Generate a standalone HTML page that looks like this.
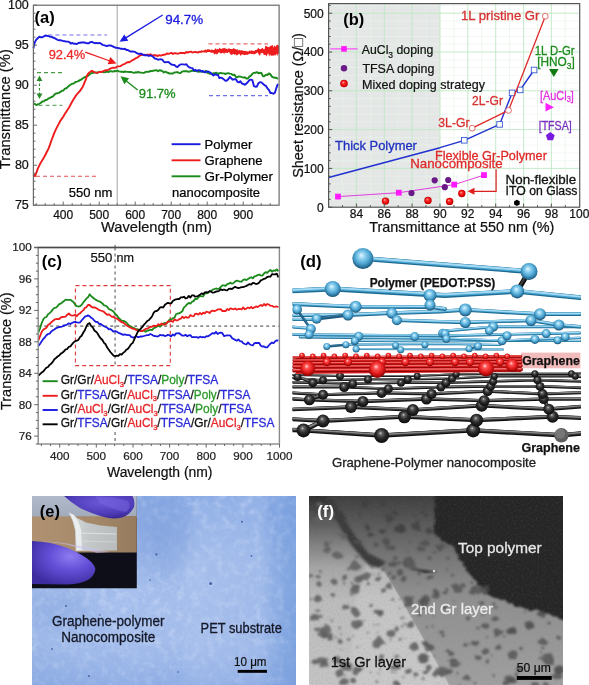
<!DOCTYPE html>
<html><head><meta charset="utf-8"><title>Graphene-polymer nanocomposite figure</title>
<style>
html,body{margin:0;padding:0;background:#fff;}
body{width:589px;height:685px;overflow:hidden;position:relative;}
svg{position:absolute;left:0;top:0;display:block;}
svg text{font-family:'Liberation Sans', Arial, sans-serif;}
</style></head><body>
<svg width="589" height="685" viewBox="0 0 589 685">
<line x1="117.2" y1="5.2" x2="117.2" y2="205.2" stroke="#9a9a9a" stroke-width="0.9" />
<line x1="48.4" y1="35.0" x2="107.0" y2="35.0" stroke="#7070e8" stroke-width="1.1" stroke-dasharray="4 3"/>
<line x1="209.0" y1="95.6" x2="268.0" y2="95.6" stroke="#7070e8" stroke-width="1.1" stroke-dasharray="4 3"/>
<line x1="208.5" y1="43.9" x2="268.0" y2="43.9" stroke="#ea6a6a" stroke-width="1.1" stroke-dasharray="4 3"/>
<line x1="36.0" y1="176.3" x2="97.2" y2="176.3" stroke="#e05050" stroke-width="1.1" stroke-dasharray="4 3"/>
<line x1="37.0" y1="72.6" x2="62.4" y2="72.6" stroke="#4a9a4a" stroke-width="1.1" stroke-dasharray="4 3"/>
<line x1="38.5" y1="105.4" x2="62.4" y2="105.4" stroke="#6aaa6a" stroke-width="1.1" stroke-dasharray="4 3"/>
<line x1="39.5" y1="79.0" x2="39.5" y2="96.0" stroke="#2a8a2a" stroke-width="1.1" stroke-dasharray="2.5 2"/>
<polygon points="39.5,75.5 36.6,81 42.4,81" fill="#2a8a2a"/>
<polygon points="39.5,99 36.6,93.5 42.4,93.5" fill="#2a8a2a"/>
<polyline points="33.4,103.6 34.9,104.0 36.4,105.1 37.9,104.2 39.4,103.8 40.9,102.8 42.4,101.5 43.9,101.2 45.4,100.0 46.9,99.7 48.4,98.6 49.9,97.8 51.4,97.0 52.9,96.5 54.4,94.6 55.9,93.5 57.4,93.2 58.9,92.9 60.4,91.9 61.9,90.8 63.4,90.5 64.9,88.6 66.4,88.3 67.9,86.8 69.4,85.5 70.9,84.5 72.4,83.7 73.9,83.4 75.4,82.0 76.9,81.6 78.4,81.1 79.9,80.1 81.4,79.5 82.9,78.3 84.4,77.4 85.9,76.6 87.4,76.2 88.9,75.0 90.4,73.7 91.9,73.0 93.4,72.8 94.9,72.4 96.4,72.7 97.9,72.5 99.4,71.8 100.9,71.9 102.4,71.9 103.9,72.2 105.4,72.1 106.9,71.5 108.4,72.1 109.9,71.2 111.4,71.3 112.9,71.7 114.4,71.0 115.9,71.2 117.4,70.7 118.9,71.3 120.4,71.7 121.9,71.6 123.4,72.0 124.9,71.5 126.4,71.9 127.9,71.9 129.4,72.0 130.9,71.9 132.4,72.4 133.9,72.8 135.4,72.3 136.9,72.5 138.4,71.9 139.9,72.6 141.4,72.6 142.9,72.9 144.4,72.7 145.9,71.9 147.4,71.7 148.9,71.9 150.4,70.8 151.9,71.2 153.4,70.7 154.9,70.4 156.4,70.1 157.9,71.2 159.4,70.2 160.9,70.5 162.4,71.1 163.9,72.5 165.4,71.7 166.9,72.5 168.4,73.0 169.9,73.6 171.4,73.5 172.9,73.5 174.4,72.4 175.9,72.3 177.4,72.1 178.9,72.9 180.4,73.1 181.9,71.7 183.4,71.3 184.9,71.2 186.4,71.2 187.9,71.5 189.4,71.7 190.9,71.1 192.4,70.5 193.9,71.0 195.4,70.9 196.9,71.2 198.4,71.9 199.9,71.6 201.4,71.4 202.9,71.7 204.4,72.0 205.9,70.8 207.4,72.9 208.9,73.3 210.4,73.8 211.9,74.0 213.4,73.1 214.9,73.2 216.4,72.6 217.9,74.1 219.4,73.1 220.9,73.0 222.4,73.4 223.9,73.4 225.4,74.0 226.9,73.4 228.4,73.2 229.9,73.6 231.4,73.9 232.9,75.0 234.4,74.6 235.9,77.1 237.4,77.3 238.9,76.4 240.4,76.6 241.9,77.2 243.4,77.6 244.9,77.3 246.4,78.5 247.9,78.5 249.4,76.6 250.9,75.6 252.4,73.8 253.9,72.9 255.4,72.8 256.9,72.1 258.4,73.3 259.9,72.8 261.4,73.0 262.9,76.2 264.4,76.2 265.9,74.6 267.4,75.0 268.9,73.4 270.4,74.4 271.9,76.6 273.4,77.5 274.9,77.8 276.4,77.7 277.9,78.9" fill="none" stroke="#1a8a1a" stroke-width="1.9" stroke-linejoin="round" />
<polyline points="33.4,174.5 34.9,176.2 36.4,172.7 37.9,168.4 39.4,165.3 40.9,162.4 42.4,160.1 43.9,157.6 45.4,154.7 46.9,151.8 48.4,148.9 49.9,144.9 51.4,140.5 52.9,136.7 54.4,132.7 55.9,129.4 57.4,126.4 58.9,123.6 60.4,120.7 61.9,118.6 63.4,116.5 64.9,113.7 66.4,111.6 67.9,109.3 69.4,106.9 70.9,104.0 72.4,101.3 73.9,98.8 75.4,96.4 76.9,94.3 78.4,92.7 79.9,91.0 81.4,88.9 82.9,86.4 84.4,82.8 85.9,79.1 87.4,74.9 88.9,72.7 90.4,71.8 91.9,70.7 93.4,71.6 94.9,72.3 96.4,72.7 97.9,72.7 99.4,72.0 100.9,72.0 102.4,71.8 103.9,70.9 105.4,70.3 106.9,70.3 108.4,69.8 109.9,68.8 111.4,68.1 112.9,67.7 114.4,67.9 115.9,67.5 117.4,66.4 118.9,66.4 120.4,66.1 121.9,65.2 123.4,64.3 124.9,63.8 126.4,62.8 127.9,62.0 129.4,62.2 130.9,61.2 132.4,60.2 133.9,59.6 135.4,58.4 136.9,57.8 138.4,56.9 139.9,55.4 141.4,55.0 142.9,54.9 144.4,54.8 145.9,55.0 147.4,54.8 148.9,54.8 150.4,54.3 151.9,55.6 153.4,55.1 154.9,55.2 156.4,55.5 157.9,56.0 159.4,55.2 160.9,55.7 162.4,55.0 163.9,54.7 165.4,54.6 166.9,53.5 168.4,53.9 169.9,53.4 171.4,52.8 172.9,54.0 174.4,53.1 175.9,53.3 177.4,53.7 178.9,53.4 180.4,52.8 181.9,53.0 183.4,53.0 184.9,53.3 186.4,52.0 187.9,52.5 189.4,51.9 190.9,51.7 192.4,52.5 193.9,52.1 195.4,52.0 196.9,52.3 198.4,52.5 199.9,51.7 201.4,51.7 202.9,51.4 204.4,51.3 205.9,51.5 207.4,51.0 208.9,51.1 210.4,51.0 211.9,51.8 213.4,51.6 214.9,51.8 216.4,52.0 217.9,50.8 219.4,51.1 220.9,51.8 222.4,51.8 223.9,50.6 225.4,50.2 226.9,50.7 228.4,50.3 229.9,50.6 231.4,50.6 232.9,51.8 234.4,52.4 235.9,52.9 237.4,51.8 238.9,52.7 240.4,53.0 241.9,52.3 243.4,53.6 244.9,54.2 246.4,52.7 247.9,53.5 249.4,52.6 250.9,52.3 252.4,53.0 253.9,52.7 255.4,51.3 256.9,51.3 258.4,51.3 259.9,50.9 261.4,50.4 262.9,50.4 264.4,51.1 265.9,49.8 267.4,50.4 268.9,50.2 270.4,49.4 271.9,49.8 273.4,50.4 274.9,50.3 276.4,49.5 277.9,51.0" fill="none" stroke="#ee1c1c" stroke-width="1.9" stroke-linejoin="round" />
<polygon points="198.0,51.5 198.9,50.9 199.8,50.9 200.7,51.6 201.6,50.2 202.5,51.4 203.4,51.1 204.3,51.4 205.2,48.9 206.1,50.4 207.0,49.4 207.9,49.1 208.8,49.4 209.7,49.4 210.6,50.3 211.5,49.4 212.4,49.8 213.3,50.1 214.2,50.0 215.1,48.5 216.0,48.4 216.9,49.7 217.8,48.7 218.7,49.2 219.6,47.5 220.5,48.8 221.4,48.9 222.3,48.6 223.2,48.1 224.1,48.5 225.0,47.4 225.9,49.3 226.8,48.6 227.7,49.5 228.6,48.3 229.5,48.5 230.4,49.1 231.3,49.0 232.2,49.3 233.1,48.4 234.0,48.1 234.9,49.3 235.8,49.0 236.7,49.8 237.6,49.3 238.5,50.8 239.4,49.8 240.3,50.6 241.2,50.2 242.1,50.1 243.0,51.3 243.9,50.5 244.8,51.2 245.7,50.7 246.6,51.5 247.5,51.2 248.4,51.8 249.3,50.3 250.2,51.5 251.1,50.1 252.0,51.1 252.9,50.4 253.8,51.3 254.7,51.5 255.6,50.0 256.5,49.9 257.4,49.3 258.3,47.7 259.2,49.0 260.1,49.3 261.0,49.3 261.9,48.3 262.8,47.9 263.7,49.6 264.6,49.3 265.5,45.3 266.4,46.3 267.3,46.7 268.2,47.1 269.1,47.2 270.0,46.3 270.9,45.8 271.8,45.5 272.7,45.1 273.6,47.7 274.5,45.0 275.4,47.0 276.3,45.4 277.2,44.8 278.1,45.0 279.0,46.3 279.0,53.7 278.1,53.7 277.2,55.9 276.3,53.6 275.4,55.8 274.5,55.1 273.6,55.8 272.7,55.5 271.8,55.7 270.9,55.7 270.0,54.3 269.1,56.7 268.2,53.1 267.3,54.8 266.4,56.4 265.5,54.7 264.6,55.0 263.7,54.7 262.8,52.8 261.9,53.4 261.0,52.8 260.1,55.2 259.2,55.4 258.3,53.4 257.4,52.2 256.5,53.3 255.6,53.7 254.7,54.0 253.8,54.7 252.9,53.1 252.0,54.1 251.1,53.8 250.2,53.6 249.3,53.5 248.4,54.1 247.5,54.9 246.6,54.5 245.7,54.8 244.8,54.4 243.9,53.7 243.0,54.7 242.1,53.9 241.2,55.3 240.3,55.8 239.4,53.6 238.5,54.3 237.6,55.1 236.7,55.7 235.8,53.9 234.9,55.1 234.0,54.2 233.1,53.8 232.2,54.7 231.3,54.8 230.4,54.4 229.5,52.4 228.6,52.1 227.7,53.0 226.8,52.8 225.9,53.0 225.0,52.6 224.1,54.2 223.2,52.4 222.3,52.9 221.4,53.6 220.5,53.5 219.6,52.3 218.7,52.5 217.8,53.6 216.9,54.8 216.0,53.6 215.1,53.9 214.2,54.7 213.3,52.3 212.4,52.1 211.5,51.3 210.6,52.7 209.7,51.6 208.8,51.2 207.9,51.4 207.0,52.2 206.1,52.8 205.2,51.4 204.3,52.5 203.4,51.9 202.5,52.0 201.6,51.4 200.7,52.6 199.8,51.7 198.9,51.8 198.0,52.5" fill="#ee1c1c"/>
<polyline points="33.4,48.2 34.9,41.9 36.4,39.6 37.9,38.0 39.4,36.7 40.9,37.3 42.4,37.3 43.9,36.3 45.4,35.5 46.9,35.8 48.4,36.0 49.9,36.7 51.4,36.9 52.9,37.5 54.4,38.0 55.9,38.9 57.4,39.8 58.9,40.2 60.4,40.2 61.9,40.6 63.4,41.1 64.9,41.3 66.4,41.6 67.9,41.6 69.4,42.2 70.9,43.5 72.4,43.0 73.9,43.7 75.4,43.8 76.9,44.0 78.4,43.0 79.9,42.7 81.4,42.5 82.9,42.5 84.4,42.4 85.9,43.1 87.4,43.2 88.9,43.2 90.4,42.1 91.9,41.9 93.4,42.7 94.9,43.2 96.4,42.9 97.9,43.3 99.4,42.9 100.9,43.6 102.4,44.8 103.9,45.2 105.4,45.6 106.9,46.2 108.4,45.5 109.9,45.4 111.4,45.7 112.9,46.5 114.4,47.1 115.9,47.8 117.4,47.9 118.9,48.2 120.4,48.7 121.9,48.7 123.4,49.1 124.9,48.8 126.4,50.0 127.9,49.9 129.4,51.1 130.9,51.5 132.4,51.5 133.9,51.6 135.4,52.2 136.9,53.2 138.4,53.9 139.9,53.7 141.4,53.8 142.9,54.6 144.4,55.2 145.9,55.2 147.4,55.3 148.9,56.0 150.4,55.3 151.9,56.0 153.4,57.0 154.9,58.6 156.4,58.8 157.9,59.7 159.4,59.4 160.9,59.3 162.4,59.7 163.9,61.8 165.4,62.3 166.9,62.1 168.4,61.9 169.9,63.3 171.4,64.5 172.9,64.8 174.4,65.0 175.9,66.4 177.4,67.1 178.9,65.5 180.4,64.4 181.9,64.4 183.4,64.4 184.9,64.6 186.4,64.3 187.9,66.3 189.4,67.4 190.9,67.9 192.4,68.1 193.9,70.5 195.4,69.8 196.9,71.0 198.4,70.2 199.9,70.3 201.4,71.5 202.9,71.0 204.4,72.3 205.9,72.0 207.4,71.4 208.9,71.7 210.4,72.7 211.9,74.0 213.4,75.5 214.9,74.1 216.4,74.8 217.9,74.9 219.4,78.1 220.9,77.6 222.4,78.2 223.9,79.4 225.4,80.7 226.9,80.5 228.4,79.0 229.9,76.9 231.4,78.5 232.9,79.7 234.4,79.2 235.9,79.3 237.4,81.8 238.9,82.4 240.4,81.2 241.9,83.4 243.4,84.0 244.9,84.8 246.4,83.6 247.9,82.0 249.4,80.2 250.9,79.7 252.4,80.2 253.9,86.1 255.4,86.7 256.9,86.5 258.4,83.2 259.9,82.2 261.4,82.4 262.9,83.7 264.4,85.1 265.9,85.8 267.4,88.3 268.9,89.9 270.4,93.0 271.9,93.0 273.4,93.7 274.9,92.7 276.4,87.8 277.9,83.9" fill="none" stroke="#1a1ae0" stroke-width="1.9" stroke-linejoin="round" />
<line x1="162.7" y1="15.0" x2="125.4" y2="38.1" stroke="#1a1ae0" stroke-width="1.3" />
<polygon points="119.5,41.8 124.3,34.4 128.3,40.8" fill="#1a1ae0"/>
<line x1="85.3" y1="52.2" x2="109.9" y2="61.0" stroke="#ee1c1c" stroke-width="1.3" />
<polygon points="116.5,63.4 107.7,64.3 110.3,57.1" fill="#ee1c1c"/>
<line x1="137.7" y1="90.1" x2="126.0" y2="80.7" stroke="#1a8a1a" stroke-width="1.3" />
<polygon points="120.5,76.3 129.1,78.3 124.4,84.3" fill="#1a8a1a"/>
<text x="165.2" y="24.0" font-size="13" fill="#1a1ae0" stroke="#1a1ae0" stroke-width="0.3" textLength="38.0" lengthAdjust="spacingAndGlyphs" >94.7%</text>
<text x="48.7" y="59.4" font-size="13" fill="#ee2a2a" stroke="#ee2a2a" stroke-width="0.3" textLength="36.5" lengthAdjust="spacingAndGlyphs" >92.4%</text>
<text x="138.7" y="97.8" font-size="13" fill="#1a8a1a" stroke="#1a8a1a" stroke-width="0.3" textLength="37.0" lengthAdjust="spacingAndGlyphs" >91.7%</text>
<text x="34.6" y="22.5" font-size="17" fill="#000" font-weight="700" textLength="20.2" lengthAdjust="spacingAndGlyphs" >(a)</text>
<line x1="171.6" y1="144.2" x2="200.5" y2="144.2" stroke="#1a1ae0" stroke-width="1.9" />
<line x1="171.6" y1="160.3" x2="200.5" y2="160.3" stroke="#ee1c1c" stroke-width="1.9" />
<line x1="171.6" y1="176.3" x2="200.5" y2="176.3" stroke="#1a8a1a" stroke-width="1.9" />
<text x="204.5" y="149.3" font-size="13" fill="#000" stroke="#000" stroke-width="0.22" textLength="47.8" lengthAdjust="spacingAndGlyphs" >Polymer</text>
<text x="204.5" y="165.3" font-size="13" fill="#000" stroke="#000" stroke-width="0.22" textLength="58.0" lengthAdjust="spacingAndGlyphs" >Graphene</text>
<text x="204.5" y="181.3" font-size="13" fill="#000" stroke="#000" stroke-width="0.22" textLength="68.5" lengthAdjust="spacingAndGlyphs" >Gr-Polymer</text>
<text x="172.1" y="196.8" font-size="13" fill="#000" stroke="#000" stroke-width="0.22" textLength="88.0" lengthAdjust="spacingAndGlyphs" >nanocomposite</text>
<text x="68.8" y="196.8" font-size="13" fill="#000" stroke="#000" stroke-width="0.22" textLength="43.5" lengthAdjust="spacingAndGlyphs" >550 nm</text>
<rect x="33.4" y="5.2" width="245.7" height="200.0" fill="none" stroke="#6a6a6a" stroke-width="1.2"/>
<line x1="33.4" y1="205.2" x2="37.0" y2="205.2" stroke="#6a6a6a" stroke-width="1" />
<text x="28.8" y="208.8" font-size="12.5" fill="#111" stroke="#111" stroke-width="0.22" text-anchor="end" >75</text>
<line x1="33.4" y1="197.2" x2="35.5" y2="197.2" stroke="#6a6a6a" stroke-width="1" />
<line x1="33.4" y1="189.2" x2="35.5" y2="189.2" stroke="#6a6a6a" stroke-width="1" />
<line x1="33.4" y1="181.2" x2="35.5" y2="181.2" stroke="#6a6a6a" stroke-width="1" />
<line x1="33.4" y1="173.2" x2="35.5" y2="173.2" stroke="#6a6a6a" stroke-width="1" />
<line x1="33.4" y1="165.2" x2="37.0" y2="165.2" stroke="#6a6a6a" stroke-width="1" />
<text x="28.8" y="168.8" font-size="12.5" fill="#111" stroke="#111" stroke-width="0.22" text-anchor="end" >80</text>
<line x1="33.4" y1="157.2" x2="35.5" y2="157.2" stroke="#6a6a6a" stroke-width="1" />
<line x1="33.4" y1="149.2" x2="35.5" y2="149.2" stroke="#6a6a6a" stroke-width="1" />
<line x1="33.4" y1="141.2" x2="35.5" y2="141.2" stroke="#6a6a6a" stroke-width="1" />
<line x1="33.4" y1="133.2" x2="35.5" y2="133.2" stroke="#6a6a6a" stroke-width="1" />
<line x1="33.4" y1="125.2" x2="37.0" y2="125.2" stroke="#6a6a6a" stroke-width="1" />
<text x="28.8" y="128.8" font-size="12.5" fill="#111" stroke="#111" stroke-width="0.22" text-anchor="end" >85</text>
<line x1="33.4" y1="117.2" x2="35.5" y2="117.2" stroke="#6a6a6a" stroke-width="1" />
<line x1="33.4" y1="109.2" x2="35.5" y2="109.2" stroke="#6a6a6a" stroke-width="1" />
<line x1="33.4" y1="101.2" x2="35.5" y2="101.2" stroke="#6a6a6a" stroke-width="1" />
<line x1="33.4" y1="93.2" x2="35.5" y2="93.2" stroke="#6a6a6a" stroke-width="1" />
<line x1="33.4" y1="85.2" x2="37.0" y2="85.2" stroke="#6a6a6a" stroke-width="1" />
<text x="28.8" y="88.8" font-size="12.5" fill="#111" stroke="#111" stroke-width="0.22" text-anchor="end" >90</text>
<line x1="33.4" y1="77.2" x2="35.5" y2="77.2" stroke="#6a6a6a" stroke-width="1" />
<line x1="33.4" y1="69.2" x2="35.5" y2="69.2" stroke="#6a6a6a" stroke-width="1" />
<line x1="33.4" y1="61.2" x2="35.5" y2="61.2" stroke="#6a6a6a" stroke-width="1" />
<line x1="33.4" y1="53.2" x2="35.5" y2="53.2" stroke="#6a6a6a" stroke-width="1" />
<line x1="33.4" y1="45.2" x2="37.0" y2="45.2" stroke="#6a6a6a" stroke-width="1" />
<text x="28.8" y="48.8" font-size="12.5" fill="#111" stroke="#111" stroke-width="0.22" text-anchor="end" >95</text>
<line x1="33.4" y1="37.2" x2="35.5" y2="37.2" stroke="#6a6a6a" stroke-width="1" />
<line x1="33.4" y1="29.2" x2="35.5" y2="29.2" stroke="#6a6a6a" stroke-width="1" />
<line x1="33.4" y1="21.2" x2="35.5" y2="21.2" stroke="#6a6a6a" stroke-width="1" />
<line x1="33.4" y1="13.2" x2="35.5" y2="13.2" stroke="#6a6a6a" stroke-width="1" />
<line x1="33.4" y1="5.2" x2="37.0" y2="5.2" stroke="#6a6a6a" stroke-width="1" />
<text x="28.8" y="8.8" font-size="12.5" fill="#111" stroke="#111" stroke-width="0.22" text-anchor="end" >100</text>
<line x1="36.2" y1="205.2" x2="36.2" y2="203.1" stroke="#6a6a6a" stroke-width="1" />
<line x1="45.2" y1="205.2" x2="45.2" y2="203.1" stroke="#6a6a6a" stroke-width="1" />
<line x1="54.2" y1="205.2" x2="54.2" y2="203.1" stroke="#6a6a6a" stroke-width="1" />
<line x1="63.2" y1="205.2" x2="63.2" y2="201.6" stroke="#6a6a6a" stroke-width="1" />
<text x="63.2" y="218.9" font-size="12" fill="#111" stroke="#111" stroke-width="0.22" text-anchor="middle" >400</text>
<line x1="72.2" y1="205.2" x2="72.2" y2="203.1" stroke="#6a6a6a" stroke-width="1" />
<line x1="81.2" y1="205.2" x2="81.2" y2="203.1" stroke="#6a6a6a" stroke-width="1" />
<line x1="90.2" y1="205.2" x2="90.2" y2="203.1" stroke="#6a6a6a" stroke-width="1" />
<line x1="99.2" y1="205.2" x2="99.2" y2="201.6" stroke="#6a6a6a" stroke-width="1" />
<text x="99.2" y="218.9" font-size="12" fill="#111" stroke="#111" stroke-width="0.22" text-anchor="middle" >500</text>
<line x1="108.2" y1="205.2" x2="108.2" y2="203.1" stroke="#6a6a6a" stroke-width="1" />
<line x1="117.2" y1="205.2" x2="117.2" y2="203.1" stroke="#6a6a6a" stroke-width="1" />
<line x1="126.2" y1="205.2" x2="126.2" y2="203.1" stroke="#6a6a6a" stroke-width="1" />
<line x1="135.2" y1="205.2" x2="135.2" y2="201.6" stroke="#6a6a6a" stroke-width="1" />
<text x="135.2" y="218.9" font-size="12" fill="#111" stroke="#111" stroke-width="0.22" text-anchor="middle" >600</text>
<line x1="144.2" y1="205.2" x2="144.2" y2="203.1" stroke="#6a6a6a" stroke-width="1" />
<line x1="153.2" y1="205.2" x2="153.2" y2="203.1" stroke="#6a6a6a" stroke-width="1" />
<line x1="162.2" y1="205.2" x2="162.2" y2="203.1" stroke="#6a6a6a" stroke-width="1" />
<line x1="171.2" y1="205.2" x2="171.2" y2="201.6" stroke="#6a6a6a" stroke-width="1" />
<text x="171.2" y="218.9" font-size="12" fill="#111" stroke="#111" stroke-width="0.22" text-anchor="middle" >700</text>
<line x1="180.2" y1="205.2" x2="180.2" y2="203.1" stroke="#6a6a6a" stroke-width="1" />
<line x1="189.2" y1="205.2" x2="189.2" y2="203.1" stroke="#6a6a6a" stroke-width="1" />
<line x1="198.2" y1="205.2" x2="198.2" y2="203.1" stroke="#6a6a6a" stroke-width="1" />
<line x1="207.2" y1="205.2" x2="207.2" y2="201.6" stroke="#6a6a6a" stroke-width="1" />
<text x="207.2" y="218.9" font-size="12" fill="#111" stroke="#111" stroke-width="0.22" text-anchor="middle" >800</text>
<line x1="216.2" y1="205.2" x2="216.2" y2="203.1" stroke="#6a6a6a" stroke-width="1" />
<line x1="225.2" y1="205.2" x2="225.2" y2="203.1" stroke="#6a6a6a" stroke-width="1" />
<line x1="234.2" y1="205.2" x2="234.2" y2="203.1" stroke="#6a6a6a" stroke-width="1" />
<line x1="243.2" y1="205.2" x2="243.2" y2="201.6" stroke="#6a6a6a" stroke-width="1" />
<text x="243.2" y="218.9" font-size="12" fill="#111" stroke="#111" stroke-width="0.22" text-anchor="middle" >900</text>
<line x1="252.2" y1="205.2" x2="252.2" y2="203.1" stroke="#6a6a6a" stroke-width="1" />
<line x1="261.2" y1="205.2" x2="261.2" y2="203.1" stroke="#6a6a6a" stroke-width="1" />
<line x1="270.2" y1="205.2" x2="270.2" y2="203.1" stroke="#6a6a6a" stroke-width="1" />
<text x="10.5" y="169.2" font-size="14.7" fill="#111" stroke="#111" stroke-width="0.22" textLength="120.0" lengthAdjust="spacingAndGlyphs" transform="rotate(-90 10.5 169.2)" >Transmittance (%)</text>
<text x="101.0" y="232.0" font-size="15" fill="#111" stroke="#111" stroke-width="0.22" textLength="111.0" lengthAdjust="spacingAndGlyphs" >Wavelength (nm)</text>
<rect x="328.6" y="3.6" width="251.1" height="203.6" fill="#ffffff"/>
<rect x="328.6" y="3.6" width="111.4" height="203.6" fill="#e4e7e6"/>
<line x1="342.5" y1="3.6" x2="342.5" y2="207.2" stroke="#e6f4e8" stroke-width="0.7" />
<line x1="370.3" y1="3.6" x2="370.3" y2="207.2" stroke="#e6f4e8" stroke-width="0.7" />
<line x1="398.2" y1="3.6" x2="398.2" y2="207.2" stroke="#e6f4e8" stroke-width="0.7" />
<line x1="426.0" y1="3.6" x2="426.0" y2="207.2" stroke="#e6f4e8" stroke-width="0.7" />
<line x1="453.9" y1="3.6" x2="453.9" y2="207.2" stroke="#e6f4e8" stroke-width="0.7" />
<line x1="481.8" y1="3.6" x2="481.8" y2="207.2" stroke="#e6f4e8" stroke-width="0.7" />
<line x1="509.6" y1="3.6" x2="509.6" y2="207.2" stroke="#e6f4e8" stroke-width="0.7" />
<line x1="537.5" y1="3.6" x2="537.5" y2="207.2" stroke="#e6f4e8" stroke-width="0.7" />
<line x1="565.3" y1="3.6" x2="565.3" y2="207.2" stroke="#e6f4e8" stroke-width="0.7" />
<line x1="328.6" y1="199.4" x2="579.7" y2="199.4" stroke="#e9f5eb" stroke-width="0.6" />
<line x1="328.6" y1="191.7" x2="579.7" y2="191.7" stroke="#e9f5eb" stroke-width="0.6" />
<line x1="328.6" y1="183.9" x2="579.7" y2="183.9" stroke="#e9f5eb" stroke-width="0.6" />
<line x1="328.6" y1="176.2" x2="579.7" y2="176.2" stroke="#e9f5eb" stroke-width="0.6" />
<line x1="328.6" y1="160.6" x2="579.7" y2="160.6" stroke="#e9f5eb" stroke-width="0.6" />
<line x1="328.6" y1="152.9" x2="579.7" y2="152.9" stroke="#e9f5eb" stroke-width="0.6" />
<line x1="328.6" y1="145.1" x2="579.7" y2="145.1" stroke="#e9f5eb" stroke-width="0.6" />
<line x1="328.6" y1="137.4" x2="579.7" y2="137.4" stroke="#e9f5eb" stroke-width="0.6" />
<line x1="328.6" y1="121.8" x2="579.7" y2="121.8" stroke="#e9f5eb" stroke-width="0.6" />
<line x1="328.6" y1="114.1" x2="579.7" y2="114.1" stroke="#e9f5eb" stroke-width="0.6" />
<line x1="328.6" y1="106.3" x2="579.7" y2="106.3" stroke="#e9f5eb" stroke-width="0.6" />
<line x1="328.6" y1="98.6" x2="579.7" y2="98.6" stroke="#e9f5eb" stroke-width="0.6" />
<line x1="328.6" y1="83.0" x2="579.7" y2="83.0" stroke="#e9f5eb" stroke-width="0.6" />
<line x1="328.6" y1="75.3" x2="579.7" y2="75.3" stroke="#e9f5eb" stroke-width="0.6" />
<line x1="328.6" y1="67.5" x2="579.7" y2="67.5" stroke="#e9f5eb" stroke-width="0.6" />
<line x1="328.6" y1="59.8" x2="579.7" y2="59.8" stroke="#e9f5eb" stroke-width="0.6" />
<line x1="328.6" y1="44.2" x2="579.7" y2="44.2" stroke="#e9f5eb" stroke-width="0.6" />
<line x1="328.6" y1="36.5" x2="579.7" y2="36.5" stroke="#e9f5eb" stroke-width="0.6" />
<line x1="328.6" y1="28.7" x2="579.7" y2="28.7" stroke="#e9f5eb" stroke-width="0.6" />
<line x1="328.6" y1="21.0" x2="579.7" y2="21.0" stroke="#e9f5eb" stroke-width="0.6" />
<line x1="328.6" y1="5.4" x2="579.7" y2="5.4" stroke="#e9f5eb" stroke-width="0.6" />
<line x1="356.4" y1="3.6" x2="356.4" y2="207.2" stroke="#bfe8c4" stroke-width="0.9" />
<line x1="384.3" y1="3.6" x2="384.3" y2="207.2" stroke="#bfe8c4" stroke-width="0.9" />
<line x1="412.1" y1="3.6" x2="412.1" y2="207.2" stroke="#bfe8c4" stroke-width="0.9" />
<line x1="440.0" y1="3.6" x2="440.0" y2="207.2" stroke="#bfe8c4" stroke-width="0.9" />
<line x1="467.8" y1="3.6" x2="467.8" y2="207.2" stroke="#bfe8c4" stroke-width="0.9" />
<line x1="495.7" y1="3.6" x2="495.7" y2="207.2" stroke="#bfe8c4" stroke-width="0.9" />
<line x1="523.6" y1="3.6" x2="523.6" y2="207.2" stroke="#bfe8c4" stroke-width="0.9" />
<line x1="551.4" y1="3.6" x2="551.4" y2="207.2" stroke="#bfe8c4" stroke-width="0.9" />
<line x1="328.6" y1="168.4" x2="579.7" y2="168.4" stroke="#bfe8c4" stroke-width="0.9" />
<line x1="328.6" y1="129.6" x2="579.7" y2="129.6" stroke="#bfe8c4" stroke-width="0.9" />
<line x1="328.6" y1="90.8" x2="579.7" y2="90.8" stroke="#bfe8c4" stroke-width="0.9" />
<line x1="328.6" y1="52.0" x2="579.7" y2="52.0" stroke="#bfe8c4" stroke-width="0.9" />
<line x1="328.6" y1="13.2" x2="579.7" y2="13.2" stroke="#bfe8c4" stroke-width="0.9" />
<polyline points="328.6,177.5 440.0,147.7 464.3,140.3 499.6,124.4 512.1,92.9 520.2,89.9 534.1,70.0" fill="none" stroke="#2030d0" stroke-width="1.4" stroke-linejoin="round" />
<rect x="461.5" y="137.5" width="5.6" height="5.6" fill="#fff" stroke="#3a5ad8" stroke-width="0.9"/>
<rect x="496.8" y="121.6" width="5.6" height="5.6" fill="#fff" stroke="#3a5ad8" stroke-width="0.9"/>
<rect x="509.3" y="90.1" width="5.6" height="5.6" fill="#fff" stroke="#3a5ad8" stroke-width="0.9"/>
<rect x="517.4" y="87.1" width="5.6" height="5.6" fill="#fff" stroke="#3a5ad8" stroke-width="0.9"/>
<rect x="531.3" y="67.2" width="5.6" height="5.6" fill="#fff" stroke="#3a5ad8" stroke-width="0.9"/>
<polyline points="472.2,128.2 508.5,110.4 545.3,16.2" fill="none" stroke="#e02a2a" stroke-width="1.3" stroke-linejoin="round" />
<circle cx="472.2" cy="128.2" r="2.9" fill="#fff" stroke="#e05a5a" stroke-width="0.9"/>
<circle cx="508.5" cy="110.4" r="2.9" fill="#fff" stroke="#e05a5a" stroke-width="0.9"/>
<circle cx="545.3" cy="16.2" r="2.9" fill="#fff" stroke="#e05a5a" stroke-width="0.9"/>
<polyline points="338.0,196.6 398.8,192.7 454.2,184.6 484.0,175.1" fill="none" stroke="#e040e0" stroke-width="1.0" stroke-linejoin="round" />
<rect x="335.1" y="193.7" width="5.8" height="5.8" fill="#ff1aff"/>
<rect x="395.9" y="189.8" width="5.8" height="5.8" fill="#ff1aff"/>
<rect x="451.3" y="181.7" width="5.8" height="5.8" fill="#ff1aff"/>
<rect x="481.1" y="172.2" width="5.8" height="5.8" fill="#ff1aff"/>
<circle cx="411.5" cy="193.0" r="3.1" fill="#6a1a86"/>
<circle cx="434.7" cy="180.3" r="3.1" fill="#6a1a86"/>
<circle cx="444.8" cy="187.2" r="3.1" fill="#6a1a86"/>
<circle cx="448.2" cy="180.0" r="3.1" fill="#6a1a86"/>
<defs><radialGradient id="rball" cx="0.5" cy="0.5" r="0.5" fx="0.38" fy="0.32"><stop offset="0" stop-color="#ffe0e0"/><stop offset="0.25" stop-color="#ff4040"/><stop offset="0.8" stop-color="#e00000"/><stop offset="1" stop-color="#b00000"/></radialGradient></defs>
<circle cx="385.5" cy="201.1" r="3.7" fill="url(#rball)"/>
<circle cx="428.0" cy="200.4" r="3.7" fill="url(#rball)"/>
<circle cx="449.6" cy="201.4" r="3.7" fill="url(#rball)"/>
<circle cx="461.8" cy="193.5" r="3.7" fill="url(#rball)"/>
<polyline points="496.1,169.2 496.1,191.3 473,191.3" fill="none" stroke="#e02020" stroke-width="1.2"/>
<polygon points="467.5,191.3 474.5,187.8 474.5,194.8" fill="#e02020"/>
<polygon points="519.7,204.5 516.9,206.1 514.1,204.5 514.1,201.3 516.9,199.7 519.7,201.3" fill="#000"/>
<polygon points="549.0,69.0 558.6,69.0 553.8,77.0" fill="#107a10"/>
<polygon points="545.5,102.8 545.5,111.6 553.9,107.2" fill="#ff20ff"/>
<polygon points="550.3,132.0 554.7,135.2 553.0,140.3 547.6,140.3 545.9,135.2" fill="#7a1ae0"/>
<text x="461.0" y="20.2" font-size="13" fill="#d83030" stroke="#d83030" stroke-width="0.3" textLength="78.5" lengthAdjust="spacingAndGlyphs" >1L pristine Gr</text>
<text x="534.8" y="54.8" font-size="13" fill="#1a8a1a" stroke="#1a8a1a" stroke-width="0.3" textLength="39.8" lengthAdjust="spacingAndGlyphs" >1L D-Gr</text>
<text x="537.2" y="66.3" font-size="13" fill="#1a8a1a" stroke="#1a8a1a" stroke-width="0.3" textLength="37.5" lengthAdjust="spacingAndGlyphs" >[HNO<tspan font-size="9" dy="2.5">3</tspan><tspan dy="-2.5">]</tspan></text>
<text x="539.9" y="99.6" font-size="13" fill="#e030e0" stroke="#e030e0" stroke-width="0.3" textLength="34.0" lengthAdjust="spacingAndGlyphs" >[AuCl<tspan font-size="9" dy="2.5">3</tspan><tspan dy="-2.5">]</tspan></text>
<text x="538.7" y="129.6" font-size="13" fill="#7a30c0" stroke="#7a30c0" stroke-width="0.3" textLength="33.0" lengthAdjust="spacingAndGlyphs" >[TFSA]</text>
<text x="472.1" y="105.0" font-size="13" fill="#d83030" stroke="#d83030" stroke-width="0.3" textLength="30.8" lengthAdjust="spacingAndGlyphs" >2L-Gr</text>
<text x="438.3" y="126.9" font-size="13" fill="#d83030" stroke="#d83030" stroke-width="0.3" textLength="31.3" lengthAdjust="spacingAndGlyphs" >3L-Gr</text>
<text x="335.1" y="150.2" font-size="13" fill="#2030c0" stroke="#2030c0" stroke-width="0.3" textLength="81.8" lengthAdjust="spacingAndGlyphs" >Thick Polymer</text>
<text x="434.9" y="160.2" font-size="13" fill="#e02a2a" stroke="#e02a2a" stroke-width="0.3" textLength="112.0" lengthAdjust="spacingAndGlyphs" >Flexible Gr-Polymer</text>
<text x="410.2" y="167.9" font-size="13" fill="#e02a2a" stroke="#e02a2a" stroke-width="0.3" textLength="92.5" lengthAdjust="spacingAndGlyphs" >Nanocomposite</text>
<text x="505.6" y="183.7" font-size="13" fill="#111" stroke="#111" stroke-width="0.3" textLength="70.5" lengthAdjust="spacingAndGlyphs" >Non-flexible</text>
<text x="505.6" y="195.3" font-size="13" fill="#111" stroke="#111" stroke-width="0.3" textLength="71.8" lengthAdjust="spacingAndGlyphs" >ITO on Glass</text>
<text x="343.3" y="24.5" font-size="17" fill="#000" font-weight="700" textLength="21.0" lengthAdjust="spacingAndGlyphs" >(b)</text>
<line x1="330.2" y1="48.9" x2="357.7" y2="48.9" stroke="#ff30ff" stroke-width="1.0" />
<rect x="341.2" y="46.1" width="5.6" height="5.6" fill="#ff1aff"/>
<text x="361.8" y="54.0" font-size="13" fill="#111" stroke="#111" stroke-width="0.22" textLength="71.5" lengthAdjust="spacingAndGlyphs" >AuCl<tspan font-size="9" dy="4">3</tspan><tspan dy="-4"> doping</tspan></text>
<circle cx="344" cy="68.3" r="3.2" fill="#6a1a86"/>
<text x="362.4" y="72.9" font-size="13" fill="#111" stroke="#111" stroke-width="0.22" textLength="72.0" lengthAdjust="spacingAndGlyphs" >TFSA doping</text>
<circle cx="344" cy="83.5" r="3.8" fill="url(#rball)"/>
<text x="362.0" y="88.6" font-size="13" fill="#111" stroke="#111" stroke-width="0.22" textLength="123.0" lengthAdjust="spacingAndGlyphs" >Mixed doping strategy</text>
<rect x="328.6" y="3.6" width="251.1" height="203.6" fill="none" stroke="#555" stroke-width="1.2"/>
<line x1="328.6" y1="207.2" x2="332.2" y2="207.2" stroke="#555" stroke-width="1" />
<text x="323.7" y="211.5" font-size="12" fill="#111" stroke="#111" stroke-width="0.22" text-anchor="end" >0</text>
<line x1="328.6" y1="199.4" x2="330.7" y2="199.4" stroke="#555" stroke-width="1" />
<line x1="328.6" y1="191.7" x2="330.7" y2="191.7" stroke="#555" stroke-width="1" />
<line x1="328.6" y1="183.9" x2="330.7" y2="183.9" stroke="#555" stroke-width="1" />
<line x1="328.6" y1="176.2" x2="330.7" y2="176.2" stroke="#555" stroke-width="1" />
<line x1="328.6" y1="168.4" x2="332.2" y2="168.4" stroke="#555" stroke-width="1" />
<text x="323.7" y="172.7" font-size="12" fill="#111" stroke="#111" stroke-width="0.22" text-anchor="end" >100</text>
<line x1="328.6" y1="160.6" x2="330.7" y2="160.6" stroke="#555" stroke-width="1" />
<line x1="328.6" y1="152.9" x2="330.7" y2="152.9" stroke="#555" stroke-width="1" />
<line x1="328.6" y1="145.1" x2="330.7" y2="145.1" stroke="#555" stroke-width="1" />
<line x1="328.6" y1="137.4" x2="330.7" y2="137.4" stroke="#555" stroke-width="1" />
<line x1="328.6" y1="129.6" x2="332.2" y2="129.6" stroke="#555" stroke-width="1" />
<text x="323.7" y="133.9" font-size="12" fill="#111" stroke="#111" stroke-width="0.22" text-anchor="end" >200</text>
<line x1="328.6" y1="121.8" x2="330.7" y2="121.8" stroke="#555" stroke-width="1" />
<line x1="328.6" y1="114.1" x2="330.7" y2="114.1" stroke="#555" stroke-width="1" />
<line x1="328.6" y1="106.3" x2="330.7" y2="106.3" stroke="#555" stroke-width="1" />
<line x1="328.6" y1="98.6" x2="330.7" y2="98.6" stroke="#555" stroke-width="1" />
<line x1="328.6" y1="90.8" x2="332.2" y2="90.8" stroke="#555" stroke-width="1" />
<text x="323.7" y="95.1" font-size="12" fill="#111" stroke="#111" stroke-width="0.22" text-anchor="end" >300</text>
<line x1="328.6" y1="83.0" x2="330.7" y2="83.0" stroke="#555" stroke-width="1" />
<line x1="328.6" y1="75.3" x2="330.7" y2="75.3" stroke="#555" stroke-width="1" />
<line x1="328.6" y1="67.5" x2="330.7" y2="67.5" stroke="#555" stroke-width="1" />
<line x1="328.6" y1="59.8" x2="330.7" y2="59.8" stroke="#555" stroke-width="1" />
<line x1="328.6" y1="52.0" x2="332.2" y2="52.0" stroke="#555" stroke-width="1" />
<text x="323.7" y="56.3" font-size="12" fill="#111" stroke="#111" stroke-width="0.22" text-anchor="end" >400</text>
<line x1="328.6" y1="44.2" x2="330.7" y2="44.2" stroke="#555" stroke-width="1" />
<line x1="328.6" y1="36.5" x2="330.7" y2="36.5" stroke="#555" stroke-width="1" />
<line x1="328.6" y1="28.7" x2="330.7" y2="28.7" stroke="#555" stroke-width="1" />
<line x1="328.6" y1="21.0" x2="330.7" y2="21.0" stroke="#555" stroke-width="1" />
<line x1="328.6" y1="13.2" x2="332.2" y2="13.2" stroke="#555" stroke-width="1" />
<text x="323.7" y="17.5" font-size="12" fill="#111" stroke="#111" stroke-width="0.22" text-anchor="end" >500</text>
<line x1="328.6" y1="5.4" x2="330.7" y2="5.4" stroke="#555" stroke-width="1" />
<line x1="342.5" y1="207.2" x2="342.5" y2="205.1" stroke="#555" stroke-width="1" />
<line x1="356.4" y1="207.2" x2="356.4" y2="203.6" stroke="#555" stroke-width="1" />
<line x1="370.3" y1="207.2" x2="370.3" y2="205.1" stroke="#555" stroke-width="1" />
<line x1="384.3" y1="207.2" x2="384.3" y2="203.6" stroke="#555" stroke-width="1" />
<line x1="398.2" y1="207.2" x2="398.2" y2="205.1" stroke="#555" stroke-width="1" />
<line x1="412.1" y1="207.2" x2="412.1" y2="203.6" stroke="#555" stroke-width="1" />
<line x1="426.0" y1="207.2" x2="426.0" y2="205.1" stroke="#555" stroke-width="1" />
<line x1="440.0" y1="207.2" x2="440.0" y2="203.6" stroke="#555" stroke-width="1" />
<line x1="453.9" y1="207.2" x2="453.9" y2="205.1" stroke="#555" stroke-width="1" />
<line x1="467.8" y1="207.2" x2="467.8" y2="203.6" stroke="#555" stroke-width="1" />
<line x1="481.8" y1="207.2" x2="481.8" y2="205.1" stroke="#555" stroke-width="1" />
<line x1="495.7" y1="207.2" x2="495.7" y2="203.6" stroke="#555" stroke-width="1" />
<line x1="509.6" y1="207.2" x2="509.6" y2="205.1" stroke="#555" stroke-width="1" />
<line x1="523.6" y1="207.2" x2="523.6" y2="203.6" stroke="#555" stroke-width="1" />
<line x1="537.5" y1="207.2" x2="537.5" y2="205.1" stroke="#555" stroke-width="1" />
<line x1="551.4" y1="207.2" x2="551.4" y2="203.6" stroke="#555" stroke-width="1" />
<line x1="565.3" y1="207.2" x2="565.3" y2="205.1" stroke="#555" stroke-width="1" />
<text x="356.4" y="218.4" font-size="12" fill="#111" stroke="#111" stroke-width="0.22" text-anchor="middle" >84</text>
<text x="384.3" y="218.4" font-size="12" fill="#111" stroke="#111" stroke-width="0.22" text-anchor="middle" >86</text>
<text x="412.1" y="218.4" font-size="12" fill="#111" stroke="#111" stroke-width="0.22" text-anchor="middle" >88</text>
<text x="440.0" y="218.4" font-size="12" fill="#111" stroke="#111" stroke-width="0.22" text-anchor="middle" >90</text>
<text x="467.8" y="218.4" font-size="12" fill="#111" stroke="#111" stroke-width="0.22" text-anchor="middle" >92</text>
<text x="495.7" y="218.4" font-size="12" fill="#111" stroke="#111" stroke-width="0.22" text-anchor="middle" >94</text>
<text x="523.6" y="218.4" font-size="12" fill="#111" stroke="#111" stroke-width="0.22" text-anchor="middle" >96</text>
<text x="551.4" y="218.4" font-size="12" fill="#111" stroke="#111" stroke-width="0.22" text-anchor="middle" >98</text>
<text x="579.3" y="218.4" font-size="12" fill="#111" stroke="#111" stroke-width="0.22" text-anchor="middle" >100</text>
<text x="303.3" y="177.8" font-size="15" fill="#111" stroke="#111" stroke-width="0.22" textLength="144.6" lengthAdjust="spacingAndGlyphs" transform="rotate(-90 303.3 177.8)" >Sheet resistance (Ω/<tspan fill="#bbb">□</tspan>)</text>
<text x="369.3" y="231.6" font-size="14.2" fill="#111" stroke="#111" stroke-width="0.22" textLength="185.0" lengthAdjust="spacingAndGlyphs" >Transmittance at 550 nm (%)</text>
<line x1="115.1" y1="247.5" x2="115.1" y2="366.0" stroke="#8f8f8f" stroke-width="1.6" stroke-dasharray="3 3"/>
<line x1="115.1" y1="432.0" x2="115.1" y2="444.0" stroke="#8f8f8f" stroke-width="1.6" stroke-dasharray="3 3"/>
<line x1="115.1" y1="245.0" x2="115.1" y2="247.5" stroke="#666" stroke-width="1.2" />
<line x1="38.2" y1="326.1" x2="279.4" y2="326.1" stroke="#8f8f8f" stroke-width="1.6" stroke-dasharray="3 3"/>
<rect x="75.4" y="285.6" width="94.9" height="80.0" fill="none" stroke="#e03a3a" stroke-width="1.1" stroke-dasharray="4 3"/>
<polyline points="38.4,332.5 40.0,328.5 41.6,323.3 43.2,319.5 44.8,317.5 46.4,317.0 48.0,314.4 49.6,313.1 51.2,311.6 52.8,309.4 54.4,307.9 56.0,307.7 57.6,306.1 59.2,304.2 60.8,303.7 62.4,302.2 64.0,301.1 65.6,299.6 67.2,299.8 68.8,299.8 70.4,299.8 72.0,301.0 73.6,302.2 75.2,304.8 76.8,306.1 78.4,306.5 80.0,306.2 81.6,304.9 83.2,302.5 84.8,300.6 86.4,298.6 88.0,297.3 89.6,294.3 91.2,296.3 92.8,297.5 94.4,298.8 96.0,299.9 97.6,300.8 99.2,301.3 100.8,302.3 102.4,303.4 104.0,305.3 105.6,305.6 107.2,306.8 108.8,309.0 110.4,309.6 112.0,310.5 113.6,311.7 115.2,313.9 116.8,315.2 118.4,317.7 120.0,319.2 121.6,320.7 123.2,320.8 124.8,321.4 126.4,322.5 128.0,324.3 129.6,326.0 131.2,326.8 132.8,327.6 134.4,328.4 136.0,328.9 137.6,329.2 139.2,329.9 140.8,330.7 142.4,331.0 144.0,330.5 145.6,331.8 147.2,330.7 148.8,330.5 150.4,329.6 152.0,330.1 153.6,328.3 155.2,327.6 156.8,326.7 158.4,325.6 160.0,326.7 161.6,325.4 163.2,323.7 164.8,322.8 166.4,323.6 168.0,321.8 169.6,319.5 171.2,319.6 172.8,318.2 174.4,317.9 176.0,314.3 177.6,313.5 179.2,313.3 180.8,312.4 182.4,311.2 184.0,307.4 185.6,306.1 187.2,304.2 188.8,302.9 190.4,303.7 192.0,301.7 193.6,301.1 195.2,298.9 196.8,299.2 198.4,297.4 200.0,295.9 201.6,296.3 203.2,296.3 204.8,293.3 206.4,293.4 208.0,293.0 209.6,291.3 211.2,290.8 212.8,289.6 214.4,289.0 216.0,288.5 217.6,288.8 219.2,288.6 220.8,286.8 222.4,285.3 224.0,285.4 225.6,285.9 227.2,284.1 228.8,283.6 230.4,282.7 232.0,283.7 233.6,283.0 235.2,281.3 236.8,280.7 238.4,281.2 240.0,281.5 241.6,281.6 243.2,279.8 244.8,279.3 246.4,280.1 248.0,279.0 249.6,277.9 251.2,277.2 252.8,278.4 254.4,276.4 256.0,276.1 257.6,275.0 259.2,274.6 260.8,275.4 262.4,275.6 264.0,273.5 265.6,272.1 267.2,272.9 268.8,271.2 270.4,269.9 272.0,271.7 273.6,270.4 275.2,270.8 276.8,269.4 278.4,271.4" fill="none" stroke="#1a8a1a" stroke-width="1.8" stroke-linejoin="round" />
<polyline points="38.4,340.4 40.0,336.2 41.6,332.1 43.2,329.8 44.8,328.7 46.4,327.7 48.0,325.0 49.6,324.1 51.2,322.4 52.8,321.0 54.4,319.7 56.0,319.2 57.6,319.0 59.2,319.1 60.8,317.3 62.4,317.0 64.0,316.9 65.6,316.6 67.2,314.7 68.8,313.5 70.4,315.0 72.0,315.7 73.6,315.3 75.2,314.8 76.8,316.2 78.4,314.2 80.0,313.4 81.6,311.6 83.2,310.4 84.8,307.9 86.4,307.2 88.0,305.0 89.6,305.0 91.2,306.6 92.8,307.5 94.4,307.3 96.0,307.9 97.6,308.9 99.2,310.0 100.8,310.6 102.4,311.0 104.0,311.9 105.6,313.5 107.2,314.8 108.8,314.3 110.4,315.6 112.0,316.9 113.6,316.6 115.2,318.4 116.8,318.3 118.4,319.8 120.0,321.0 121.6,322.2 123.2,322.7 124.8,323.9 126.4,325.2 128.0,326.1 129.6,327.3 131.2,328.0 132.8,328.8 134.4,328.8 136.0,330.0 137.6,330.4 139.2,330.3 140.8,331.1 142.4,330.9 144.0,329.9 145.6,328.9 147.2,328.7 148.8,327.7 150.4,326.6 152.0,326.9 153.6,325.7 155.2,326.0 156.8,325.9 158.4,324.2 160.0,325.1 161.6,323.4 163.2,324.5 164.8,324.5 166.4,323.4 168.0,321.5 169.6,321.7 171.2,321.0 172.8,321.9 174.4,319.4 176.0,320.3 177.6,320.4 179.2,319.2 180.8,318.7 182.4,316.6 184.0,318.1 185.6,316.9 187.2,317.6 188.8,317.5 190.4,315.1 192.0,316.0 193.6,316.4 195.2,313.8 196.8,313.7 198.4,314.6 200.0,312.9 201.6,314.3 203.2,312.6 204.8,313.5 206.4,311.6 208.0,312.0 209.6,313.1 211.2,311.2 212.8,310.7 214.4,311.1 216.0,310.5 217.6,309.4 219.2,309.3 220.8,309.1 222.4,311.1 224.0,310.8 225.6,311.2 227.2,309.0 228.8,310.1 230.4,308.3 232.0,308.9 233.6,309.3 235.2,308.5 236.8,309.7 238.4,309.0 240.0,308.8 241.6,309.5 243.2,307.4 244.8,309.3 246.4,308.5 248.0,307.5 249.6,308.3 251.2,306.8 252.8,308.3 254.4,307.4 256.0,306.4 257.6,307.1 259.2,306.1 260.8,304.9 262.4,306.0 264.0,304.0 265.6,305.5 267.2,304.0 268.8,304.5 270.4,305.7 272.0,305.8 273.6,306.8 275.2,306.7 276.8,306.5 278.4,307.1" fill="none" stroke="#ee1c1c" stroke-width="1.8" stroke-linejoin="round" />
<polyline points="38.4,345.8 40.0,344.0 41.6,341.4 43.2,339.1 44.8,337.5 46.4,335.3 48.0,334.0 49.6,333.6 51.2,331.6 52.8,330.2 54.4,329.5 56.0,328.1 57.6,327.7 59.2,327.0 60.8,326.9 62.4,326.5 64.0,325.3 65.6,325.2 67.2,324.5 68.8,323.3 70.4,324.0 72.0,322.9 73.6,322.2 75.2,321.8 76.8,322.4 78.4,322.7 80.0,322.4 81.6,320.5 83.2,318.7 84.8,316.7 86.4,316.2 88.0,315.3 89.6,316.2 91.2,317.8 92.8,318.8 94.4,320.8 96.0,321.9 97.6,322.0 99.2,324.0 100.8,323.8 102.4,325.3 104.0,326.3 105.6,327.0 107.2,327.7 108.8,329.4 110.4,329.0 112.0,330.3 113.6,331.7 115.2,331.1 116.8,331.6 118.4,332.8 120.0,333.4 121.6,334.1 123.2,334.9 124.8,334.4 126.4,334.8 128.0,335.2 129.6,335.2 131.2,336.9 132.8,337.5 134.4,337.5 136.0,336.1 137.6,337.1 139.2,337.0 140.8,336.4 142.4,336.5 144.0,336.0 145.6,335.5 147.2,335.1 148.8,335.1 150.4,334.0 152.0,334.7 153.6,335.9 155.2,336.0 156.8,336.5 158.4,336.2 160.0,334.9 161.6,335.3 163.2,335.1 164.8,336.1 166.4,335.6 168.0,334.7 169.6,335.4 171.2,336.4 172.8,334.4 174.4,335.6 176.0,333.4 177.6,333.4 179.2,333.2 180.8,334.5 182.4,335.7 184.0,335.7 185.6,334.7 187.2,336.3 188.8,335.4 190.4,335.1 192.0,337.2 193.6,337.2 195.2,337.2 196.8,337.1 198.4,337.9 200.0,336.6 201.6,337.3 203.2,337.0 204.8,337.4 206.4,336.2 208.0,336.3 209.6,335.4 211.2,334.1 212.8,333.1 214.4,333.6 216.0,331.8 217.6,334.0 219.2,332.9 220.8,332.7 222.4,333.2 224.0,336.1 225.6,335.6 227.2,335.3 228.8,335.3 230.4,335.7 232.0,338.1 233.6,339.0 235.2,339.9 236.8,340.7 238.4,339.4 240.0,341.1 241.6,341.3 243.2,343.2 244.8,344.0 246.4,344.5 248.0,342.4 249.6,344.2 251.2,345.0 252.8,345.4 254.4,343.2 256.0,343.0 257.6,342.9 259.2,343.0 260.8,345.7 262.4,346.5 264.0,346.5 265.6,347.4 267.2,347.4 268.8,345.5 270.4,343.7 272.0,342.5 273.6,343.3 275.2,341.2 276.8,340.3 278.4,340.7" fill="none" stroke="#1a1ae0" stroke-width="1.8" stroke-linejoin="round" />
<polyline points="38.4,375.7 40.0,374.2 41.6,372.6 43.2,371.6 44.8,369.5 46.4,367.7 48.0,367.0 49.6,364.9 51.2,363.7 52.8,361.9 54.4,359.2 56.0,358.0 57.6,356.5 59.2,355.5 60.8,353.6 62.4,352.7 64.0,351.3 65.6,349.4 67.2,349.1 68.8,346.8 70.4,346.4 72.0,344.3 73.6,342.4 75.2,341.2 76.8,340.7 78.4,339.9 80.0,337.1 81.6,335.7 83.2,332.8 84.8,330.3 86.4,326.5 88.0,323.8 89.6,323.2 91.2,326.1 92.8,327.4 94.4,330.5 96.0,331.7 97.6,333.5 99.2,336.4 100.8,338.5 102.4,340.0 104.0,342.9 105.6,344.3 107.2,347.5 108.8,349.7 110.4,352.0 112.0,353.9 113.6,355.6 115.2,356.3 116.8,355.7 118.4,355.9 120.0,354.2 121.6,354.7 123.2,352.9 124.8,351.6 126.4,349.7 128.0,348.8 129.6,346.4 131.2,344.1 132.8,342.9 134.4,339.1 136.0,335.6 137.6,332.1 139.2,330.1 140.8,328.6 142.4,326.9 144.0,324.7 145.6,323.0 147.2,321.0 148.8,320.2 150.4,318.3 152.0,316.5 153.6,312.8 155.2,311.1 156.8,311.0 158.4,309.8 160.0,307.4 161.6,307.1 163.2,307.5 164.8,305.0 166.4,303.6 168.0,302.8 169.6,303.3 171.2,303.4 172.8,300.9 174.4,299.9 176.0,299.4 177.6,299.0 179.2,299.0 180.8,297.4 182.4,297.4 184.0,296.7 185.6,298.5 187.2,298.0 188.8,295.9 190.4,297.6 192.0,295.3 193.6,295.3 195.2,296.7 196.8,296.3 198.4,295.8 200.0,294.6 201.6,293.4 203.2,294.1 204.8,292.5 206.4,292.2 208.0,292.4 209.6,291.2 211.2,291.7 212.8,292.7 214.4,292.4 216.0,291.5 217.6,291.4 219.2,290.7 220.8,289.3 222.4,290.1 224.0,289.5 225.6,290.1 227.2,290.4 228.8,288.9 230.4,288.7 232.0,289.0 233.6,287.8 235.2,286.8 236.8,287.7 238.4,288.1 240.0,287.7 241.6,287.1 243.2,287.2 244.8,286.5 246.4,285.9 248.0,285.0 249.6,284.1 251.2,284.6 252.8,282.9 254.4,283.2 256.0,284.0 257.6,283.7 259.2,282.5 260.8,280.4 262.4,279.7 264.0,278.9 265.6,278.4 267.2,277.0 268.8,276.7 270.4,276.7 272.0,274.1 273.6,274.3 275.2,274.3 276.8,273.7 278.4,277.3" fill="none" stroke="#000" stroke-width="1.8" stroke-linejoin="round" />
<text x="41.8" y="267.3" font-size="17" fill="#000" font-weight="700" textLength="20.1" lengthAdjust="spacingAndGlyphs" >(c)</text>
<text x="90.4" y="261.7" font-size="13" fill="#111" stroke="#111" stroke-width="0.22" textLength="22.0" lengthAdjust="spacingAndGlyphs" >550</text>
<text x="116.4" y="261.7" font-size="13" fill="#111" stroke="#111" stroke-width="0.22" textLength="17.5" lengthAdjust="spacingAndGlyphs" >nm</text>
<line x1="42.6" y1="381.2" x2="57.7" y2="381.2" stroke="#1a8a1a" stroke-width="1.9" />
<text x="60.8" y="384.2" font-size="12.5" fill="#111" textLength="157.5" lengthAdjust="spacingAndGlyphs" stroke-width="0.3"><tspan fill="#111" stroke="#111">Gr/Gr/</tspan><tspan fill="#e8262a" stroke="#e8262a">AuCl</tspan><tspan fill="#e8262a" stroke="#e8262a" font-size="8" dy="2.5">3</tspan><tspan fill="#111" stroke="#111" dy="-2.5">/</tspan><tspan fill="#2a2ad8" stroke="#2a2ad8">TFSA</tspan><tspan fill="#111" stroke="#111">/</tspan><tspan fill="#2a9a2a" stroke="#2a9a2a">Poly</tspan><tspan fill="#111" stroke="#111">/</tspan><tspan fill="#2a2ad8" stroke="#2a2ad8">TFSA</tspan></text>
<line x1="42.6" y1="395.8" x2="57.7" y2="395.8" stroke="#ee1c1c" stroke-width="1.9" />
<text x="60.8" y="398.8" font-size="12.5" fill="#111" textLength="189.5" lengthAdjust="spacingAndGlyphs" stroke-width="0.3"><tspan fill="#111" stroke="#111">Gr/</tspan><tspan fill="#2a2ad8" stroke="#2a2ad8">TFSA</tspan><tspan fill="#111" stroke="#111">/Gr/</tspan><tspan fill="#e8262a" stroke="#e8262a">AuCl</tspan><tspan fill="#e8262a" stroke="#e8262a" font-size="8" dy="2.5">3</tspan><tspan fill="#111" stroke="#111" dy="-2.5">/</tspan><tspan fill="#2a2ad8" stroke="#2a2ad8">TFSA</tspan><tspan fill="#111" stroke="#111">/</tspan><tspan fill="#2a9a2a" stroke="#2a9a2a">Poly</tspan><tspan fill="#111" stroke="#111">/</tspan><tspan fill="#2a2ad8" stroke="#2a2ad8">TFSA</tspan></text>
<line x1="42.6" y1="410.0" x2="57.7" y2="410.0" stroke="#1a1ae0" stroke-width="1.9" />
<text x="60.8" y="413.0" font-size="12.5" fill="#111" textLength="191.5" lengthAdjust="spacingAndGlyphs" stroke-width="0.3"><tspan fill="#111" stroke="#111">Gr/</tspan><tspan fill="#e8262a" stroke="#e8262a">AuCl</tspan><tspan fill="#e8262a" stroke="#e8262a" font-size="8" dy="2.5">3</tspan><tspan fill="#111" stroke="#111" dy="-2.5">/Gr/</tspan><tspan fill="#e8262a" stroke="#e8262a">AuCl</tspan><tspan fill="#e8262a" stroke="#e8262a" font-size="8" dy="2.5">3</tspan><tspan fill="#111" stroke="#111" dy="-2.5">/</tspan><tspan fill="#2a2ad8" stroke="#2a2ad8">TFSA</tspan><tspan fill="#111" stroke="#111">/</tspan><tspan fill="#2a9a2a" stroke="#2a9a2a">Poly</tspan><tspan fill="#111" stroke="#111">/</tspan><tspan fill="#2a2ad8" stroke="#2a2ad8">TFSA</tspan></text>
<line x1="42.6" y1="424.3" x2="57.7" y2="424.3" stroke="#000" stroke-width="1.9" />
<text x="60.8" y="427.3" font-size="12.5" fill="#111" textLength="213.6" lengthAdjust="spacingAndGlyphs" stroke-width="0.3"><tspan fill="#111" stroke="#111">Gr/</tspan><tspan fill="#2a2ad8" stroke="#2a2ad8">TFSA</tspan><tspan fill="#111" stroke="#111">/Gr/</tspan><tspan fill="#e8262a" stroke="#e8262a">AuCl</tspan><tspan fill="#e8262a" stroke="#e8262a" font-size="8" dy="2.5">3</tspan><tspan fill="#111" stroke="#111" dy="-2.5">/</tspan><tspan fill="#2a2ad8" stroke="#2a2ad8">TFSA</tspan><tspan fill="#111" stroke="#111">/Gr/</tspan><tspan fill="#e8262a" stroke="#e8262a">AuCl</tspan><tspan fill="#e8262a" stroke="#e8262a" font-size="8" dy="2.5">3</tspan><tspan fill="#111" stroke="#111" dy="-2.5">/</tspan><tspan fill="#2a2ad8" stroke="#2a2ad8">TFSA</tspan></text>
<rect x="38.2" y="247.5" width="241.2" height="196.5" fill="none" stroke="#8a8a8a" stroke-width="1.4"/>
<line x1="34.4" y1="247.5" x2="280.1" y2="247.5" stroke="#4a4a4a" stroke-width="1.3" />
<line x1="38.2" y1="444.0" x2="35.9" y2="444.0" stroke="#666" stroke-width="1" />
<line x1="38.2" y1="436.1" x2="34.2" y2="436.1" stroke="#666" stroke-width="1" />
<text x="31.8" y="440.0" font-size="11.7" fill="#222" stroke="#222" stroke-width="0.22" text-anchor="end" >76</text>
<line x1="38.2" y1="428.3" x2="35.9" y2="428.3" stroke="#666" stroke-width="1" />
<line x1="38.2" y1="420.4" x2="35.9" y2="420.4" stroke="#666" stroke-width="1" />
<line x1="38.2" y1="412.6" x2="35.9" y2="412.6" stroke="#666" stroke-width="1" />
<line x1="38.2" y1="404.7" x2="34.2" y2="404.7" stroke="#666" stroke-width="1" />
<text x="31.8" y="408.6" font-size="11.7" fill="#222" stroke="#222" stroke-width="0.22" text-anchor="end" >80</text>
<line x1="38.2" y1="396.8" x2="35.9" y2="396.8" stroke="#666" stroke-width="1" />
<line x1="38.2" y1="389.0" x2="35.9" y2="389.0" stroke="#666" stroke-width="1" />
<line x1="38.2" y1="381.1" x2="35.9" y2="381.1" stroke="#666" stroke-width="1" />
<line x1="38.2" y1="373.3" x2="34.2" y2="373.3" stroke="#666" stroke-width="1" />
<text x="31.8" y="377.2" font-size="11.7" fill="#222" stroke="#222" stroke-width="0.22" text-anchor="end" >84</text>
<line x1="38.2" y1="365.4" x2="35.9" y2="365.4" stroke="#666" stroke-width="1" />
<line x1="38.2" y1="357.5" x2="35.9" y2="357.5" stroke="#666" stroke-width="1" />
<line x1="38.2" y1="349.7" x2="35.9" y2="349.7" stroke="#666" stroke-width="1" />
<line x1="38.2" y1="341.8" x2="34.2" y2="341.8" stroke="#666" stroke-width="1" />
<text x="31.8" y="345.7" font-size="11.7" fill="#222" stroke="#222" stroke-width="0.22" text-anchor="end" >88</text>
<line x1="38.2" y1="334.0" x2="35.9" y2="334.0" stroke="#666" stroke-width="1" />
<line x1="38.2" y1="326.1" x2="35.9" y2="326.1" stroke="#666" stroke-width="1" />
<line x1="38.2" y1="318.2" x2="35.9" y2="318.2" stroke="#666" stroke-width="1" />
<line x1="38.2" y1="310.4" x2="34.2" y2="310.4" stroke="#666" stroke-width="1" />
<text x="31.8" y="314.3" font-size="11.7" fill="#222" stroke="#222" stroke-width="0.22" text-anchor="end" >92</text>
<line x1="38.2" y1="302.5" x2="35.9" y2="302.5" stroke="#666" stroke-width="1" />
<line x1="38.2" y1="294.7" x2="35.9" y2="294.7" stroke="#666" stroke-width="1" />
<line x1="38.2" y1="286.8" x2="35.9" y2="286.8" stroke="#666" stroke-width="1" />
<line x1="38.2" y1="278.9" x2="34.2" y2="278.9" stroke="#666" stroke-width="1" />
<text x="31.8" y="282.8" font-size="11.7" fill="#222" stroke="#222" stroke-width="0.22" text-anchor="end" >96</text>
<line x1="38.2" y1="271.1" x2="35.9" y2="271.1" stroke="#666" stroke-width="1" />
<line x1="38.2" y1="263.2" x2="35.9" y2="263.2" stroke="#666" stroke-width="1" />
<line x1="38.2" y1="255.4" x2="35.9" y2="255.4" stroke="#666" stroke-width="1" />
<line x1="38.2" y1="247.5" x2="34.2" y2="247.5" stroke="#666" stroke-width="1" />
<text x="31.8" y="251.4" font-size="11.7" fill="#222" stroke="#222" stroke-width="0.22" text-anchor="end" >100</text>
<line x1="41.4" y1="444.0" x2="41.4" y2="446.0" stroke="#666" stroke-width="1" />
<line x1="50.5" y1="444.0" x2="50.5" y2="446.0" stroke="#666" stroke-width="1" />
<line x1="59.7" y1="444.0" x2="59.7" y2="447.6" stroke="#666" stroke-width="1" />
<text x="59.7" y="459.6" font-size="11.7" fill="#222" stroke="#222" stroke-width="0.22" text-anchor="middle" >400</text>
<line x1="68.9" y1="444.0" x2="68.9" y2="446.0" stroke="#666" stroke-width="1" />
<line x1="78.0" y1="444.0" x2="78.0" y2="446.0" stroke="#666" stroke-width="1" />
<line x1="87.2" y1="444.0" x2="87.2" y2="446.0" stroke="#666" stroke-width="1" />
<line x1="96.3" y1="444.0" x2="96.3" y2="447.6" stroke="#666" stroke-width="1" />
<text x="96.3" y="459.6" font-size="11.7" fill="#222" stroke="#222" stroke-width="0.22" text-anchor="middle" >500</text>
<line x1="105.5" y1="444.0" x2="105.5" y2="446.0" stroke="#666" stroke-width="1" />
<line x1="114.6" y1="444.0" x2="114.6" y2="446.0" stroke="#666" stroke-width="1" />
<line x1="123.8" y1="444.0" x2="123.8" y2="446.0" stroke="#666" stroke-width="1" />
<line x1="133.0" y1="444.0" x2="133.0" y2="447.6" stroke="#666" stroke-width="1" />
<text x="133.0" y="459.6" font-size="11.7" fill="#222" stroke="#222" stroke-width="0.22" text-anchor="middle" >600</text>
<line x1="142.1" y1="444.0" x2="142.1" y2="446.0" stroke="#666" stroke-width="1" />
<line x1="151.3" y1="444.0" x2="151.3" y2="446.0" stroke="#666" stroke-width="1" />
<line x1="160.4" y1="444.0" x2="160.4" y2="446.0" stroke="#666" stroke-width="1" />
<line x1="169.6" y1="444.0" x2="169.6" y2="447.6" stroke="#666" stroke-width="1" />
<text x="169.6" y="459.6" font-size="11.7" fill="#222" stroke="#222" stroke-width="0.22" text-anchor="middle" >700</text>
<line x1="178.7" y1="444.0" x2="178.7" y2="446.0" stroke="#666" stroke-width="1" />
<line x1="187.9" y1="444.0" x2="187.9" y2="446.0" stroke="#666" stroke-width="1" />
<line x1="197.1" y1="444.0" x2="197.1" y2="446.0" stroke="#666" stroke-width="1" />
<line x1="206.2" y1="444.0" x2="206.2" y2="447.6" stroke="#666" stroke-width="1" />
<text x="206.2" y="459.6" font-size="11.7" fill="#222" stroke="#222" stroke-width="0.22" text-anchor="middle" >800</text>
<line x1="215.4" y1="444.0" x2="215.4" y2="446.0" stroke="#666" stroke-width="1" />
<line x1="224.5" y1="444.0" x2="224.5" y2="446.0" stroke="#666" stroke-width="1" />
<line x1="233.7" y1="444.0" x2="233.7" y2="446.0" stroke="#666" stroke-width="1" />
<line x1="242.9" y1="444.0" x2="242.9" y2="447.6" stroke="#666" stroke-width="1" />
<text x="242.9" y="459.6" font-size="11.7" fill="#222" stroke="#222" stroke-width="0.22" text-anchor="middle" >900</text>
<line x1="252.0" y1="444.0" x2="252.0" y2="446.0" stroke="#666" stroke-width="1" />
<line x1="261.2" y1="444.0" x2="261.2" y2="446.0" stroke="#666" stroke-width="1" />
<line x1="270.3" y1="444.0" x2="270.3" y2="446.0" stroke="#666" stroke-width="1" />
<line x1="279.5" y1="444.0" x2="279.5" y2="447.6" stroke="#666" stroke-width="1" />
<text x="279.5" y="459.6" font-size="11.7" fill="#222" stroke="#222" stroke-width="0.22" text-anchor="middle" >1000</text>
<text x="10.9" y="410.0" font-size="14" fill="#111" stroke="#111" stroke-width="0.22" textLength="117.5" lengthAdjust="spacingAndGlyphs" transform="rotate(-90 10.9 410.0)" >Transmittance (%)</text>
<text x="107.0" y="476.5" font-size="14" fill="#111" stroke="#111" stroke-width="0.22" textLength="105.5" lengthAdjust="spacingAndGlyphs" >Wavelength (nm)</text>
<defs>
<radialGradient id="gb" cx="0.5" cy="0.42" r="0.6" fx="0.42" fy="0.34"><stop offset="0" stop-color="#e8f8ff"/><stop offset="0.25" stop-color="#94d4f2"/><stop offset="0.6" stop-color="#4ea6d2"/><stop offset="0.85" stop-color="#276f98"/><stop offset="1" stop-color="#143e5a"/></radialGradient>
<radialGradient id="gr" cx="0.5" cy="0.42" r="0.6" fx="0.42" fy="0.34"><stop offset="0" stop-color="#ffd8d8"/><stop offset="0.25" stop-color="#ff5050"/><stop offset="0.65" stop-color="#dc1616"/><stop offset="1" stop-color="#7a0000"/></radialGradient>
<radialGradient id="gk" cx="0.5" cy="0.42" r="0.6" fx="0.42" fy="0.34"><stop offset="0" stop-color="#cfcfcf"/><stop offset="0.17" stop-color="#6a6a6a"/><stop offset="0.5" stop-color="#2c2c2c"/><stop offset="1" stop-color="#080808"/></radialGradient>
</defs>
<clipPath id="dclip"><rect x="292.5" y="240" width="288.5" height="205"/></clipPath>
<g clip-path="url(#dclip)">
<polyline points="292.5,375.0 340.0,376.0 417.2,376.0 456.2,374.3 534.9,373.8 571.5,373.8 581.0,373.5" fill="none" stroke="#0e0e0e" stroke-width="2.2" stroke-linejoin="round" stroke-linecap="round"/>
<polyline points="292.5,374.7 340.0,375.7 417.2,375.7 456.2,374.0 534.9,373.5 571.5,373.5 581.0,373.2" fill="none" stroke="#333333" stroke-width="1.54" stroke-linejoin="round" stroke-linecap="round"/>
<polyline points="292.5,374.5 340.0,375.5 417.2,375.5 456.2,373.8 534.9,373.3 571.5,373.3 581.0,373.0" fill="none" stroke="#9a9a9a" stroke-width="0.77" stroke-linejoin="round" stroke-linecap="round" opacity="0.8"/>
<polyline points="292.5,378.0 323.0,380.3 368.0,379.4 407.8,379.4 452.0,378.6 494.4,376.3 575.3,376.3 581.0,377.0" fill="none" stroke="#0e0e0e" stroke-width="2.3" stroke-linejoin="round" stroke-linecap="round"/>
<polyline points="292.5,377.7 323.0,380.0 368.0,379.1 407.8,379.1 452.0,378.3 494.4,376.0 575.3,376.0 581.0,376.7" fill="none" stroke="#333333" stroke-width="1.61" stroke-linejoin="round" stroke-linecap="round"/>
<polyline points="292.5,377.5 323.0,379.8 368.0,378.9 407.8,378.9 452.0,378.1 494.4,375.8 575.3,375.8 581.0,376.5" fill="none" stroke="#9a9a9a" stroke-width="0.80" stroke-linejoin="round" stroke-linecap="round" opacity="0.8"/>
<polyline points="292.5,382.5 312.8,382.8 352.7,383.7 401.0,382.8 446.0,382.8 493.1,381.4 537.4,380.1 581.0,381.4" fill="none" stroke="#0e0e0e" stroke-width="2.6" stroke-linejoin="round" stroke-linecap="round"/>
<polyline points="292.5,382.2 312.8,382.5 352.7,383.4 401.0,382.5 446.0,382.5 493.1,381.1 537.4,379.8 581.0,381.1" fill="none" stroke="#333333" stroke-width="1.82" stroke-linejoin="round" stroke-linecap="round"/>
<polyline points="292.5,381.9 312.8,382.2 352.7,383.1 401.0,382.2 446.0,382.2 493.1,380.8 537.4,379.5 581.0,380.8" fill="none" stroke="#9a9a9a" stroke-width="0.91" stroke-linejoin="round" stroke-linecap="round" opacity="0.8"/>
<polyline points="292.5,387.0 344.2,387.1 388.4,388.8 440.9,387.1 490.6,386.4 540.0,386.4 581.0,387.8" fill="none" stroke="#0e0e0e" stroke-width="2.8" stroke-linejoin="round" stroke-linecap="round"/>
<polyline points="292.5,386.7 344.2,386.8 388.4,388.5 440.9,386.8 490.6,386.1 540.0,386.1 581.0,387.5" fill="none" stroke="#333333" stroke-width="1.96" stroke-linejoin="round" stroke-linecap="round"/>
<polyline points="292.5,386.4 344.2,386.5 388.4,388.2 440.9,386.5 490.6,385.8 540.0,385.8 581.0,387.2" fill="none" stroke="#9a9a9a" stroke-width="0.98" stroke-linejoin="round" stroke-linecap="round" opacity="0.8"/>
<polyline points="292.5,393.0 323.0,394.7 381.6,393.0 431.6,393.9 487.6,391.3 542.5,394.0 581.0,392.8" fill="none" stroke="#0e0e0e" stroke-width="3.1" stroke-linejoin="round" stroke-linecap="round"/>
<polyline points="292.5,392.6 323.0,394.3 381.6,392.6 431.6,393.5 487.6,390.9 542.5,393.6 581.0,392.4" fill="none" stroke="#333333" stroke-width="2.17" stroke-linejoin="round" stroke-linecap="round"/>
<polyline points="292.5,392.3 323.0,394.0 381.6,392.3 431.6,393.2 487.6,390.6 542.5,393.3 581.0,392.1" fill="none" stroke="#9a9a9a" stroke-width="1.08" stroke-linejoin="round" stroke-linecap="round" opacity="0.8"/>
<polyline points="292.5,399.0 309.4,399.8 362.9,401.5 426.5,399.0 484.2,400.7 543.7,399.1 581.0,399.2" fill="none" stroke="#0e0e0e" stroke-width="3.3" stroke-linejoin="round" stroke-linecap="round"/>
<polyline points="292.5,398.6 309.4,399.4 362.9,401.1 426.5,398.6 484.2,400.3 543.7,398.7 581.0,398.8" fill="none" stroke="#333333" stroke-width="2.31" stroke-linejoin="round" stroke-linecap="round"/>
<polyline points="292.5,398.3 309.4,399.1 362.9,400.8 426.5,398.3 484.2,400.0 543.7,398.4 581.0,398.5" fill="none" stroke="#9a9a9a" stroke-width="1.15" stroke-linejoin="round" stroke-linecap="round" opacity="0.8"/>
<polyline points="292.5,409.5 351.0,407.1 412.9,410.0 481.7,405.7 548.8,409.2 581.0,406.7" fill="none" stroke="#0e0e0e" stroke-width="3.7" stroke-linejoin="round" stroke-linecap="round"/>
<polyline points="292.5,409.1 351.0,406.7 412.9,409.6 481.7,405.3 548.8,408.8 581.0,406.3" fill="none" stroke="#333333" stroke-width="2.59" stroke-linejoin="round" stroke-linecap="round"/>
<polyline points="292.5,408.7 351.0,406.3 412.9,409.2 481.7,404.9 548.8,408.4 581.0,405.9" fill="none" stroke="#9a9a9a" stroke-width="1.29" stroke-linejoin="round" stroke-linecap="round" opacity="0.8"/>
<polyline points="292.5,419.3 323.0,421.0 404.4,416.8 476.6,420.2 552.6,416.8 581.0,418.1" fill="none" stroke="#0e0e0e" stroke-width="4.0" stroke-linejoin="round" stroke-linecap="round"/>
<polyline points="292.5,418.8 323.0,420.5 404.4,416.3 476.6,419.7 552.6,416.3 581.0,417.6" fill="none" stroke="#333333" stroke-width="2.80" stroke-linejoin="round" stroke-linecap="round"/>
<polyline points="292.5,418.4 323.0,420.1 404.4,415.9 476.6,419.3 552.6,415.9 581.0,417.2" fill="none" stroke="#9a9a9a" stroke-width="1.40" stroke-linejoin="round" stroke-linecap="round" opacity="0.8"/>
<polyline points="292.5,430.0 303.5,430.4 381.6,435.5 473.2,430.4 561.4,435.3 581.0,433.5" fill="none" stroke="#0e0e0e" stroke-width="4.4" stroke-linejoin="round" stroke-linecap="round"/>
<polyline points="292.5,429.5 303.5,429.9 381.6,435.0 473.2,429.9 561.4,434.8 581.0,433.0" fill="none" stroke="#333333" stroke-width="3.08" stroke-linejoin="round" stroke-linecap="round"/>
<polyline points="292.5,429.0 303.5,429.4 381.6,434.5 473.2,429.4 561.4,434.3 581.0,432.5" fill="none" stroke="#9a9a9a" stroke-width="1.54" stroke-linejoin="round" stroke-linecap="round" opacity="0.8"/>
<polyline points="303.5,430.4 323.0,421.0" fill="none" stroke="#0e0e0e" stroke-width="4.619199999999999" stroke-linejoin="round" stroke-linecap="round"/>
<polyline points="303.5,429.8 323.0,420.4" fill="none" stroke="#333333" stroke-width="3.23" stroke-linejoin="round" stroke-linecap="round"/>
<polyline points="303.5,429.4 323.0,420.0" fill="none" stroke="#9a9a9a" stroke-width="1.62" stroke-linejoin="round" stroke-linecap="round" opacity="0.8"/>
<polyline points="309.4,399.8 323.0,394.7" fill="none" stroke="#0e0e0e" stroke-width="3.4564000000000004" stroke-linejoin="round" stroke-linecap="round"/>
<polyline points="309.4,399.4 323.0,394.3" fill="none" stroke="#333333" stroke-width="2.42" stroke-linejoin="round" stroke-linecap="round"/>
<polyline points="309.4,399.0 323.0,393.9" fill="none" stroke="#9a9a9a" stroke-width="1.21" stroke-linejoin="round" stroke-linecap="round" opacity="0.8"/>
<polyline points="312.8,382.8 323.0,380.3" fill="none" stroke="#0e0e0e" stroke-width="2.8104000000000005" stroke-linejoin="round" stroke-linecap="round"/>
<polyline points="312.8,382.5 323.0,380.0" fill="none" stroke="#333333" stroke-width="1.97" stroke-linejoin="round" stroke-linecap="round"/>
<polyline points="312.8,382.2 323.0,379.7" fill="none" stroke="#9a9a9a" stroke-width="0.98" stroke-linejoin="round" stroke-linecap="round" opacity="0.8"/>
<polyline points="351.0,407.1 362.9,401.5" fill="none" stroke="#0e0e0e" stroke-width="3.7338000000000005" stroke-linejoin="round" stroke-linecap="round"/>
<polyline points="351.0,406.7 362.9,401.1" fill="none" stroke="#333333" stroke-width="2.61" stroke-linejoin="round" stroke-linecap="round"/>
<polyline points="351.0,406.3 362.9,400.7" fill="none" stroke="#9a9a9a" stroke-width="1.31" stroke-linejoin="round" stroke-linecap="round" opacity="0.8"/>
<polyline points="344.2,387.1 352.7,383.7" fill="none" stroke="#0e0e0e" stroke-width="2.9738000000000007" stroke-linejoin="round" stroke-linecap="round"/>
<polyline points="344.2,386.7 352.7,383.3" fill="none" stroke="#333333" stroke-width="2.08" stroke-linejoin="round" stroke-linecap="round"/>
<polyline points="344.2,386.4 352.7,383.0" fill="none" stroke="#9a9a9a" stroke-width="1.04" stroke-linejoin="round" stroke-linecap="round" opacity="0.8"/>
<polyline points="404.4,416.8 412.9,410.0" fill="none" stroke="#0e0e0e" stroke-width="4.1024" stroke-linejoin="round" stroke-linecap="round"/>
<polyline points="404.4,416.3 412.9,409.5" fill="none" stroke="#333333" stroke-width="2.87" stroke-linejoin="round" stroke-linecap="round"/>
<polyline points="404.4,415.9 412.9,409.1" fill="none" stroke="#9a9a9a" stroke-width="1.44" stroke-linejoin="round" stroke-linecap="round" opacity="0.8"/>
<polyline points="426.5,399.0 431.6,393.9" fill="none" stroke="#0e0e0e" stroke-width="3.426" stroke-linejoin="round" stroke-linecap="round"/>
<polyline points="426.5,398.6 431.6,393.5" fill="none" stroke="#333333" stroke-width="2.40" stroke-linejoin="round" stroke-linecap="round"/>
<polyline points="426.5,398.2 431.6,393.1" fill="none" stroke="#9a9a9a" stroke-width="1.20" stroke-linejoin="round" stroke-linecap="round" opacity="0.8"/>
<polyline points="440.9,387.1 446.0,382.8" fill="none" stroke="#0e0e0e" stroke-width="2.9738000000000007" stroke-linejoin="round" stroke-linecap="round"/>
<polyline points="440.9,386.7 446.0,382.4" fill="none" stroke="#333333" stroke-width="2.08" stroke-linejoin="round" stroke-linecap="round"/>
<polyline points="440.9,386.4 446.0,382.1" fill="none" stroke="#9a9a9a" stroke-width="1.04" stroke-linejoin="round" stroke-linecap="round" opacity="0.8"/>
<polyline points="452.0,378.6 456.2,374.3" fill="none" stroke="#0e0e0e" stroke-width="2.6508000000000007" stroke-linejoin="round" stroke-linecap="round"/>
<polyline points="452.0,378.3 456.2,374.0" fill="none" stroke="#333333" stroke-width="1.86" stroke-linejoin="round" stroke-linecap="round"/>
<polyline points="452.0,378.0 456.2,373.7" fill="none" stroke="#9a9a9a" stroke-width="0.93" stroke-linejoin="round" stroke-linecap="round" opacity="0.8"/>
<polyline points="381.6,393.0 388.4,388.8" fill="none" stroke="#0e0e0e" stroke-width="3.198" stroke-linejoin="round" stroke-linecap="round"/>
<polyline points="381.6,392.6 388.4,388.4" fill="none" stroke="#333333" stroke-width="2.24" stroke-linejoin="round" stroke-linecap="round"/>
<polyline points="381.6,392.3 388.4,388.1" fill="none" stroke="#9a9a9a" stroke-width="1.12" stroke-linejoin="round" stroke-linecap="round" opacity="0.8"/>
<polyline points="401.0,382.8 407.8,379.4" fill="none" stroke="#0e0e0e" stroke-width="2.8104000000000005" stroke-linejoin="round" stroke-linecap="round"/>
<polyline points="401.0,382.5 407.8,379.1" fill="none" stroke="#333333" stroke-width="1.97" stroke-linejoin="round" stroke-linecap="round"/>
<polyline points="401.0,382.2 407.8,378.8" fill="none" stroke="#9a9a9a" stroke-width="0.98" stroke-linejoin="round" stroke-linecap="round" opacity="0.8"/>
<polyline points="473.2,430.4 476.6,420.2" fill="none" stroke="#0e0e0e" stroke-width="4.619199999999999" stroke-linejoin="round" stroke-linecap="round"/>
<polyline points="473.2,429.8 476.6,419.6" fill="none" stroke="#333333" stroke-width="3.23" stroke-linejoin="round" stroke-linecap="round"/>
<polyline points="473.2,429.4 476.6,419.2" fill="none" stroke="#9a9a9a" stroke-width="1.62" stroke-linejoin="round" stroke-linecap="round" opacity="0.8"/>
<polyline points="481.7,405.7 484.2,400.7" fill="none" stroke="#0e0e0e" stroke-width="3.680599999999999" stroke-linejoin="round" stroke-linecap="round"/>
<polyline points="481.7,405.3 484.2,400.3" fill="none" stroke="#333333" stroke-width="2.58" stroke-linejoin="round" stroke-linecap="round"/>
<polyline points="481.7,404.9 484.2,399.9" fill="none" stroke="#9a9a9a" stroke-width="1.29" stroke-linejoin="round" stroke-linecap="round" opacity="0.8"/>
<polyline points="487.6,391.3 490.6,386.4" fill="none" stroke="#0e0e0e" stroke-width="3.1334000000000004" stroke-linejoin="round" stroke-linecap="round"/>
<polyline points="487.6,390.9 490.6,386.0" fill="none" stroke="#333333" stroke-width="2.19" stroke-linejoin="round" stroke-linecap="round"/>
<polyline points="487.6,390.6 490.6,385.7" fill="none" stroke="#9a9a9a" stroke-width="1.10" stroke-linejoin="round" stroke-linecap="round" opacity="0.8"/>
<polyline points="493.1,381.4 494.4,376.3" fill="none" stroke="#0e0e0e" stroke-width="2.757199999999999" stroke-linejoin="round" stroke-linecap="round"/>
<polyline points="493.1,381.1 494.4,376.0" fill="none" stroke="#333333" stroke-width="1.93" stroke-linejoin="round" stroke-linecap="round"/>
<polyline points="493.1,380.8 494.4,375.7" fill="none" stroke="#9a9a9a" stroke-width="0.97" stroke-linejoin="round" stroke-linecap="round" opacity="0.8"/>
<polyline points="548.8,409.2 543.7,399.1" fill="none" stroke="#0e0e0e" stroke-width="3.813599999999999" stroke-linejoin="round" stroke-linecap="round"/>
<polyline points="548.8,408.7 543.7,398.6" fill="none" stroke="#333333" stroke-width="2.67" stroke-linejoin="round" stroke-linecap="round"/>
<polyline points="548.8,408.4 543.7,398.3" fill="none" stroke="#9a9a9a" stroke-width="1.33" stroke-linejoin="round" stroke-linecap="round" opacity="0.8"/>
<polyline points="542.5,394.0 540.0,386.4" fill="none" stroke="#0e0e0e" stroke-width="3.2359999999999998" stroke-linejoin="round" stroke-linecap="round"/>
<polyline points="542.5,393.6 540.0,386.0" fill="none" stroke="#333333" stroke-width="2.27" stroke-linejoin="round" stroke-linecap="round"/>
<polyline points="542.5,393.3 540.0,385.7" fill="none" stroke="#9a9a9a" stroke-width="1.13" stroke-linejoin="round" stroke-linecap="round" opacity="0.8"/>
<polyline points="537.4,380.1 534.9,373.8" fill="none" stroke="#0e0e0e" stroke-width="2.7078000000000007" stroke-linejoin="round" stroke-linecap="round"/>
<polyline points="537.4,379.8 534.9,373.5" fill="none" stroke="#333333" stroke-width="1.90" stroke-linejoin="round" stroke-linecap="round"/>
<polyline points="537.4,379.5 534.9,373.2" fill="none" stroke="#9a9a9a" stroke-width="0.95" stroke-linejoin="round" stroke-linecap="round" opacity="0.8"/>
<polyline points="571.5,373.8 575.3,376.3" fill="none" stroke="#0e0e0e" stroke-width="2.4684000000000004" stroke-linejoin="round" stroke-linecap="round"/>
<polyline points="571.5,373.5 575.3,376.0" fill="none" stroke="#333333" stroke-width="1.73" stroke-linejoin="round" stroke-linecap="round"/>
<polyline points="571.5,373.3 575.3,375.8" fill="none" stroke="#9a9a9a" stroke-width="0.86" stroke-linejoin="round" stroke-linecap="round" opacity="0.8"/>
<polyline points="297.5,376.9 312.8,382.8" fill="none" stroke="#0e0e0e" stroke-width="2.586199999999999" stroke-linejoin="round" stroke-linecap="round"/>
<polyline points="297.5,376.6 312.8,382.5" fill="none" stroke="#333333" stroke-width="1.81" stroke-linejoin="round" stroke-linecap="round"/>
<polyline points="297.5,376.3 312.8,382.2" fill="none" stroke="#9a9a9a" stroke-width="0.91" stroke-linejoin="round" stroke-linecap="round" opacity="0.8"/>
<circle cx="303.5" cy="430.4" r="7" fill="url(#gk)"/>
<circle cx="323.0" cy="421.0" r="6.5" fill="url(#gk)"/>
<circle cx="309.4" cy="399.8" r="5.5" fill="url(#gk)"/>
<circle cx="323.0" cy="394.7" r="5" fill="url(#gk)"/>
<circle cx="312.8" cy="382.8" r="4.5" fill="url(#gk)"/>
<circle cx="323.0" cy="380.3" r="4" fill="url(#gk)"/>
<circle cx="297.5" cy="376.9" r="4" fill="url(#gk)"/>
<circle cx="381.6" cy="435.5" r="7.5" fill="url(#gk)"/>
<circle cx="351.0" cy="407.1" r="6" fill="url(#gk)"/>
<circle cx="362.9" cy="401.5" r="5.5" fill="url(#gk)"/>
<circle cx="344.2" cy="387.1" r="5" fill="url(#gk)"/>
<circle cx="352.7" cy="383.7" r="4.5" fill="url(#gk)"/>
<circle cx="340.0" cy="376.0" r="4" fill="url(#gk)"/>
<circle cx="404.4" cy="416.8" r="6.5" fill="url(#gk)"/>
<circle cx="412.9" cy="410.0" r="6" fill="url(#gk)"/>
<circle cx="426.5" cy="399.0" r="5.5" fill="url(#gk)"/>
<circle cx="431.6" cy="393.9" r="5" fill="url(#gk)"/>
<circle cx="440.9" cy="387.1" r="4.5" fill="url(#gk)"/>
<circle cx="446.0" cy="382.8" r="4.5" fill="url(#gk)"/>
<circle cx="452.0" cy="378.6" r="4" fill="url(#gk)"/>
<circle cx="456.2" cy="374.3" r="3.5" fill="url(#gk)"/>
<circle cx="381.6" cy="393.0" r="5" fill="url(#gk)"/>
<circle cx="388.4" cy="388.8" r="4.5" fill="url(#gk)"/>
<circle cx="401.0" cy="382.8" r="4" fill="url(#gk)"/>
<circle cx="407.8" cy="379.4" r="4" fill="url(#gk)"/>
<circle cx="417.2" cy="376.0" r="3.5" fill="url(#gk)"/>
<circle cx="368.0" cy="379.4" r="4" fill="url(#gk)"/>
<circle cx="473.2" cy="430.4" r="7" fill="url(#gk)"/>
<circle cx="476.6" cy="420.2" r="6.5" fill="url(#gk)"/>
<circle cx="481.7" cy="405.7" r="6" fill="url(#gk)"/>
<circle cx="484.2" cy="400.7" r="5.5" fill="url(#gk)"/>
<circle cx="487.6" cy="391.3" r="5" fill="url(#gk)"/>
<circle cx="490.6" cy="386.4" r="4.5" fill="url(#gk)"/>
<circle cx="493.1" cy="381.4" r="4" fill="url(#gk)"/>
<circle cx="494.4" cy="376.3" r="3.5" fill="url(#gk)"/>
<circle cx="552.6" cy="416.8" r="6" fill="url(#gk)"/>
<circle cx="548.8" cy="409.2" r="5.5" fill="url(#gk)"/>
<circle cx="543.7" cy="399.1" r="5" fill="url(#gk)"/>
<circle cx="542.5" cy="394.0" r="5" fill="url(#gk)"/>
<circle cx="540.0" cy="386.4" r="4.5" fill="url(#gk)"/>
<circle cx="537.4" cy="380.1" r="4" fill="url(#gk)"/>
<circle cx="534.9" cy="373.8" r="3.5" fill="url(#gk)"/>
<circle cx="571.5" cy="373.8" r="3.5" fill="url(#gk)"/>
<circle cx="575.3" cy="376.3" r="3.5" fill="url(#gk)"/>
<circle cx="561.4" cy="435.3" r="7.2" fill="#5e5e5e"/><circle cx="560.2" cy="433.8" r="5" fill="#8c8c8c" opacity="0.55"/>
<rect x="521" y="352.6" width="59.4" height="15.7" fill="#f3bcbc"/>
<path d="M296,357 L521,355.5 L521,372 L296,374 Z" fill="#dc2a2a"/>
<polyline points="293.5,357.5 521.0,356.5" fill="none" stroke="#8a0000" stroke-width="2.6" stroke-linejoin="round" stroke-linecap="round"/>
<polyline points="293.5,357.2 521.0,356.2" fill="none" stroke="#d41a1a" stroke-width="1.82" stroke-linejoin="round" stroke-linecap="round"/>
<polyline points="293.5,356.9 521.0,355.9" fill="none" stroke="#ff8a8a" stroke-width="0.91" stroke-linejoin="round" stroke-linecap="round" opacity="0.75"/>
<polyline points="293.5,360.5 521.0,359.5" fill="none" stroke="#8a0000" stroke-width="2.8" stroke-linejoin="round" stroke-linecap="round"/>
<polyline points="293.5,360.2 521.0,359.2" fill="none" stroke="#d41a1a" stroke-width="1.96" stroke-linejoin="round" stroke-linecap="round"/>
<polyline points="293.5,359.9 521.0,358.9" fill="none" stroke="#ff8a8a" stroke-width="0.98" stroke-linejoin="round" stroke-linecap="round" opacity="0.75"/>
<polyline points="293.5,363.5 521.0,362.5" fill="none" stroke="#8a0000" stroke-width="3.0" stroke-linejoin="round" stroke-linecap="round"/>
<polyline points="293.5,363.1 521.0,362.1" fill="none" stroke="#d41a1a" stroke-width="2.10" stroke-linejoin="round" stroke-linecap="round"/>
<polyline points="293.5,362.8 521.0,361.8" fill="none" stroke="#ff8a8a" stroke-width="1.05" stroke-linejoin="round" stroke-linecap="round" opacity="0.75"/>
<polyline points="293.5,366.8 521.0,365.8" fill="none" stroke="#8a0000" stroke-width="3.4" stroke-linejoin="round" stroke-linecap="round"/>
<polyline points="293.5,366.4 521.0,365.4" fill="none" stroke="#d41a1a" stroke-width="2.38" stroke-linejoin="round" stroke-linecap="round"/>
<polyline points="293.5,366.1 521.0,365.1" fill="none" stroke="#ff8a8a" stroke-width="1.19" stroke-linejoin="round" stroke-linecap="round" opacity="0.75"/>
<polyline points="293.5,370.5 521.0,369.5" fill="none" stroke="#8a0000" stroke-width="3.8" stroke-linejoin="round" stroke-linecap="round"/>
<polyline points="293.5,370.0 521.0,369.0" fill="none" stroke="#d41a1a" stroke-width="2.66" stroke-linejoin="round" stroke-linecap="round"/>
<polyline points="293.5,369.7 521.0,368.7" fill="none" stroke="#ff8a8a" stroke-width="1.33" stroke-linejoin="round" stroke-linecap="round" opacity="0.75"/>
<circle cx="302.0" cy="355.5" r="2.8" fill="url(#gr)"/>
<circle cx="312.8" cy="356.3" r="2.8" fill="url(#gr)"/>
<circle cx="323.6" cy="355.5" r="2.8" fill="url(#gr)"/>
<circle cx="334.4" cy="356.3" r="2.8" fill="url(#gr)"/>
<circle cx="345.2" cy="355.5" r="2.8" fill="url(#gr)"/>
<circle cx="356.0" cy="356.3" r="2.8" fill="url(#gr)"/>
<circle cx="366.8" cy="355.5" r="2.8" fill="url(#gr)"/>
<circle cx="377.6" cy="356.3" r="2.8" fill="url(#gr)"/>
<circle cx="388.4" cy="355.5" r="2.8" fill="url(#gr)"/>
<circle cx="399.2" cy="356.3" r="2.8" fill="url(#gr)"/>
<circle cx="410.0" cy="355.5" r="2.8" fill="url(#gr)"/>
<circle cx="420.8" cy="356.3" r="2.8" fill="url(#gr)"/>
<circle cx="431.6" cy="355.5" r="2.8" fill="url(#gr)"/>
<circle cx="442.4" cy="356.3" r="2.8" fill="url(#gr)"/>
<circle cx="453.2" cy="355.5" r="2.8" fill="url(#gr)"/>
<circle cx="464.0" cy="356.3" r="2.8" fill="url(#gr)"/>
<circle cx="474.8" cy="355.5" r="2.8" fill="url(#gr)"/>
<circle cx="485.6" cy="356.3" r="2.8" fill="url(#gr)"/>
<circle cx="496.4" cy="355.5" r="2.8" fill="url(#gr)"/>
<circle cx="507.2" cy="356.3" r="2.8" fill="url(#gr)"/>
<circle cx="326.8" cy="362.0" r="4.2" fill="url(#gr)"/>
<circle cx="348.0" cy="362.0" r="4.2" fill="url(#gr)"/>
<circle cx="382.0" cy="362.0" r="4.2" fill="url(#gr)"/>
<circle cx="405.4" cy="362.0" r="4.2" fill="url(#gr)"/>
<circle cx="430.0" cy="362.0" r="4.2" fill="url(#gr)"/>
<circle cx="455.0" cy="362.0" r="4.2" fill="url(#gr)"/>
<circle cx="470.0" cy="362.0" r="4.2" fill="url(#gr)"/>
<circle cx="500.0" cy="362.0" r="4.2" fill="url(#gr)"/>
<circle cx="307.7" cy="368.6" r="7.5" fill="url(#gr)"/>
<circle cx="377.3" cy="369.4" r="8.5" fill="url(#gr)"/>
<circle cx="486.0" cy="368.4" r="8" fill="url(#gr)"/>
<circle cx="512.1" cy="365.3" r="6.5" fill="url(#gr)"/>
<polyline points="356.1,349.1 503.0,349.6" fill="none" stroke="#1f6a90" stroke-width="2.0" stroke-linejoin="round" stroke-linecap="round"/>
<polyline points="356.1,348.9 503.0,349.4" fill="none" stroke="#4aa6d2" stroke-width="1.40" stroke-linejoin="round" stroke-linecap="round"/>
<polyline points="356.1,348.7 503.0,349.2" fill="none" stroke="#b0e0f6" stroke-width="0.80" stroke-linejoin="round" stroke-linecap="round" opacity="0.9"/>
<polyline points="345.9,344.7 445.0,344.0 500.0,345.0" fill="none" stroke="#1f6a90" stroke-width="2.2" stroke-linejoin="round" stroke-linecap="round"/>
<polyline points="345.9,344.4 445.0,343.7 500.0,344.7" fill="none" stroke="#4aa6d2" stroke-width="1.54" stroke-linejoin="round" stroke-linecap="round"/>
<polyline points="345.9,344.2 445.0,343.5 500.0,344.5" fill="none" stroke="#b0e0f6" stroke-width="0.88" stroke-linejoin="round" stroke-linecap="round" opacity="0.9"/>
<polyline points="354.8,340.9 445.0,341.5 500.0,341.0 580.0,341.0" fill="none" stroke="#1f6a90" stroke-width="2.2" stroke-linejoin="round" stroke-linecap="round"/>
<polyline points="354.8,340.6 445.0,341.2 500.0,340.7 580.0,340.7" fill="none" stroke="#4aa6d2" stroke-width="1.54" stroke-linejoin="round" stroke-linecap="round"/>
<polyline points="354.8,340.4 445.0,341.0 500.0,340.5 580.0,340.5" fill="none" stroke="#b0e0f6" stroke-width="0.88" stroke-linejoin="round" stroke-linecap="round" opacity="0.9"/>
<polyline points="300.0,337.1 446.3,338.7 502.0,340.7 534.9,339.4 580.0,338.0" fill="none" stroke="#1f6a90" stroke-width="2.6" stroke-linejoin="round" stroke-linecap="round"/>
<polyline points="300.0,336.8 446.3,338.4 502.0,340.4 534.9,339.1 580.0,337.7" fill="none" stroke="#4aa6d2" stroke-width="1.82" stroke-linejoin="round" stroke-linecap="round"/>
<polyline points="300.0,336.5 446.3,338.1 502.0,340.1 534.9,338.8 580.0,337.4" fill="none" stroke="#b0e0f6" stroke-width="1.04" stroke-linejoin="round" stroke-linecap="round" opacity="0.9"/>
<polyline points="292.5,334.6 445.0,335.8 546.2,333.6 580.0,333.0" fill="none" stroke="#1f6a90" stroke-width="2.8" stroke-linejoin="round" stroke-linecap="round"/>
<polyline points="292.5,334.3 445.0,335.5 546.2,333.3 580.0,332.7" fill="none" stroke="#4aa6d2" stroke-width="1.96" stroke-linejoin="round" stroke-linecap="round"/>
<polyline points="292.5,334.0 445.0,335.2 546.2,333.0 580.0,332.4" fill="none" stroke="#b0e0f6" stroke-width="1.12" stroke-linejoin="round" stroke-linecap="round" opacity="0.9"/>
<polyline points="292.5,327.0 311.6,328.7" fill="none" stroke="#1f6a90" stroke-width="2.8" stroke-linejoin="round" stroke-linecap="round"/>
<polyline points="292.5,326.7 311.6,328.4" fill="none" stroke="#4aa6d2" stroke-width="1.96" stroke-linejoin="round" stroke-linecap="round"/>
<polyline points="292.5,326.4 311.6,328.1" fill="none" stroke="#b0e0f6" stroke-width="1.12" stroke-linejoin="round" stroke-linecap="round" opacity="0.9"/>
<polyline points="445.0,331.0 493.1,326.8 580.0,326.8" fill="none" stroke="#1f6a90" stroke-width="2.8" stroke-linejoin="round" stroke-linecap="round"/>
<polyline points="445.0,330.7 493.1,326.5 580.0,326.5" fill="none" stroke="#4aa6d2" stroke-width="1.96" stroke-linejoin="round" stroke-linecap="round"/>
<polyline points="445.0,330.4 493.1,326.2 580.0,326.2" fill="none" stroke="#b0e0f6" stroke-width="1.12" stroke-linejoin="round" stroke-linecap="round" opacity="0.9"/>
<polyline points="292.5,319.5 318.0,319.5" fill="none" stroke="#1f6a90" stroke-width="3.0" stroke-linejoin="round" stroke-linecap="round"/>
<polyline points="292.5,319.1 318.0,319.1" fill="none" stroke="#4aa6d2" stroke-width="2.10" stroke-linejoin="round" stroke-linecap="round"/>
<polyline points="292.5,318.8 318.0,318.8" fill="none" stroke="#b0e0f6" stroke-width="1.20" stroke-linejoin="round" stroke-linecap="round" opacity="0.9"/>
<polyline points="396.9,320.3 440.0,321.7 465.3,322.5 531.0,320.5 558.9,325.0 580.0,326.8" fill="none" stroke="#1f6a90" stroke-width="3.4" stroke-linejoin="round" stroke-linecap="round"/>
<polyline points="396.9,319.9 440.0,321.3 465.3,322.1 531.0,320.1 558.9,324.6 580.0,326.4" fill="none" stroke="#4aa6d2" stroke-width="2.38" stroke-linejoin="round" stroke-linecap="round"/>
<polyline points="396.9,319.6 440.0,321.0 465.3,321.8 531.0,319.8 558.9,324.3 580.0,326.1" fill="none" stroke="#b0e0f6" stroke-width="1.36" stroke-linejoin="round" stroke-linecap="round" opacity="0.9"/>
<polyline points="292.5,315.5 348.0,315.0" fill="none" stroke="#1f6a90" stroke-width="3.4" stroke-linejoin="round" stroke-linecap="round"/>
<polyline points="292.5,315.1 348.0,314.6" fill="none" stroke="#4aa6d2" stroke-width="2.38" stroke-linejoin="round" stroke-linecap="round"/>
<polyline points="292.5,314.8 348.0,314.3" fill="none" stroke="#b0e0f6" stroke-width="1.36" stroke-linejoin="round" stroke-linecap="round" opacity="0.9"/>
<polyline points="348.0,315.0 391.8,313.2 440.0,311.6 465.3,309.9 540.0,314.2 580.0,314.2" fill="none" stroke="#1f6a90" stroke-width="3.8" stroke-linejoin="round" stroke-linecap="round"/>
<polyline points="348.0,314.5 391.8,312.7 440.0,311.1 465.3,309.4 540.0,313.7 580.0,313.7" fill="none" stroke="#4aa6d2" stroke-width="2.66" stroke-linejoin="round" stroke-linecap="round"/>
<polyline points="348.0,314.2 391.8,312.4 440.0,310.8 465.3,309.1 540.0,313.4 580.0,313.4" fill="none" stroke="#b0e0f6" stroke-width="1.52" stroke-linejoin="round" stroke-linecap="round" opacity="0.9"/>
<polyline points="292.5,304.0 355.6,306.8 430.0,307.0 445.0,309.0" fill="none" stroke="#1f6a90" stroke-width="3.8" stroke-linejoin="round" stroke-linecap="round"/>
<polyline points="292.5,303.5 355.6,306.3 430.0,306.5 445.0,308.5" fill="none" stroke="#4aa6d2" stroke-width="2.66" stroke-linejoin="round" stroke-linecap="round"/>
<polyline points="292.5,303.2 355.6,306.0 430.0,306.2 445.0,308.2" fill="none" stroke="#b0e0f6" stroke-width="1.52" stroke-linejoin="round" stroke-linecap="round" opacity="0.9"/>
<polyline points="292.5,290.8 332.7,289.0 445.0,295.5 517.2,291.4 580.0,297.7" fill="none" stroke="#1f6a90" stroke-width="4.8" stroke-linejoin="round" stroke-linecap="round"/>
<polyline points="292.5,290.2 332.7,288.4 445.0,294.9 517.2,290.8 580.0,297.1" fill="none" stroke="#4aa6d2" stroke-width="3.36" stroke-linejoin="round" stroke-linecap="round"/>
<polyline points="292.5,289.7 332.7,287.9 445.0,294.4 517.2,290.3 580.0,296.6" fill="none" stroke="#b0e0f6" stroke-width="1.92" stroke-linejoin="round" stroke-linecap="round" opacity="0.9"/>
<polyline points="362.9,258.6 529.0,271.6" fill="none" stroke="#1f6a90" stroke-width="5.0" stroke-linejoin="round" stroke-linecap="round"/>
<polyline points="362.9,258.0 529.0,271.0" fill="none" stroke="#4aa6d2" stroke-width="3.50" stroke-linejoin="round" stroke-linecap="round"/>
<polyline points="362.9,257.5 529.0,270.5" fill="none" stroke="#b0e0f6" stroke-width="2.00" stroke-linejoin="round" stroke-linecap="round" opacity="0.9"/>
<polyline points="529.0,271.6 517.2,291.4" fill="none" stroke="#111" stroke-width="5" stroke-linejoin="round" stroke-linecap="round"/>
<polyline points="529.0,270.6 517.2,290.4" fill="none" stroke="#444" stroke-width="2.00" stroke-linejoin="round" stroke-linecap="round" opacity="0.9"/>
<polyline points="316.6,318.8 348.0,315.0" fill="none" stroke="#1d5a80" stroke-width="3.4" stroke-linejoin="round" stroke-linecap="round"/>
<polyline points="316.6,318.1 348.0,314.3" fill="none" stroke="#4a8fb5" stroke-width="1.02" stroke-linejoin="round" stroke-linecap="round" opacity="0.7"/>
<polyline points="430.0,295.4 430.0,305.0" fill="none" stroke="#1d5a80" stroke-width="3.4" stroke-linejoin="round" stroke-linecap="round"/>
<polyline points="430.0,294.7 430.0,304.3" fill="none" stroke="#4a8fb5" stroke-width="1.02" stroke-linejoin="round" stroke-linecap="round" opacity="0.7"/>
<polyline points="391.8,313.2 396.9,320.3" fill="none" stroke="#1d5a80" stroke-width="3.0" stroke-linejoin="round" stroke-linecap="round"/>
<polyline points="391.8,312.6 396.9,319.7" fill="none" stroke="#4a8fb5" stroke-width="0.90" stroke-linejoin="round" stroke-linecap="round" opacity="0.7"/>
<polyline points="326.8,346.5 345.9,344.7" fill="none" stroke="#1d5a80" stroke-width="2.4" stroke-linejoin="round" stroke-linecap="round"/>
<polyline points="326.8,346.0 345.9,344.2" fill="none" stroke="#4a8fb5" stroke-width="0.72" stroke-linejoin="round" stroke-linecap="round" opacity="0.7"/>
<polyline points="493.1,326.8 489.3,330.6" fill="none" stroke="#1d5a80" stroke-width="2.4" stroke-linejoin="round" stroke-linecap="round"/>
<polyline points="493.1,326.3 489.3,330.1" fill="none" stroke="#4a8fb5" stroke-width="0.72" stroke-linejoin="round" stroke-linecap="round" opacity="0.7"/>
<polyline points="540.0,314.2 531.0,320.5" fill="none" stroke="#1d5a80" stroke-width="2.8" stroke-linejoin="round" stroke-linecap="round"/>
<polyline points="540.0,313.6 531.0,319.9" fill="none" stroke="#4a8fb5" stroke-width="0.84" stroke-linejoin="round" stroke-linecap="round" opacity="0.7"/>
<polyline points="358.7,336.3 354.8,340.9" fill="none" stroke="#1d5a80" stroke-width="2.4" stroke-linejoin="round" stroke-linecap="round"/>
<polyline points="358.7,335.8 354.8,340.4" fill="none" stroke="#4a8fb5" stroke-width="0.72" stroke-linejoin="round" stroke-linecap="round" opacity="0.7"/>
<polyline points="297.0,309.4 310.8,329.0" fill="none" stroke="#1d5a80" stroke-width="2.6" stroke-linejoin="round" stroke-linecap="round"/>
<polyline points="297.0,308.9 310.8,328.5" fill="none" stroke="#4a8fb5" stroke-width="0.78" stroke-linejoin="round" stroke-linecap="round" opacity="0.7"/>
<polyline points="469.1,348.8 478.0,346.3" fill="none" stroke="#1d5a80" stroke-width="2.2" stroke-linejoin="round" stroke-linecap="round"/>
<polyline points="469.1,348.4 478.0,345.9" fill="none" stroke="#4a8fb5" stroke-width="0.66" stroke-linejoin="round" stroke-linecap="round" opacity="0.7"/>
<polyline points="502.0,340.7 507.0,335.7" fill="none" stroke="#1d5a80" stroke-width="2.2" stroke-linejoin="round" stroke-linecap="round"/>
<polyline points="502.0,340.3 507.0,335.3" fill="none" stroke="#4a8fb5" stroke-width="0.66" stroke-linejoin="round" stroke-linecap="round" opacity="0.7"/>
<circle cx="362.9" cy="258.6" r="10.5" fill="url(#gb)"/>
<circle cx="529.0" cy="271.6" r="8.5" fill="url(#gb)"/>
<circle cx="332.7" cy="289.0" r="8" fill="url(#gb)"/>
<circle cx="517.2" cy="291.4" r="7" fill="url(#gb)"/>
<circle cx="430.0" cy="295.4" r="6.5" fill="url(#gb)"/>
<circle cx="430.0" cy="305.0" r="5.5" fill="url(#gb)"/>
<circle cx="355.6" cy="306.8" r="6" fill="url(#gb)"/>
<circle cx="348.0" cy="315.0" r="5.5" fill="url(#gb)"/>
<circle cx="316.6" cy="318.8" r="5" fill="url(#gb)"/>
<circle cx="391.8" cy="313.2" r="5.5" fill="url(#gb)"/>
<circle cx="396.9" cy="320.3" r="5" fill="url(#gb)"/>
<circle cx="297.0" cy="309.4" r="5" fill="url(#gb)"/>
<circle cx="310.8" cy="329.0" r="5" fill="url(#gb)"/>
<circle cx="309.0" cy="334.6" r="4.5" fill="url(#gb)"/>
<circle cx="358.7" cy="336.3" r="4.5" fill="url(#gb)"/>
<circle cx="354.8" cy="340.9" r="4" fill="url(#gb)"/>
<circle cx="414.7" cy="336.6" r="4.5" fill="url(#gb)"/>
<circle cx="442.7" cy="333.3" r="4.5" fill="url(#gb)"/>
<circle cx="326.8" cy="346.5" r="3.5" fill="url(#gb)"/>
<circle cx="345.9" cy="344.7" r="3.5" fill="url(#gb)"/>
<circle cx="356.1" cy="349.1" r="3.5" fill="url(#gb)"/>
<circle cx="395.6" cy="345.5" r="3.5" fill="url(#gb)"/>
<circle cx="400.7" cy="349.8" r="3.5" fill="url(#gb)"/>
<circle cx="424.9" cy="344.7" r="3.5" fill="url(#gb)"/>
<circle cx="465.3" cy="309.9" r="6.5" fill="url(#gb)"/>
<circle cx="540.0" cy="314.2" r="6" fill="url(#gb)"/>
<circle cx="465.3" cy="322.5" r="5.5" fill="url(#gb)"/>
<circle cx="531.0" cy="320.5" r="5.5" fill="url(#gb)"/>
<circle cx="558.9" cy="325.0" r="5.5" fill="url(#gb)"/>
<circle cx="493.1" cy="326.8" r="5" fill="url(#gb)"/>
<circle cx="489.3" cy="330.6" r="4.5" fill="url(#gb)"/>
<circle cx="445.0" cy="333.6" r="4.5" fill="url(#gb)"/>
<circle cx="546.2" cy="333.6" r="4.5" fill="url(#gb)"/>
<circle cx="446.3" cy="338.7" r="4" fill="url(#gb)"/>
<circle cx="502.0" cy="340.7" r="4.5" fill="url(#gb)"/>
<circle cx="507.0" cy="335.7" r="4.5" fill="url(#gb)"/>
<circle cx="534.9" cy="339.4" r="4.5" fill="url(#gb)"/>
<circle cx="557.6" cy="340.2" r="4" fill="url(#gb)"/>
<circle cx="565.2" cy="336.9" r="4.5" fill="url(#gb)"/>
<circle cx="478.0" cy="346.3" r="4" fill="url(#gb)"/>
<circle cx="469.1" cy="348.8" r="3.5" fill="url(#gb)"/>
</g>
<text x="300.3" y="267.0" font-size="17" fill="#000" font-weight="700" textLength="21.4" lengthAdjust="spacingAndGlyphs" >(d)</text>
<text x="369.7" y="286.5" font-size="12.4" fill="#111" font-weight="700" textLength="125.6" lengthAdjust="spacingAndGlyphs" stroke="#111" stroke-width="0.25">Polymer (PEDOT:PSS)</text>
<text x="522.2" y="365.3" font-size="12.4" fill="#111" font-weight="700" textLength="57.7" lengthAdjust="spacingAndGlyphs" stroke="#111" stroke-width="0.25">Graphene</text>
<text x="521.5" y="452.2" font-size="12.4" fill="#111" font-weight="700" textLength="58.4" lengthAdjust="spacingAndGlyphs" stroke="#111" stroke-width="0.25">Graphene</text>
<text x="331.9" y="466.6" font-size="13" fill="#222" stroke="#222" stroke-width="0.3" textLength="204.2" lengthAdjust="spacingAndGlyphs" >Graphene-Polymer nanocomposite</text>
<defs>
<linearGradient id="eH" x1="32" y1="0" x2="296" y2="0" gradientUnits="userSpaceOnUse">
 <stop offset="0" stop-color="#9db8e8"/><stop offset="0.35" stop-color="#a9c1ee"/><stop offset="0.6" stop-color="#a6bfec"/><stop offset="0.88" stop-color="#9ab6e8"/><stop offset="1" stop-color="#7ea4de"/></linearGradient>
<linearGradient id="eV" x1="0" y1="496" x2="0" y2="685" gradientUnits="userSpaceOnUse">
 <stop offset="0" stop-color="#6f98de" stop-opacity="0.55"/><stop offset="0.35" stop-color="#6f98de" stop-opacity="0.0"/><stop offset="0.85" stop-color="#6f98de" stop-opacity="0.0"/><stop offset="1" stop-color="#6f98de" stop-opacity="0.2"/></linearGradient>
<filter id="noiseE" x="0" y="0" width="1" height="1">
 <feTurbulence type="fractalNoise" baseFrequency="0.35" numOctaves="2" seed="3" result="t"/>
 <feColorMatrix in="t" type="matrix" values="0 0 0 0 0.25  0 0 0 0 0.38  0 0 0 0 0.7  0 0 0 -1.1 0.62"/>
</filter>
<filter id="mottleE" x="0" y="0" width="1" height="1">
 <feTurbulence type="fractalNoise" baseFrequency="0.045" numOctaves="3" seed="9" result="t"/>
 <feColorMatrix in="t" type="matrix" values="0 0 0 0 0.32  0 0 0 0 0.46  0 0 0 0 0.8  -3.2 0 0 0 1.75"/>
</filter>
<filter id="blurE"><feGaussianBlur stdDeviation="4"/></filter>
<filter id="mottle2" x="0" y="0" width="1" height="1">
 <feTurbulence type="fractalNoise" baseFrequency="0.13" numOctaves="2" seed="17" result="t"/>
 <feColorMatrix in="t" type="matrix" values="0 0 0 0 0.38  0 0 0 0 0.52  0 0 0 0 0.85  -2.6 0 0 0 1.45"/>
</filter>
<filter id="mottle3" x="0" y="0" width="1" height="1">
 <feTurbulence type="fractalNoise" baseFrequency="0.13" numOctaves="2" seed="29" result="t"/>
 <feColorMatrix in="t" type="matrix" values="0 0 0 0 0.82  0 0 0 0 0.88  0 0 0 0 1.0  -2.6 0 0 0 1.4"/>
</filter>
<linearGradient id="tan" x1="0" y1="0" x2="1" y2="0"><stop offset="0" stop-color="#b09272"/><stop offset="0.6" stop-color="#a48868"/><stop offset="1" stop-color="#957a5e"/></linearGradient>
<linearGradient id="sky" x1="0" y1="0" x2="0" y2="1"><stop offset="0" stop-color="#b0bacb"/><stop offset="1" stop-color="#a0aabb"/></linearGradient>
<radialGradient id="fing1" cx="0.55" cy="0.35" r="0.65"><stop offset="0" stop-color="#6a58d8"/><stop offset="0.7" stop-color="#4e3cb8"/><stop offset="1" stop-color="#3a2a98"/></radialGradient>
<radialGradient id="fing2" cx="0.62" cy="0.35" r="0.7"><stop offset="0" stop-color="#8e7cf0"/><stop offset="0.45" stop-color="#6450d8"/><stop offset="1" stop-color="#3c2ca0"/></radialGradient>
<linearGradient id="film" x1="0" y1="0" x2="1" y2="0"><stop offset="0" stop-color="#d8dcde"/><stop offset="0.4" stop-color="#c4c8c8"/><stop offset="1" stop-color="#b8bcbc"/></linearGradient>
<clipPath id="insetclip"><rect x="32" y="496" width="104.8" height="92.3"/></clipPath>
</defs>
<rect x="32" y="496" width="264" height="189" fill="url(#eH)"/>
<rect x="32" y="496" width="264" height="189" fill="url(#eV)"/>
<rect x="32" y="496" width="264" height="189" filter="url(#mottleE)" opacity="0.35"/>
<rect x="32" y="496" width="264" height="189" filter="url(#mottle2)" opacity="0.35"/>
<rect x="32" y="496" width="264" height="189" filter="url(#mottle3)" opacity="0.3"/>
<rect x="32" y="496" width="264" height="189" filter="url(#noiseE)" opacity="0.5"/>
<defs><radialGradient id="eDark" cx="0.5" cy="0.5" r="0.5"><stop offset="0" stop-color="#7496d8" stop-opacity="0.55"/><stop offset="0.6" stop-color="#7496d8" stop-opacity="0.3"/><stop offset="1" stop-color="#7496d8" stop-opacity="0"/></radialGradient><linearGradient id="eRight" x1="258" y1="0" x2="296" y2="0" gradientUnits="userSpaceOnUse"><stop offset="0" stop-color="#7aa0de" stop-opacity="0"/><stop offset="0.5" stop-color="#7aa0de" stop-opacity="0.2"/><stop offset="1" stop-color="#7aa0de" stop-opacity="0.6"/></linearGradient><linearGradient id="eBot" x1="0" y1="640" x2="0" y2="685" gradientUnits="userSpaceOnUse"><stop offset="0" stop-color="#7c9edc" stop-opacity="0"/><stop offset="1" stop-color="#7c9edc" stop-opacity="0.35"/></linearGradient></defs>
<clipPath id="eclip"><rect x="32" y="496" width="264" height="189"/></clipPath>
<g clip-path="url(#eclip)">
<ellipse cx="158" cy="535" rx="48" ry="55" fill="url(#eDark)"/>
<ellipse cx="60" cy="610" rx="40" ry="25" fill="url(#eDark)" opacity="0.5"/>
<rect x="258" y="496" width="38" height="189" fill="url(#eRight)"/>
<rect x="32" y="640" width="264" height="45" fill="url(#eBot)"/>
<path d="M192,496 L190,560 L188,620 L186,685 L266,685 L266,496 Z" fill="#b8ccf2" opacity="0.22" filter="url(#blurE)"/>
</g>
<circle cx="242" cy="521.8" r="1.0" fill="#2a4590" opacity="0.75"/>
<circle cx="251.5" cy="555.8" r="0.9" fill="#2a4590" opacity="0.75"/>
<circle cx="210.7" cy="583.5" r="1.5" fill="#2a4590" opacity="0.75"/>
<circle cx="156.4" cy="554.4" r="1.1" fill="#2a4590" opacity="0.75"/>
<circle cx="150" cy="580" r="0.8" fill="#2a4590" opacity="0.75"/>
<circle cx="66" cy="606" r="1.0" fill="#2a4590" opacity="0.75"/>
<circle cx="52" cy="649" r="0.9" fill="#2a4590" opacity="0.75"/>
<circle cx="89" cy="676" r="1.0" fill="#2a4590" opacity="0.75"/>
<circle cx="178" cy="672" r="0.8" fill="#2a4590" opacity="0.75"/>
<circle cx="100" cy="615" r="0.8" fill="#2a4590" opacity="0.75"/>
<g clip-path="url(#insetclip)">
<rect x="32" y="496" width="105" height="93" fill="#0e0e18"/>
<rect x="32" y="496" width="105" height="22" fill="url(#sky)"/>
<path d="M32,516.5 L137,516 L137,552.5 L32,552.5 Z" fill="url(#tan)"/>
<path d="M62,494 L131,494 Q135.5,499 134,507 Q130,515 122,517.5 Q112,519.5 104,517 Q90,513 80,508 Q70,502 62,494 Z" fill="url(#fing1)"/>
<path d="M95,496 Q115,497 128,501 Q132,507 126,512 Q112,510 100,503 Z" fill="#7a66e0" opacity="0.5"/>
<path d="M68.5,512 Q73,520 75,530 L75.7,551 L117,550.5 L117,527 Q100,526 86,522.5 Q76,518 68.5,512 Z" fill="url(#film)"/>
<path d="M70,513 Q74,521 76,531 L76.5,550 L82,550 L81,530 Q79,521 74,515 Z" fill="#f0f2f2" opacity="0.85"/>
<path d="M80,533 L116,534" stroke="#eceeee" stroke-width="1.2" opacity="0.7"/>
<path d="M80,541 L116,542" stroke="#e4e6e6" stroke-width="0.8" opacity="0.6"/>
<path d="M30,541 Q50,541.5 67.7,548 Q82,554 90.8,561.4 Q96,567 95.3,570 Q94,576 88,580 Q80,584 67.7,584.6 L30,584 Z" fill="url(#fing2)"/>
<path d="M40,541.5 Q60,542 75,547 Q88,550 97,553 L110,552 Q90,548 75,545 Q58,541 40,541.5 Z" fill="#c8c0f0" opacity="0.55"/>
</g>
<text x="39.8" y="517.3" font-size="17" fill="#000" font-weight="700" textLength="20.1" lengthAdjust="spacingAndGlyphs" >(e)</text>
<text x="52.0" y="625.9" font-size="14" fill="#141828" textLength="112.4" lengthAdjust="spacingAndGlyphs" stroke="#141828" stroke-width="0.3">Graphene-polymer</text>
<text x="61.2" y="641.9" font-size="14" fill="#141828" textLength="94.0" lengthAdjust="spacingAndGlyphs" stroke="#141828" stroke-width="0.3">Nanocomposite</text>
<text x="200.6" y="633.0" font-size="14" fill="#141828" textLength="81.2" lengthAdjust="spacingAndGlyphs" stroke="#141828" stroke-width="0.3">PET substrate</text>
<text x="234.0" y="666.2" font-size="13" fill="#111" stroke="#111" stroke-width="0.22" textLength="32.5" lengthAdjust="spacingAndGlyphs" >10 μm</text>
<rect x="237.7" y="669.9" width="29.3" height="2.9" fill="#000"/>
<defs>
<linearGradient id="fV" x1="0" y1="496" x2="0" y2="685" gradientUnits="userSpaceOnUse">
 <stop offset="0" stop-color="#3e3e3e"/><stop offset="0.15" stop-color="#5a5a5a"/><stop offset="0.32" stop-color="#767676"/><stop offset="0.5" stop-color="#8e8e8e"/><stop offset="1" stop-color="#a0a0a0"/></linearGradient>
<linearGradient id="fL" x1="0" y1="496" x2="0" y2="685" gradientUnits="userSpaceOnUse">
 <stop offset="0" stop-color="#2e2e2e"/><stop offset="0.1" stop-color="#4e4e4e"/><stop offset="0.24" stop-color="#7c7c7c"/><stop offset="0.38" stop-color="#a6a6a6"/><stop offset="0.55" stop-color="#bcbcbc"/><stop offset="1" stop-color="#c4c4c4"/></linearGradient>
<filter id="noiseF" x="0" y="0" width="1" height="1">
 <feTurbulence type="fractalNoise" baseFrequency="0.5" numOctaves="2" seed="5" result="t"/>
 <feColorMatrix in="t" type="matrix" values="0 0 0 0 0.2  0 0 0 0 0.2  0 0 0 0 0.2  0 0 0 -1.2 0.65"/>
</filter>
<filter id="blur1"><feGaussianBlur stdDeviation="0.8"/></filter>
<filter id="blur2"><feGaussianBlur stdDeviation="1.6"/></filter>
<clipPath id="fclip"><rect x="309" y="496" width="254" height="189"/></clipPath>
</defs>
<g clip-path="url(#fclip)">
<rect x="309" y="496" width="254" height="189" fill="url(#fV)"/>
<polygon points="309,494 326,494 336,514 352.5,537.5 366.8,556.6 378,562 392,584 406,608 420,633 434,658 449,685 450,687 309,687" fill="url(#fL)"/>
<polygon points="366,564 378,560 392,584 406,608 420,633 434,658 449,685 450,687 352,687 352,640 356,600" fill="#d2d2d2" opacity="0.4" filter="url(#blur2)"/>
<polygon points="433,494 435.8721616645338,496.0 434.19274584250377,498.54285714285714 434.3680001907049,501.0857142857143 434.8668784894162,503.62857142857143 435.70875408673953,506.1714285714285 433.8635732537592,508.71428571428567 433.81486623374906,511.2571428571428 434.7603838272928,513.7955982030325 434.483830216197,516.4982033573552 435.0394537190135,519.2932726354459 435.4800982089831,522.0755664676648 434.01012670630143,524.6455696340336 433.0285107279986,527.2698345253332 434.2669060869559,529.4570402484475 433.13600066623184,532.7036187620912 435.787515471972,534.3291600358215 436.34740115970214,536.2183473906701 439.59480061391446,536.9950319520258 441.35334801235877,541.1216336388594 444.6177154438163,541.6612489620476 447.5993331638519,543.8889912841481 451.0756361037828,544.8797679424819 454.237421130975,546.743919212552 454.94547502922006,549.9679696625207 456.00674489500375,552.9960180740339 458.6920176619514,555.1416602557957 458.02122276672964,559.2685953947419 461.25077236448976,561.0672445058058 463.2404024971528,562.8292656327303 462.89339647073615,566.1417649586704 466.16022338474164,567.0563003708723 465.4389354031102,570.6171550128895 468.12110196634046,571.9115024092127 469.4489760226588,574.2648508552364 471.57250297969784,576.0367606430414 472.7895204679923,578.4711196580056 475.1422520030819,580.0755337926196 477.1125367961621,581.9594282387021 476.83216126724443,585.961687775168 480.38394001227215,585.9697930489947 481.7884519719431,589.0699624937353 485.2921690082122,589.2795277066751 486.180847118997,593.1588582274426 488.7661721281821,594.9739350218229 491.7128174690695,596.7630850107583 494.8038002625895,597.9537116832146 498.1089670802844,598.5752208057204 501.0149745209741,600.1777272501283 504.44333502067855,599.5114033952755 506.6793695345847,601.6801657733208 508.91931776363924,603.8396222064579 512.3433799469268,603.1072121379901 514.1138935676598,606.2638767240846 516.7547973439998,607.1575269056007 519.9038435260597,606.7300068322446 522.5548256133408,607.5974534053138 525.027865126125,608.8467418063126 527.8153846687106,609.1403843220913 530.2167354944264,611.5579547806548 533.3149177964258,610.1429521196579 536.3235639737371,609.5208504057733 538.8381392876629,610.2885061135407 540.9708617578661,612.8017748211832 543.3429925636426,614.2206054233476 546.2427279583079,613.2275293334496 548.8109954932826,613.775260140114 551.1344578313499,615.0141365461293 553.2774597504178,616.6590488948932 556.3612578643522,616.1871698052076 558.8584670591339,618.6517824502822 561.9265870589697,619.8318457839848 565,621 565,494" fill="#272727" filter="url(#blur1)"/>
<path d="M324,496 L331,496 L340,512 L350,528 L358,540 L368,553 L378,558 L386,562 L380,568 L370,566 L362,558 L352,546 L343,532 L335,518 Z" fill="#3a3a3a" filter="url(#blur2)"/>
<path d="M407,568 L425,570 L438,572 L425,573 Z" fill="#2a2a2a" filter="url(#blur1)"/><circle cx="434" cy="571" r="1.2" fill="#ddd"/>
<g filter="url(#blur1)">
<path d="M419.9,604.8 L417.7,601.1 L421.4,599.1 L425.2,598.1 L427.3,601.1 L429.2,603.8 L426.9,606.1 L424.6,608.8 L420.1,609.2Z" fill="#4e4e4e" opacity="0.75"/>
<path d="M469.3,609.1 L470.3,609.1 L471.6,609.0 L471.5,610.1 L471.4,610.9 L470.5,611.4 L469.6,611.1 L468.4,610.8 L468.4,609.7Z" fill="#4e4e4e" opacity="0.75"/>
<path d="M469.6,590.2 L472.1,589.0 L473.3,591.2 L474.4,592.3 L475.0,594.3 L472.5,595.0 L470.7,594.0 L468.4,593.6 L469.3,592.0Z" fill="#4e4e4e" opacity="0.75"/>
<path d="M336.8,553.4 L337.7,553.9 L336.8,554.3 L335.6,554.5 L335.5,553.8 L336.1,553.4Z" fill="#5e5e5e" opacity="0.85"/>
<path d="M468.4,644.8 L467.0,644.2 L468.2,643.5 L469.5,643.1 L469.8,643.9 L469.7,644.7Z" fill="#4e4e4e" opacity="0.75"/>
<path d="M433.8,626.1 L433.4,626.9 L432.5,627.2 L431.2,627.0 L431.9,625.9 L432.2,624.9 L433.5,624.9Z" fill="#4e4e4e" opacity="0.75"/>
<path d="M458.7,685.2 L458.9,684.5 L459.0,683.5 L459.9,684.0 L460.3,684.5 L460.4,685.3 L459.5,685.4Z" fill="#4e4e4e" opacity="0.75"/>
<path d="M385.4,513.7 L384.7,514.0 L383.9,514.3 L383.1,513.9 L383.6,513.3 L384.1,512.9 L385.0,513.0Z" fill="#3e3e3e" opacity="0.75"/>
<path d="M389.7,544.6 L386.8,545.1 L385.3,543.1 L385.3,540.9 L387.7,540.4 L389.4,541.0 L390.1,542.4Z" fill="#4e4e4e" opacity="0.75"/>
<path d="M439.0,551.2 L436.9,549.5 L436.1,547.6 L435.2,544.9 L438.3,544.8 L440.4,544.5 L442.8,545.4 L444.0,548.2 L441.8,550.4Z" fill="#4e4e4e" opacity="0.75"/>
<path d="M381.1,670.0 L380.2,670.3 L379.3,670.2 L379.0,669.3 L380.0,668.4 L380.9,669.3Z" fill="#5e5e5e" opacity="0.85"/>
<path d="M342.8,582.5 L344.0,581.9 L345.2,582.3 L345.2,583.4 L345.1,584.8 L343.8,584.4 L343.1,583.7Z" fill="#5e5e5e" opacity="0.85"/>
<path d="M386.8,524.9 L387.4,524.4 L388.1,524.3 L388.9,524.5 L389.3,525.2 L388.7,525.7 L388.3,526.3 L387.4,526.3 L386.8,525.7Z" fill="#3e3e3e" opacity="0.75"/>
<path d="M411.2,643.5 L416.3,642.3 L418.3,645.6 L418.8,649.2 L413.2,651.2 L408.8,647.5Z" fill="#5e5e5e" opacity="0.85"/>
<path d="M493.9,607.3 L495.1,606.4 L496.5,606.6 L498.5,607.7 L496.3,608.6 L494.2,609.1Z" fill="#4e4e4e" opacity="0.75"/>
<path d="M475.4,593.4 L473.1,591.5 L470.2,588.1 L474.0,585.4 L478.3,585.8 L482.7,587.3 L481.0,591.2 L479.3,594.5Z" fill="#4e4e4e" opacity="0.75"/>
<path d="M362.9,577.3 L363.3,580.1 L361.1,581.9 L357.8,582.9 L354.1,581.0 L354.7,577.3 L359.0,575.8Z" fill="#5e5e5e" opacity="0.85"/>
<path d="M352.7,582.4 L353.6,583.2 L353.2,584.2 L351.9,584.7 L350.7,584.1 L350.7,583.1 L351.3,582.1Z" fill="#5e5e5e" opacity="0.85"/>
<path d="M375.7,611.1 L378.9,610.8 L380.8,610.7 L382.9,611.6 L381.7,613.1 L381.1,615.4 L378.4,614.3 L377.2,613.0Z" fill="#5e5e5e" opacity="0.85"/>
<path d="M322.6,616.0 L322.8,617.3 L321.4,617.8 L320.2,617.5 L318.9,616.9 L318.7,615.3 L320.5,615.0 L321.8,615.0Z" fill="#5e5e5e" opacity="0.85"/>
<path d="M394.2,630.9 L395.1,628.6 L395.4,626.2 L398.1,626.5 L398.6,628.6 L398.7,630.4 L396.8,631.6Z" fill="#5e5e5e" opacity="0.85"/>
<path d="M450.1,663.4 L449.1,660.3 L452.2,658.1 L456.1,659.1 L458.5,661.7 L456.4,664.3 L454.8,667.5 L450.3,667.1Z" fill="#4e4e4e" opacity="0.75"/>
<path d="M541.7,658.6 L540.6,659.3 L538.6,659.5 L538.8,658.1 L539.5,656.8 L541.3,657.4Z" fill="#4e4e4e" opacity="0.75"/>
<path d="M313.3,599.5 L315.1,596.2 L318.1,594.6 L320.7,596.6 L322.4,599.8 L319.4,602.1 L316.0,602.3Z" fill="#5e5e5e" opacity="0.85"/>
<path d="M448.0,653.4 L449.7,651.8 L451.8,651.5 L454.3,652.8 L453.9,655.7 L451.1,655.8 L448.4,656.0Z" fill="#4e4e4e" opacity="0.75"/>
<path d="M441.2,592.5 L444.2,591.2 L448.0,591.2 L447.3,593.4 L445.7,594.4 L443.5,594.1Z" fill="#4e4e4e" opacity="0.75"/>
<path d="M541.0,648.3 L541.1,647.0 L543.0,646.4 L544.5,647.3 L544.5,648.4 L543.5,649.0 L541.8,649.3Z" fill="#4e4e4e" opacity="0.75"/>
<path d="M357.7,539.6 L360.4,540.0 L362.1,541.6 L362.0,543.9 L359.0,544.8 L355.9,544.4 L354.2,542.5 L354.5,540.2Z" fill="#4e4e4e" opacity="0.75"/>
<path d="M310.3,616.0 L313.4,613.9 L316.5,614.0 L319.6,616.2 L318.7,620.1 L314.9,620.3 L310.1,620.6Z" fill="#5e5e5e" opacity="0.85"/>
<path d="M356.3,618.1 L352.6,614.5 L350.8,611.5 L351.3,606.8 L356.1,607.4 L358.3,610.1 L360.8,614.5Z" fill="#5e5e5e" opacity="0.85"/>
<path d="M415.6,645.6 L416.0,645.1 L416.7,645.4 L417.4,645.8 L417.0,646.5 L416.6,647.2 L415.8,647.2 L415.3,646.6 L414.6,646.0Z" fill="#5e5e5e" opacity="0.85"/>
<path d="M522.9,649.0 L521.3,650.5 L519.4,649.6 L518.8,648.2 L520.0,647.1 L522.6,646.8Z" fill="#4e4e4e" opacity="0.75"/>
<path d="M561.0,671.9 L560.3,672.1 L559.6,671.6 L559.9,670.8 L560.8,670.7 L561.3,671.3Z" fill="#4e4e4e" opacity="0.75"/>
<path d="M404.3,618.1 L403.4,617.9 L403.0,617.4 L403.2,616.9 L403.8,616.5 L404.3,617.0 L405.0,617.5Z" fill="#5e5e5e" opacity="0.85"/>
<path d="M507.9,628.9 L510.8,627.7 L514.2,626.5 L516.0,628.8 L516.2,630.6 L516.8,633.1 L513.0,632.9 L508.9,634.0 L509.2,631.0Z" fill="#4e4e4e" opacity="0.75"/>
<path d="M393.0,598.1 L393.7,599.0 L394.4,599.6 L394.2,600.5 L393.1,600.6 L392.1,600.8 L391.0,600.3 L390.9,599.3 L392.0,598.8Z" fill="#5e5e5e" opacity="0.85"/>
<path d="M547.5,622.7 L548.0,621.5 L549.4,621.8 L550.5,622.3 L551.0,623.4 L550.6,624.5 L549.0,624.1 L547.9,624.5 L547.0,623.6Z" fill="#4e4e4e" opacity="0.75"/>
<path d="M373.7,573.9 L374.4,573.8 L375.0,574.1 L375.1,574.6 L374.4,574.8 L373.5,574.7 L373.0,574.3Z" fill="#5e5e5e" opacity="0.85"/>
<path d="M332.0,584.1 L330.1,580.8 L333.5,578.2 L336.9,580.0 L337.7,583.3 L334.9,585.2Z" fill="#5e5e5e" opacity="0.85"/>
<path d="M433.2,553.8 L432.6,552.7 L433.4,551.8 L434.5,551.0 L435.7,551.7 L435.9,552.6 L435.8,553.4 L434.7,553.5Z" fill="#4e4e4e" opacity="0.75"/>
<path d="M348.7,638.0 L350.5,638.5 L350.1,639.6 L350.5,640.7 L348.8,640.7 L347.5,640.4 L346.2,639.6 L347.7,638.9Z" fill="#5e5e5e" opacity="0.85"/>
<path d="M443.9,675.8 L441.8,677.8 L440.2,675.3 L438.3,673.9 L439.6,672.0 L440.4,668.8 L443.2,670.2 L444.5,672.1 L445.3,674.1Z" fill="#5e5e5e" opacity="0.85"/>
<path d="M342.0,579.7 L342.3,577.5 L342.3,576.0 L343.8,575.3 L345.6,574.6 L347.2,575.8 L347.1,577.6 L346.4,579.3 L344.4,580.6Z" fill="#5e5e5e" opacity="0.85"/>
<path d="M376.8,610.8 L379.3,610.0 L383.4,610.5 L383.5,614.5 L380.2,617.1 L377.3,614.7 L376.2,613.0Z" fill="#5e5e5e" opacity="0.85"/>
<path d="M378.5,581.3 L374.6,580.6 L375.6,578.1 L377.4,576.9 L381.1,576.7 L380.8,579.4Z" fill="#5e5e5e" opacity="0.85"/>
<path d="M399.9,561.6 L401.9,562.4 L400.8,563.7 L398.6,564.4 L397.3,563.2 L396.8,562.1 L398.3,561.4Z" fill="#4e4e4e" opacity="0.75"/>
<path d="M474.0,683.4 L473.1,682.3 L474.8,682.2 L475.7,682.3 L476.7,683.0 L476.1,683.9 L474.6,684.4Z" fill="#4e4e4e" opacity="0.75"/>
<path d="M385.9,643.0 L385.9,643.7 L385.3,644.4 L384.5,644.1 L383.6,643.6 L384.4,643.0 L385.0,642.5Z" fill="#5e5e5e" opacity="0.85"/>
<path d="M390.1,666.8 L391.2,665.8 L392.5,666.2 L393.7,666.5 L393.5,667.8 L393.1,668.6 L392.2,669.1 L390.8,669.4 L390.0,668.2Z" fill="#5e5e5e" opacity="0.85"/>
<path d="M371.1,565.3 L372.7,565.2 L373.5,566.3 L373.6,567.4 L372.7,567.9 L371.5,568.4 L370.8,567.4 L370.9,566.6Z" fill="#5e5e5e" opacity="0.85"/>
<path d="M419.7,657.7 L421.1,653.9 L426.0,654.2 L429.6,656.6 L427.0,659.4 L425.0,661.9 L420.6,661.4Z" fill="#5e5e5e" opacity="0.85"/>
<path d="M332.9,516.4 L331.5,519.0 L328.1,518.3 L327.2,515.8 L327.6,513.7 L329.2,511.2 L332.4,512.1 L334.9,514.1Z" fill="#5e5e5e" opacity="0.85"/>
<path d="M402.3,562.7 L404.7,558.3 L410.6,556.3 L414.0,560.4 L415.9,564.9 L410.9,567.7 L404.8,567.4Z" fill="#4e4e4e" opacity="0.75"/>
<path d="M507.4,653.4 L511.9,650.2 L516.7,650.9 L517.5,654.8 L515.9,659.3 L509.3,659.1Z" fill="#4e4e4e" opacity="0.75"/>
<path d="M402.8,530.8 L403.6,530.3 L404.4,530.0 L405.1,530.4 L405.3,530.9 L405.8,531.6 L404.9,532.1 L403.9,532.0 L403.7,531.3Z" fill="#3e3e3e" opacity="0.75"/>
<path d="M431.7,648.9 L430.3,649.2 L429.5,648.3 L430.2,647.5 L431.2,647.2 L432.3,647.5 L432.4,648.3Z" fill="#4e4e4e" opacity="0.75"/>
<path d="M445.1,651.4 L446.2,649.9 L448.0,649.0 L449.3,650.2 L451.2,650.9 L449.9,652.2 L448.4,652.6 L447.2,652.2Z" fill="#4e4e4e" opacity="0.75"/>
<path d="M513.1,677.1 L516.6,678.7 L517.2,681.4 L514.8,683.6 L510.8,683.1 L508.7,681.7 L507.7,680.0 L508.8,677.6Z" fill="#4e4e4e" opacity="0.75"/>
<path d="M414.0,642.1 L414.8,641.7 L415.3,642.4 L415.8,643.3 L414.8,643.5 L413.8,643.9 L413.2,642.9Z" fill="#5e5e5e" opacity="0.85"/>
<path d="M377.1,631.8 L377.9,631.9 L378.5,632.2 L378.2,632.6 L378.1,632.9 L377.6,633.1 L376.8,633.1 L376.3,632.7 L376.7,632.2Z" fill="#5e5e5e" opacity="0.85"/>
<path d="M317.4,578.2 L315.4,577.3 L316.0,575.6 L317.9,575.3 L319.1,575.3 L320.1,575.9 L320.9,577.3 L319.4,578.4Z" fill="#5e5e5e" opacity="0.85"/>
<path d="M499.9,645.2 L499.3,645.6 L498.8,646.0 L498.1,645.8 L498.0,645.3 L497.3,644.7 L498.1,644.2 L498.9,644.5 L499.6,644.6Z" fill="#4e4e4e" opacity="0.75"/>
<path d="M385.4,568.8 L384.4,570.4 L383.4,571.3 L381.6,571.5 L380.9,570.1 L380.7,568.6 L382.1,567.6 L384.0,567.5Z" fill="#5e5e5e" opacity="0.85"/>
<path d="M473.0,583.7 L470.9,584.0 L470.2,582.8 L470.5,581.8 L472.5,581.3 L473.6,582.5Z" fill="#4e4e4e" opacity="0.75"/>
<path d="M331.0,542.3 L330.7,541.2 L332.0,540.6 L332.6,541.6 L332.6,542.4 L331.8,542.7Z" fill="#5e5e5e" opacity="0.85"/>
<path d="M483.9,585.4 L489.8,585.8 L488.7,590.7 L485.7,595.5 L480.2,592.2 L480.4,587.9Z" fill="#4e4e4e" opacity="0.75"/>
<path d="M357.5,558.0 L356.3,557.8 L354.7,557.6 L355.2,556.4 L355.6,555.4 L357.1,555.4 L358.1,555.8 L359.3,556.6 L358.7,557.6Z" fill="#5e5e5e" opacity="0.85"/>
<path d="M542.3,683.7 L545.0,682.0 L547.8,683.4 L549.8,684.6 L548.4,686.3 L545.5,686.7 L543.8,685.4Z" fill="#4e4e4e" opacity="0.75"/>
<path d="M454.2,602.0 L453.4,601.8 L453.0,601.4 L452.4,600.7 L453.3,600.5 L453.9,600.1 L454.4,600.6 L454.7,601.3Z" fill="#4e4e4e" opacity="0.75"/>
<path d="M397.7,531.5 L398.3,528.6 L402.2,527.6 L403.3,530.2 L403.8,532.6 L400.3,533.5Z" fill="#3e3e3e" opacity="0.75"/>
<path d="M540.4,615.2 L537.7,616.1 L536.9,613.9 L537.6,611.8 L540.6,611.8 L541.6,613.7Z" fill="#4e4e4e" opacity="0.75"/>
<path d="M370.8,671.5 L371.8,671.8 L371.7,672.6 L371.2,673.1 L370.0,673.1 L369.8,672.0Z" fill="#5e5e5e" opacity="0.85"/>
<path d="M453.2,574.2 L453.8,574.9 L453.9,575.8 L453.4,576.9 L452.1,576.7 L451.3,576.2 L451.0,575.3 L451.0,574.1 L452.3,574.1Z" fill="#4e4e4e" opacity="0.75"/>
<path d="M319.2,631.9 L321.4,629.3 L324.4,631.3 L326.3,632.8 L327.8,635.4 L325.9,638.1 L322.5,638.6 L320.4,636.5 L316.9,634.7Z" fill="#5e5e5e" opacity="0.85"/>
<path d="M444.7,543.5 L444.4,544.8 L443.7,545.9 L442.5,545.6 L441.4,545.3 L441.0,544.3 L441.7,543.5 L442.3,542.6 L443.4,543.0Z" fill="#4e4e4e" opacity="0.75"/>
<path d="M342.6,515.2 L340.0,514.6 L338.4,514.2 L338.1,512.7 L339.4,511.6 L341.1,512.1 L343.4,512.9Z" fill="#3e3e3e" opacity="0.75"/>
<path d="M398.7,608.5 L399.0,608.0 L399.8,607.5 L400.7,608.1 L400.4,608.9 L399.4,608.9Z" fill="#5e5e5e" opacity="0.85"/>
<path d="M527.7,627.5 L527.9,628.0 L528.3,628.6 L527.5,629.1 L526.8,628.6 L526.1,628.3 L526.5,627.8 L526.9,627.2Z" fill="#4e4e4e" opacity="0.75"/>
<path d="M325.2,519.0 L326.0,521.4 L322.5,522.0 L319.0,522.8 L317.2,520.4 L318.6,518.3 L321.0,517.6 L324.2,516.6Z" fill="#5e5e5e" opacity="0.85"/>
<path d="M338.4,627.9 L338.6,626.9 L340.0,626.8 L340.6,627.5 L341.0,628.3 L340.1,629.2 L338.5,628.9Z" fill="#5e5e5e" opacity="0.85"/>
<path d="M353.5,542.0 L354.3,541.5 L355.3,540.9 L355.5,541.7 L355.7,542.3 L354.5,542.5Z" fill="#5e5e5e" opacity="0.85"/>
<path d="M416.6,606.0 L415.9,605.6 L415.1,605.0 L415.8,604.2 L416.9,604.7 L417.6,605.0 L417.6,605.8Z" fill="#4e4e4e" opacity="0.75"/>
<path d="M409.7,673.1 L407.3,673.8 L405.3,673.7 L405.1,672.0 L405.3,670.5 L407.3,669.2 L409.1,670.7Z" fill="#5e5e5e" opacity="0.85"/>
<path d="M561.0,639.2 L558.7,639.8 L557.1,638.7 L555.8,637.1 L557.5,635.5 L559.8,636.2 L561.4,637.3Z" fill="#4e4e4e" opacity="0.75"/>
<path d="M524.3,610.9 L525.4,610.0 L526.4,611.0 L526.6,611.8 L526.0,612.3 L525.0,612.8 L524.3,612.0Z" fill="#4e4e4e" opacity="0.75"/>
<path d="M424.9,550.8 L420.3,551.7 L416.3,549.8 L417.5,546.5 L421.8,546.7 L425.2,547.7Z" fill="#4e4e4e" opacity="0.75"/>
<path d="M486.1,648.1 L488.8,649.6 L489.3,651.9 L487.8,653.6 L485.3,654.8 L482.3,653.9 L481.5,651.3 L483.2,649.3Z" fill="#4e4e4e" opacity="0.75"/>
<path d="M392.0,588.9 L388.5,588.7 L385.0,587.3 L386.6,583.9 L390.6,582.0 L391.5,585.9Z" fill="#5e5e5e" opacity="0.85"/>
<path d="M411.8,597.5 L412.2,596.6 L412.9,596.1 L413.9,596.1 L414.2,597.0 L413.8,597.7 L413.2,597.9 L412.4,598.3Z" fill="#4e4e4e" opacity="0.75"/>
<path d="M414.5,517.1 L414.4,516.1 L414.2,515.3 L414.9,514.5 L415.7,515.2 L416.4,515.6 L416.5,516.7 L415.7,517.5Z" fill="#3e3e3e" opacity="0.75"/>
<path d="M460.9,663.4 L460.5,664.3 L460.2,665.2 L458.8,665.2 L457.0,665.3 L456.3,664.1 L457.2,663.1 L458.5,662.6 L460.1,662.5Z" fill="#4e4e4e" opacity="0.75"/>
<path d="M433.7,616.5 L433.0,616.9 L432.6,616.3 L432.5,615.8 L433.1,615.5 L433.6,615.2 L434.2,615.4 L434.6,615.8 L434.8,616.6Z" fill="#4e4e4e" opacity="0.75"/>
<path d="M405.3,532.1 L400.4,531.2 L394.9,531.9 L393.7,528.0 L397.2,525.6 L401.3,523.5 L404.6,526.1 L405.3,528.6Z" fill="#3e3e3e" opacity="0.75"/>
<path d="M530.6,623.9 L531.4,623.2 L532.4,623.0 L533.4,623.3 L533.6,624.2 L532.7,625.0 L531.3,624.7Z" fill="#4e4e4e" opacity="0.75"/>
<path d="M449.3,559.1 L448.1,559.8 L446.8,559.1 L446.2,558.2 L445.9,557.0 L447.7,556.9 L449.0,556.9 L450.0,557.5 L449.9,558.3Z" fill="#4e4e4e" opacity="0.75"/>
<path d="M320.3,502.0 L322.9,504.0 L322.0,507.8 L318.4,506.9 L315.7,505.1 L317.1,501.7Z" fill="#5e5e5e" opacity="0.85"/>
<path d="M552.6,661.2 L551.8,661.3 L551.0,661.4 L550.5,660.8 L550.5,660.1 L551.4,659.8 L552.1,660.0 L552.8,660.4Z" fill="#4e4e4e" opacity="0.75"/>
<path d="M425.2,530.3 L427.5,527.6 L430.9,528.0 L432.4,530.0 L433.4,533.0 L430.0,533.5 L426.5,533.7Z" fill="#3e3e3e" opacity="0.75"/>
<path d="M538.6,668.8 L539.1,668.1 L539.8,667.8 L540.5,668.1 L541.3,668.4 L541.8,669.3 L540.9,669.9 L539.9,669.8 L538.8,669.7Z" fill="#4e4e4e" opacity="0.75"/>
<path d="M358.7,587.2 L357.4,588.4 L355.8,588.6 L353.6,588.4 L352.9,586.2 L355.1,585.3 L356.7,585.0 L358.8,585.3Z" fill="#5e5e5e" opacity="0.85"/>
<path d="M422.4,677.6 L424.0,677.6 L424.4,678.6 L424.7,679.7 L423.1,679.9 L422.0,679.4 L421.7,678.5Z" fill="#5e5e5e" opacity="0.85"/>
<path d="M441.7,676.7 L436.1,674.2 L435.4,669.1 L440.8,666.4 L447.4,668.1 L448.5,674.2Z" fill="#5e5e5e" opacity="0.85"/>
<path d="M395.3,561.1 L397.2,563.0 L397.5,565.1 L395.4,566.5 L392.2,567.0 L388.4,565.8 L387.8,562.7 L391.9,561.4Z" fill="#4e4e4e" opacity="0.75"/>
<path d="M414.6,570.0 L412.8,569.4 L411.0,568.5 L412.1,567.1 L413.4,566.4 L415.0,566.3 L416.4,566.9 L418.3,568.1 L416.1,569.1Z" fill="#4e4e4e" opacity="0.75"/>
<path d="M422.0,641.6 L423.9,641.3 L425.5,641.9 L426.3,643.5 L424.6,644.8 L422.7,644.1 L421.1,643.1Z" fill="#5e5e5e" opacity="0.85"/>
<path d="M403.1,625.3 L403.5,626.2 L403.4,627.3 L402.2,627.5 L401.1,627.0 L401.0,625.9 L402.1,625.6Z" fill="#5e5e5e" opacity="0.85"/>
<path d="M406.2,623.6 L405.9,624.7 L404.6,625.2 L403.8,624.3 L403.7,623.6 L404.3,623.0 L405.5,622.8Z" fill="#5e5e5e" opacity="0.85"/>
<path d="M407.0,625.2 L407.8,625.2 L408.5,625.7 L408.2,626.4 L407.0,626.2 L406.3,625.9 L406.6,625.5Z" fill="#5e5e5e" opacity="0.85"/>
<path d="M444.9,590.1 L445.5,588.8 L446.0,587.5 L447.5,587.9 L448.1,588.9 L448.6,590.1 L447.6,591.2 L446.2,590.6Z" fill="#4e4e4e" opacity="0.75"/>
<path d="M378.2,659.4 L380.5,658.4 L382.0,659.3 L383.4,661.2 L381.1,662.0 L379.1,661.7Z" fill="#5e5e5e" opacity="0.85"/>
<path d="M377.2,574.1 L377.9,573.4 L379.0,573.3 L380.6,573.8 L379.4,574.9 L378.1,574.8Z" fill="#5e5e5e" opacity="0.85"/>
<path d="M359.4,589.3 L359.0,592.6 L354.3,594.3 L349.7,591.8 L350.9,588.0 L353.5,584.5 L359.8,584.7Z" fill="#5e5e5e" opacity="0.85"/>
<path d="M375.0,534.8 L374.3,535.9 L372.9,535.8 L372.2,535.3 L372.1,534.5 L372.8,534.1 L373.7,534.2Z" fill="#3e3e3e" opacity="0.75"/>
<path d="M402.3,639.5 L400.9,639.9 L400.3,640.5 L399.1,640.5 L398.3,639.8 L398.5,638.9 L399.5,638.5 L400.6,638.1 L401.8,638.6Z" fill="#5e5e5e" opacity="0.85"/>
<path d="M503.3,682.8 L502.7,682.3 L503.5,682.0 L503.9,681.4 L504.5,681.8 L504.9,682.2 L504.8,682.7 L504.5,683.3 L503.7,683.5Z" fill="#4e4e4e" opacity="0.75"/>
<path d="M403.3,618.7 L402.1,619.2 L401.1,619.1 L400.4,618.4 L400.6,617.6 L401.2,617.0 L402.2,616.9 L402.9,617.6Z" fill="#5e5e5e" opacity="0.85"/>
<path d="M395.6,529.3 L395.7,528.3 L396.9,527.8 L398.5,527.9 L399.7,528.8 L398.1,529.5 L396.7,530.2Z" fill="#3e3e3e" opacity="0.75"/>
<path d="M389.8,639.9 L389.6,639.2 L390.0,638.4 L390.8,638.8 L391.3,639.1 L391.6,639.9 L391.1,640.8 L390.2,640.4Z" fill="#5e5e5e" opacity="0.85"/>
<path d="M354.6,559.3 L358.4,563.5 L362.2,566.6 L358.5,570.0 L353.8,570.8 L349.0,568.2 L350.7,563.5Z" fill="#5e5e5e" opacity="0.85"/>
<path d="M554.0,671.5 L554.2,670.8 L554.7,670.5 L555.3,670.2 L555.7,670.7 L556.6,671.0 L556.1,671.6 L555.4,671.9 L554.8,671.7Z" fill="#4e4e4e" opacity="0.75"/>
<path d="M319.9,511.2 L319.6,510.4 L319.2,509.8 L319.8,509.1 L320.9,509.3 L322.4,509.1 L322.7,510.1 L322.4,511.0 L321.0,510.9Z" fill="#5e5e5e" opacity="0.85"/>
<path d="M358.6,667.4 L362.3,670.0 L358.7,672.7 L356.2,676.0 L352.4,673.6 L353.0,670.0 L354.4,666.4Z" fill="#5e5e5e" opacity="0.85"/>
<path d="M420.3,599.5 L421.9,596.7 L425.1,594.6 L429.5,596.3 L430.2,601.5 L425.3,602.4 L421.5,603.2Z" fill="#4e4e4e" opacity="0.75"/>
<path d="M324.7,657.6 L327.3,660.3 L325.9,662.8 L321.7,664.3 L315.9,662.1 L318.1,657.4Z" fill="#5e5e5e" opacity="0.85"/>
<path d="M340.9,532.7 L340.3,533.7 L340.3,534.5 L339.1,535.1 L337.6,534.8 L337.4,533.9 L336.9,533.1 L338.0,532.6 L339.1,532.9Z" fill="#5e5e5e" opacity="0.85"/>
<path d="M393.9,556.9 L396.0,555.8 L397.3,557.4 L398.6,558.8 L396.4,559.6 L394.7,560.1 L393.0,559.3 L392.5,557.9Z" fill="#4e4e4e" opacity="0.75"/>
<path d="M311.7,512.1 L311.9,512.7 L311.8,513.4 L311.1,513.8 L310.1,513.7 L310.0,512.8 L310.4,512.2 L311.0,511.9Z" fill="#5e5e5e" opacity="0.85"/>
<path d="M330.9,594.2 L332.5,593.9 L334.0,593.3 L335.1,594.2 L335.1,595.3 L334.9,596.5 L333.2,596.4 L331.7,596.4 L331.0,595.4Z" fill="#5e5e5e" opacity="0.85"/>
<path d="M421.4,511.1 L422.3,510.0 L423.6,510.9 L425.0,511.4 L424.0,512.4 L423.4,513.4 L421.8,513.5 L420.4,512.4Z" fill="#3e3e3e" opacity="0.75"/>
<path d="M406.3,551.2 L407.4,551.0 L408.3,551.1 L408.5,551.7 L407.9,552.2 L406.7,552.0Z" fill="#4e4e4e" opacity="0.75"/>
<path d="M394.4,663.9 L398.5,663.6 L402.1,666.1 L399.1,669.4 L393.1,669.7 L392.5,666.1Z" fill="#5e5e5e" opacity="0.85"/>
<path d="M367.8,500.1 L371.0,502.0 L368.3,504.7 L367.7,507.0 L364.9,507.3 L361.8,506.7 L362.0,504.0 L360.8,500.7 L364.7,501.0Z" fill="#3e3e3e" opacity="0.75"/>
<path d="M405.2,526.5 L404.1,528.5 L401.7,528.6 L400.8,526.4 L401.7,524.2 L403.9,524.9Z" fill="#3e3e3e" opacity="0.75"/>
<path d="M350.0,569.5 L348.2,570.5 L346.5,569.2 L347.6,568.0 L349.0,566.8 L350.3,568.1Z" fill="#5e5e5e" opacity="0.85"/>
<path d="M325.4,546.5 L323.4,545.4 L324.0,543.4 L324.9,541.8 L327.1,541.1 L329.3,542.4 L329.4,544.8 L328.3,547.4Z" fill="#5e5e5e" opacity="0.85"/>
<path d="M334.3,657.9 L334.1,656.9 L335.1,656.4 L335.9,656.7 L336.3,657.2 L336.5,658.1 L335.4,658.4Z" fill="#5e5e5e" opacity="0.85"/>
<path d="M333.4,557.8 L331.4,554.1 L335.9,551.0 L341.2,553.1 L344.1,557.5 L337.8,558.9Z" fill="#5e5e5e" opacity="0.85"/>
<path d="M338.9,684.5 L339.8,680.4 L343.3,678.0 L348.1,679.3 L349.0,683.0 L344.7,685.1Z" fill="#5e5e5e" opacity="0.85"/>
<path d="M418.8,583.9 L417.8,584.2 L417.2,583.4 L417.8,582.7 L418.7,583.0 L419.2,583.4Z" fill="#4e4e4e" opacity="0.75"/>
<path d="M445.3,635.7 L443.6,636.9 L441.8,637.0 L441.2,635.6 L442.1,634.5 L443.9,634.2Z" fill="#4e4e4e" opacity="0.75"/>
<path d="M438.1,593.1 L440.4,596.0 L437.4,598.9 L432.6,597.9 L431.7,595.1 L434.3,593.7Z" fill="#4e4e4e" opacity="0.75"/>
<path d="M409.1,543.1 L408.2,541.8 L409.2,541.0 L410.4,540.3 L410.7,541.6 L410.6,542.8Z" fill="#4e4e4e" opacity="0.75"/>
<path d="M447.3,670.0 L449.9,668.7 L453.1,670.5 L451.6,673.4 L448.6,674.0 L445.8,672.5Z" fill="#4e4e4e" opacity="0.75"/>
<path d="M540.0,652.3 L540.2,651.3 L541.2,650.9 L541.8,651.7 L541.8,652.5 L540.8,653.2Z" fill="#4e4e4e" opacity="0.75"/>
<path d="M325.6,517.5 L330.7,518.5 L330.4,522.0 L328.9,525.8 L324.9,523.3 L323.1,520.7Z" fill="#5e5e5e" opacity="0.85"/>
<path d="M343.5,675.4 L343.7,674.9 L344.3,674.5 L345.4,674.5 L345.7,675.2 L345.6,675.7 L344.7,675.9 L343.8,676.0Z" fill="#5e5e5e" opacity="0.85"/>
<path d="M336.0,637.9 L335.2,638.0 L334.5,637.6 L334.7,636.9 L335.4,636.6 L336.3,636.5 L337.1,637.0 L336.6,637.7Z" fill="#5e5e5e" opacity="0.85"/>
<path d="M462.8,591.7 L458.4,593.0 L454.3,592.6 L453.4,589.6 L450.7,585.5 L455.7,583.2 L459.9,585.6 L462.0,588.1Z" fill="#4e4e4e" opacity="0.75"/>
<path d="M364.1,667.9 L363.9,668.6 L363.1,668.8 L362.2,668.6 L362.5,667.8 L362.9,667.2 L363.8,667.0Z" fill="#5e5e5e" opacity="0.85"/>
<path d="M316.0,631.4 L314.7,630.0 L314.6,628.4 L316.9,628.1 L318.5,627.0 L319.6,628.3 L320.1,629.2 L320.1,630.4 L318.4,631.2Z" fill="#5e5e5e" opacity="0.85"/>
<path d="M338.2,638.8 L341.0,639.2 L342.0,640.8 L343.1,642.6 L341.0,643.9 L338.7,643.2 L337.5,642.2 L337.9,641.0Z" fill="#5e5e5e" opacity="0.85"/>
<path d="M444.5,546.6 L445.1,546.3 L446.1,545.7 L447.3,546.3 L446.5,547.2 L446.0,547.8 L444.8,548.1 L444.0,547.3Z" fill="#4e4e4e" opacity="0.75"/>
<path d="M336.6,515.5 L339.9,512.4 L343.8,513.7 L345.2,515.9 L346.9,519.7 L342.3,520.0 L338.1,519.5Z" fill="#3e3e3e" opacity="0.75"/>
<path d="M370.1,583.2 L369.7,584.4 L368.5,584.9 L366.6,585.2 L367.0,583.7 L367.0,582.2 L368.9,582.2Z" fill="#5e5e5e" opacity="0.85"/>
<path d="M327.5,667.5 L326.7,667.3 L325.9,666.6 L326.8,666.0 L327.7,666.4 L328.2,666.9Z" fill="#5e5e5e" opacity="0.85"/>
<path d="M341.5,668.3 L339.9,663.3 L346.1,661.3 L352.5,664.2 L351.4,670.9 L344.8,670.5Z" fill="#5e5e5e" opacity="0.85"/>
<path d="M340.9,534.4 L344.0,533.1 L346.8,533.7 L347.4,536.8 L345.1,539.8 L340.7,538.7Z" fill="#5e5e5e" opacity="0.85"/>
<path d="M561.9,674.4 L562.5,676.7 L560.4,678.9 L556.2,679.3 L552.6,678.2 L549.7,676.0 L553.8,674.4 L555.6,672.4 L560.2,671.7Z" fill="#4e4e4e" opacity="0.75"/>
<path d="M313.8,522.0 L312.4,518.9 L317.0,516.5 L322.2,518.6 L322.0,522.5 L317.1,523.0Z" fill="#5e5e5e" opacity="0.85"/>
<path d="M403.9,676.5 L404.4,677.0 L404.1,677.5 L404.1,678.3 L403.1,678.1 L402.3,677.9 L402.0,677.3 L402.4,676.7 L403.0,676.2Z" fill="#5e5e5e" opacity="0.85"/>
<path d="M426.0,546.6 L422.3,545.7 L417.9,543.8 L421.8,541.4 L425.3,539.4 L429.3,541.4 L429.7,544.7Z" fill="#4e4e4e" opacity="0.75"/>
<path d="M455.0,606.7 L454.2,606.7 L453.8,606.2 L454.0,605.6 L454.8,605.4 L455.3,605.7 L456.0,606.0 L455.5,606.4Z" fill="#4e4e4e" opacity="0.75"/>
<path d="M362.3,574.4 L366.4,572.1 L371.6,574.1 L369.8,577.6 L367.6,580.4 L363.0,579.6 L357.1,579.2 L359.7,575.8Z" fill="#5e5e5e" opacity="0.85"/>
<path d="M555.6,669.2 L555.8,668.6 L556.3,668.2 L557.4,668.2 L557.7,668.9 L556.8,669.5Z" fill="#4e4e4e" opacity="0.75"/>
<path d="M396.6,672.0 L397.0,672.5 L396.3,673.1 L395.3,673.0 L394.5,672.5 L394.9,671.9 L395.5,671.5 L396.2,671.7Z" fill="#5e5e5e" opacity="0.85"/>
<path d="M378.2,673.1 L378.9,673.1 L379.4,673.8 L378.8,674.3 L378.1,674.5 L377.2,674.1 L377.5,673.3Z" fill="#5e5e5e" opacity="0.85"/>
<path d="M333.5,620.7 L333.0,621.3 L332.6,622.1 L331.8,621.7 L331.7,621.0 L331.6,620.4 L332.2,619.7 L333.0,620.1Z" fill="#5e5e5e" opacity="0.85"/>
<path d="M399.2,687.5 L397.0,685.7 L395.2,684.1 L397.2,682.5 L399.0,683.3 L399.8,684.8Z" fill="#5e5e5e" opacity="0.85"/>
<path d="M354.6,636.4 L353.4,637.2 L352.4,636.7 L352.1,636.1 L352.5,635.4 L353.5,635.7Z" fill="#5e5e5e" opacity="0.85"/>
<path d="M342.8,606.6 L343.1,604.6 L345.7,605.2 L348.4,604.9 L349.4,606.9 L348.8,608.9 L346.1,608.9 L344.2,609.4 L341.7,608.6Z" fill="#5e5e5e" opacity="0.85"/>
<path d="M378.1,530.5 L381.2,529.2 L384.6,528.9 L386.5,531.3 L384.0,533.0 L381.9,534.5 L380.0,532.7Z" fill="#3e3e3e" opacity="0.75"/>
<path d="M496.5,645.9 L500.3,645.3 L501.8,648.0 L499.5,649.6 L496.9,650.0 L494.6,648.2Z" fill="#4e4e4e" opacity="0.75"/>
<path d="M325.3,526.6 L325.2,527.1 L324.6,527.1 L324.2,526.8 L323.9,526.5 L323.9,526.0 L324.5,526.0 L325.1,525.9 L325.3,526.3Z" fill="#5e5e5e" opacity="0.85"/>
<path d="M327.9,658.3 L328.3,658.8 L328.2,659.4 L327.7,660.1 L326.7,659.9 L325.9,659.2 L326.2,658.3 L327.1,658.0Z" fill="#5e5e5e" opacity="0.85"/>
<path d="M515.4,634.4 L511.3,634.0 L507.0,634.2 L505.8,630.3 L509.7,628.0 L513.7,628.6 L516.5,631.0Z" fill="#4e4e4e" opacity="0.75"/>
<path d="M553.6,664.9 L547.6,665.2 L544.1,662.9 L541.1,658.5 L544.7,653.7 L551.3,652.9 L554.0,658.8Z" fill="#4e4e4e" opacity="0.75"/>
<path d="M341.0,633.3 L341.6,633.8 L342.1,634.4 L341.7,635.0 L341.0,635.3 L340.4,635.2 L340.0,634.8 L340.2,634.3 L340.4,633.9Z" fill="#5e5e5e" opacity="0.85"/>
<path d="M473.9,645.3 L471.4,644.7 L471.0,642.7 L472.1,640.7 L475.2,641.2 L478.3,641.0 L479.8,643.1 L477.6,644.6 L476.4,646.7Z" fill="#4e4e4e" opacity="0.75"/>
<path d="M470.8,680.6 L466.6,680.0 L464.4,679.7 L461.5,678.4 L464.1,676.8 L465.8,674.6 L469.1,675.8 L469.9,677.8Z" fill="#4e4e4e" opacity="0.75"/>
<path d="M418.6,575.6 L417.7,574.5 L418.0,573.3 L418.2,571.8 L419.8,571.8 L421.2,572.7 L420.4,574.0 L420.0,575.0Z" fill="#4e4e4e" opacity="0.75"/>
<path d="M428.1,576.1 L429.4,575.3 L431.2,575.3 L434.1,576.1 L432.9,578.3 L430.5,578.8 L427.7,579.8 L426.1,577.7Z" fill="#4e4e4e" opacity="0.75"/>
<path d="M457.1,671.9 L458.2,672.4 L458.9,673.2 L458.0,674.4 L456.2,674.0 L456.6,672.8Z" fill="#4e4e4e" opacity="0.75"/>
<path d="M329.5,547.2 L331.4,549.3 L329.6,551.4 L328.4,554.1 L325.9,552.6 L322.9,552.0 L323.7,549.1 L325.5,547.8 L327.2,546.0Z" fill="#5e5e5e" opacity="0.85"/>
<path d="M373.0,606.2 L371.8,606.5 L370.6,607.4 L369.2,606.6 L369.4,605.3 L369.8,604.4 L371.2,604.2 L372.9,603.9 L372.7,605.3Z" fill="#5e5e5e" opacity="0.85"/>
<path d="M386.0,537.2 L388.2,538.4 L389.6,540.1 L390.0,542.6 L387.8,544.3 L384.7,546.0 L383.0,542.9 L381.5,540.4 L383.5,538.2Z" fill="#4e4e4e" opacity="0.75"/>
<path d="M311.0,662.3 L312.7,659.7 L315.6,659.2 L318.9,660.5 L318.0,663.8 L314.0,664.4Z" fill="#5e5e5e" opacity="0.85"/>
<path d="M411.5,627.7 L407.7,627.8 L407.1,624.6 L408.5,622.6 L410.5,621.3 L413.6,621.3 L413.7,623.9 L414.3,626.3Z" fill="#5e5e5e" opacity="0.85"/>
<path d="M492.9,605.1 L492.0,604.6 L491.5,603.4 L493.0,603.1 L494.3,602.3 L495.5,603.2 L495.5,604.3 L495.1,605.2 L493.8,605.2Z" fill="#4e4e4e" opacity="0.75"/>
<path d="M363.7,620.0 L364.5,620.0 L364.7,620.6 L364.5,621.2 L363.7,621.8 L363.2,621.1 L362.5,620.7 L363.1,620.2Z" fill="#5e5e5e" opacity="0.85"/>
<path d="M492.5,675.7 L492.6,674.8 L493.9,674.3 L494.9,675.1 L494.8,676.0 L494.6,677.0 L493.3,676.9 L492.7,676.3Z" fill="#4e4e4e" opacity="0.75"/>
<path d="M460.8,584.2 L461.6,582.4 L463.3,583.5 L464.7,583.9 L465.9,585.4 L465.0,587.2 L463.2,588.3 L461.5,587.1 L460.8,585.7Z" fill="#4e4e4e" opacity="0.75"/>
<path d="M399.1,599.9 L399.0,599.3 L399.3,598.7 L400.2,598.6 L400.6,599.1 L400.7,599.5 L400.8,600.2 L399.9,600.2Z" fill="#5e5e5e" opacity="0.85"/>
<path d="M315.4,534.7 L316.6,534.8 L316.5,535.5 L316.2,536.0 L315.1,535.9 L315.0,535.3Z" fill="#5e5e5e" opacity="0.85"/>
<path d="M428.0,557.0 L429.2,556.3 L430.9,556.2 L431.0,557.9 L431.6,559.9 L429.6,559.9 L428.1,559.6 L427.3,558.2Z" fill="#4e4e4e" opacity="0.75"/>
<path d="M516.1,669.8 L516.1,667.0 L519.4,666.8 L522.9,667.2 L522.6,670.1 L520.1,671.2 L517.5,671.9Z" fill="#4e4e4e" opacity="0.75"/>
<path d="M481.8,658.5 L478.5,660.6 L475.0,658.4 L474.7,655.5 L479.1,655.6 L481.4,656.5Z" fill="#4e4e4e" opacity="0.75"/>
<path d="M315.6,629.2 L314.7,629.4 L313.9,629.8 L313.5,629.2 L313.6,628.8 L313.8,628.4 L314.5,628.5 L315.7,628.4Z" fill="#5e5e5e" opacity="0.85"/>
<path d="M384.1,502.3 L384.5,501.2 L385.8,501.6 L386.7,502.2 L386.6,503.0 L386.5,504.1 L385.0,504.3 L383.8,503.8 L383.1,502.9Z" fill="#3e3e3e" opacity="0.75"/>
<path d="M483.6,593.6 L482.8,592.8 L482.5,591.6 L484.0,590.9 L485.7,590.9 L486.3,592.0 L486.5,592.8 L486.0,593.6 L484.9,594.2Z" fill="#4e4e4e" opacity="0.75"/>
<path d="M320.9,582.4 L321.9,584.3 L321.2,586.3 L319.1,586.7 L317.4,586.0 L316.3,584.5 L316.5,582.3 L318.8,581.1Z" fill="#5e5e5e" opacity="0.85"/>
<path d="M541.0,654.4 L541.5,653.9 L542.2,654.1 L542.7,654.4 L542.6,655.0 L541.9,655.5 L541.1,655.0Z" fill="#4e4e4e" opacity="0.75"/>
<path d="M332.2,662.1 L334.0,657.2 L338.5,655.8 L340.4,659.3 L341.5,663.6 L337.0,663.2Z" fill="#5e5e5e" opacity="0.85"/>
<path d="M439.5,672.9 L437.5,674.5 L436.1,676.9 L432.9,676.4 L432.2,673.4 L433.8,671.4 L435.7,670.3 L437.5,671.3Z" fill="#5e5e5e" opacity="0.85"/>
<path d="M358.3,647.7 L357.1,647.9 L356.3,647.9 L356.0,647.4 L356.1,646.9 L357.0,646.6 L358.3,646.8Z" fill="#5e5e5e" opacity="0.85"/>
<path d="M389.4,549.7 L385.5,548.8 L385.9,545.6 L390.6,545.4 L395.2,545.5 L395.7,548.7 L392.5,550.5Z" fill="#4e4e4e" opacity="0.75"/>
<path d="M358.7,516.4 L358.8,515.2 L359.0,514.1 L360.4,513.9 L361.3,514.9 L361.3,516.3 L359.9,516.5Z" fill="#3e3e3e" opacity="0.75"/>
<path d="M308.9,575.7 L309.5,573.6 L312.6,574.7 L313.3,576.2 L311.5,577.2 L308.7,577.4Z" fill="#5e5e5e" opacity="0.85"/>
<path d="M433.4,593.1 L432.4,590.6 L435.5,588.0 L438.2,590.8 L439.9,592.8 L437.8,594.7 L434.7,595.4Z" fill="#4e4e4e" opacity="0.75"/>
<path d="M403.5,531.0 L402.5,530.1 L403.5,528.9 L405.3,529.5 L406.4,530.3 L405.0,531.0Z" fill="#3e3e3e" opacity="0.75"/>
<path d="M396.5,685.8 L392.5,684.6 L393.1,682.1 L395.3,679.9 L398.4,681.6 L401.0,684.3Z" fill="#5e5e5e" opacity="0.85"/>
<path d="M404.0,638.3 L404.6,637.8 L405.4,637.7 L405.7,638.1 L405.9,638.8 L404.7,638.8Z" fill="#5e5e5e" opacity="0.85"/>
<path d="M412.5,605.8 L406.2,606.7 L404.8,601.5 L403.3,597.2 L408.1,596.0 L412.0,597.1 L413.1,600.7Z" fill="#4e4e4e" opacity="0.75"/>
<path d="M495.7,616.1 L498.2,617.4 L499.4,619.2 L497.2,620.4 L495.0,621.2 L492.0,620.7 L491.2,618.7 L493.2,617.2Z" fill="#4e4e4e" opacity="0.75"/>
<path d="M539.3,684.1 L539.3,686.5 L535.9,687.0 L532.1,688.1 L531.9,685.3 L530.6,683.1 L534.1,682.3 L537.2,682.5Z" fill="#4e4e4e" opacity="0.75"/>
<path d="M425.2,663.4 L420.3,663.2 L418.1,660.1 L417.6,656.9 L420.1,653.7 L425.4,653.3 L426.7,657.2 L429.0,660.7Z" fill="#5e5e5e" opacity="0.85"/>
<path d="M470.0,619.3 L468.6,620.6 L466.2,620.1 L465.7,617.6 L468.0,616.0 L470.1,617.5Z" fill="#4e4e4e" opacity="0.75"/>
<path d="M387.7,573.1 L388.6,572.3 L389.8,571.7 L390.5,572.8 L391.4,573.4 L391.2,574.4 L390.1,574.8 L388.9,575.1 L388.2,574.2Z" fill="#4e4e4e" opacity="0.75"/>
<path d="M357.6,625.5 L356.5,624.1 L358.0,623.2 L359.5,623.5 L360.2,624.9 L359.1,626.6Z" fill="#5e5e5e" opacity="0.85"/>
<path d="M474.2,587.6 L474.3,588.1 L474.4,588.7 L473.4,588.9 L472.4,588.5 L472.8,587.8 L473.3,587.3Z" fill="#4e4e4e" opacity="0.75"/>
<path d="M406.2,575.9 L406.1,578.9 L405.7,581.6 L402.4,581.9 L400.4,580.0 L401.5,578.0 L402.7,576.1Z" fill="#4e4e4e" opacity="0.75"/>
<path d="M378.4,611.9 L377.0,613.0 L374.7,613.4 L373.1,612.1 L373.9,610.8 L374.9,609.8 L376.8,609.8 L378.7,610.5Z" fill="#5e5e5e" opacity="0.85"/>
<path d="M408.5,668.9 L409.7,668.8 L411.4,668.9 L411.6,670.5 L411.4,672.4 L409.5,673.3 L407.9,672.0 L406.8,670.9 L407.7,669.6Z" fill="#5e5e5e" opacity="0.85"/>
<path d="M365.7,529.3 L365.3,527.5 L364.3,524.6 L367.3,524.2 L369.1,525.7 L369.9,527.3 L370.7,530.2 L367.7,531.2Z" fill="#3e3e3e" opacity="0.75"/>
<path d="M325.8,625.9 L325.1,625.7 L324.1,625.7 L324.2,624.8 L324.8,624.3 L325.3,623.6 L326.4,623.5 L326.4,624.6 L326.4,625.4Z" fill="#5e5e5e" opacity="0.85"/>
<path d="M536.8,642.1 L540.0,639.5 L543.0,637.5 L545.4,639.9 L548.7,642.4 L545.3,645.3 L540.4,644.5Z" fill="#4e4e4e" opacity="0.75"/>
<path d="M393.1,629.7 L395.7,633.5 L393.6,637.0 L388.6,636.8 L386.4,634.2 L387.2,630.9Z" fill="#5e5e5e" opacity="0.85"/>
<path d="M373.3,545.2 L373.6,543.8 L375.7,542.0 L378.4,543.4 L379.5,545.4 L377.1,546.7 L374.3,546.7Z" fill="#4e4e4e" opacity="0.75"/>
<path d="M356.3,681.6 L354.2,683.6 L351.0,682.5 L350.0,680.0 L351.7,677.8 L354.7,678.1 L356.0,679.7Z" fill="#5e5e5e" opacity="0.85"/>
<path d="M555.5,666.3 L559.9,664.9 L563.0,668.1 L560.7,671.4 L555.7,672.2 L553.9,668.9Z" fill="#4e4e4e" opacity="0.75"/>
<path d="M384.8,516.3 L387.8,513.6 L391.6,515.4 L393.9,517.7 L392.9,520.7 L390.2,523.1 L386.7,521.8 L386.1,519.2Z" fill="#3e3e3e" opacity="0.75"/>
<path d="M330.5,627.6 L331.3,631.2 L327.9,633.1 L324.0,634.5 L319.9,632.0 L320.8,627.6 L324.6,626.4 L328.0,624.8Z" fill="#5e5e5e" opacity="0.85"/>
<path d="M327.7,639.1 L328.5,637.6 L329.8,636.3 L331.8,637.1 L333.7,639.0 L331.2,640.3 L328.7,641.3Z" fill="#5e5e5e" opacity="0.85"/>
<path d="M339.9,649.4 L340.6,648.9 L341.5,648.9 L341.9,649.5 L341.4,650.0 L340.6,649.8Z" fill="#5e5e5e" opacity="0.85"/>
<path d="M423.7,506.0 L424.5,506.0 L425.2,506.3 L425.4,506.9 L424.8,507.3 L423.9,507.4 L423.1,507.0 L422.9,506.4Z" fill="#3e3e3e" opacity="0.75"/>
<path d="M333.1,526.7 L333.0,527.2 L332.5,527.5 L331.7,527.4 L331.4,526.6 L332.0,526.0 L332.8,526.3Z" fill="#5e5e5e" opacity="0.85"/>
<path d="M395.3,578.3 L394.5,579.3 L392.8,580.0 L391.6,578.6 L391.3,576.9 L392.6,575.7 L394.1,575.1 L395.2,576.2 L396.2,577.2Z" fill="#4e4e4e" opacity="0.75"/>
<path d="M373.5,624.5 L374.3,624.1 L375.4,624.2 L375.2,625.1 L374.9,625.8 L373.9,625.8 L373.4,625.2Z" fill="#5e5e5e" opacity="0.85"/>
<path d="M486.2,660.1 L488.3,659.1 L489.1,660.9 L488.9,661.9 L488.2,663.6 L485.5,663.2 L485.9,661.4Z" fill="#4e4e4e" opacity="0.75"/>
<path d="M378.9,657.5 L379.1,656.0 L380.3,654.8 L382.5,654.5 L384.2,655.7 L383.5,657.4 L382.4,658.7 L380.6,658.1Z" fill="#5e5e5e" opacity="0.85"/>
<path d="M318.6,571.0 L320.2,570.3 L321.7,570.6 L321.7,572.0 L320.8,572.9 L319.5,572.4Z" fill="#5e5e5e" opacity="0.85"/>
<path d="M485.0,615.2 L483.4,615.2 L481.9,615.2 L481.4,614.2 L482.9,613.8 L483.9,613.7 L484.8,614.2Z" fill="#4e4e4e" opacity="0.75"/>
<path d="M503.2,636.4 L502.6,635.5 L503.8,635.0 L504.8,635.7 L505.5,636.0 L505.6,636.6 L505.2,637.2 L504.2,637.0 L502.9,637.2Z" fill="#4e4e4e" opacity="0.75"/>
<path d="M392.1,673.2 L391.3,672.6 L391.6,671.9 L391.5,671.0 L392.5,670.7 L393.4,671.2 L393.4,671.9 L393.5,672.4 L393.0,672.8Z" fill="#5e5e5e" opacity="0.85"/>
<path d="M418.5,675.4 L416.5,676.1 L414.7,676.0 L413.7,675.2 L413.4,674.2 L413.4,673.0 L415.1,672.2 L417.0,672.8 L418.4,673.8Z" fill="#5e5e5e" opacity="0.85"/>
<path d="M380.7,502.0 L381.9,499.7 L384.0,501.3 L386.9,502.1 L385.2,504.3 L383.7,505.6 L380.8,506.6 L379.3,504.1Z" fill="#3e3e3e" opacity="0.75"/>
<path d="M311.9,599.8 L311.2,600.2 L310.5,600.0 L309.7,599.7 L309.8,598.9 L310.1,598.1 L311.1,597.9 L312.0,598.2 L312.2,599.1Z" fill="#5e5e5e" opacity="0.85"/>
<path d="M445.8,605.0 L447.2,607.1 L446.2,609.8 L443.1,609.4 L442.6,607.1 L443.7,605.8Z" fill="#4e4e4e" opacity="0.75"/>
<path d="M457.9,667.0 L456.8,667.2 L455.9,667.0 L454.8,666.6 L455.3,665.6 L455.7,664.8 L456.9,664.6 L458.0,665.0 L457.9,666.0Z" fill="#4e4e4e" opacity="0.75"/>
<path d="M428.8,672.6 L426.9,673.7 L423.7,674.4 L422.4,671.5 L425.6,670.5 L428.2,670.5Z" fill="#5e5e5e" opacity="0.85"/>
<path d="M377.6,624.9 L377.7,624.3 L377.8,623.8 L378.5,623.8 L379.4,623.7 L379.8,624.4 L379.2,625.0 L378.4,625.3Z" fill="#5e5e5e" opacity="0.85"/>
<path d="M357.8,667.4 L359.6,667.7 L361.9,667.7 L362.4,669.4 L361.0,670.8 L358.7,671.1 L357.1,670.0 L357.7,668.7Z" fill="#5e5e5e" opacity="0.85"/>
<path d="M332.9,516.6 L335.0,512.6 L339.7,512.4 L343.3,513.9 L344.1,518.0 L338.0,519.2Z" fill="#3e3e3e" opacity="0.75"/>
<path d="M487.8,637.1 L488.1,637.8 L487.2,638.2 L486.1,638.1 L485.6,637.4 L485.8,636.7 L486.7,636.3 L487.6,636.6Z" fill="#4e4e4e" opacity="0.75"/>
<path d="M333.2,636.3 L329.0,638.2 L323.5,638.0 L321.7,634.3 L326.7,632.6 L331.7,633.0Z" fill="#5e5e5e" opacity="0.85"/>
<path d="M478.1,626.8 L479.4,627.8 L479.9,629.3 L477.8,629.3 L476.4,628.9 L476.1,627.4Z" fill="#4e4e4e" opacity="0.75"/>
<path d="M560.7,674.1 L555.7,673.6 L554.4,669.9 L557.9,668.1 L561.3,665.6 L564.4,668.5 L564.6,672.0Z" fill="#4e4e4e" opacity="0.75"/>
<path d="M396.5,511.7 L398.5,513.5 L396.6,515.8 L393.8,514.8 L390.7,512.8 L393.4,510.0Z" fill="#3e3e3e" opacity="0.75"/>
<path d="M428.0,641.9 L428.2,643.7 L428.5,646.2 L425.4,646.4 L422.5,645.1 L423.4,642.4 L425.5,640.5Z" fill="#4e4e4e" opacity="0.75"/>
<path d="M504.4,681.0 L505.8,682.2 L507.3,682.5 L507.0,683.7 L506.0,684.3 L504.9,685.7 L503.5,684.7 L502.5,683.5 L503.0,682.1Z" fill="#4e4e4e" opacity="0.75"/>
<path d="M331.6,595.5 L330.5,594.2 L331.6,593.1 L332.9,593.4 L333.8,594.4 L333.4,596.3Z" fill="#5e5e5e" opacity="0.85"/>
<path d="M382.3,588.7 L384.5,588.1 L386.3,589.5 L385.8,591.4 L384.1,592.6 L381.5,592.7 L381.3,590.8 L381.1,589.6Z" fill="#5e5e5e" opacity="0.85"/>
<path d="M405.8,562.7 L405.9,564.2 L405.5,565.4 L404.1,565.4 L403.4,564.1 L404.4,563.2Z" fill="#4e4e4e" opacity="0.75"/>
<path d="M377.1,680.7 L378.4,681.0 L378.9,681.9 L377.4,682.6 L375.3,682.3 L374.9,680.8Z" fill="#5e5e5e" opacity="0.85"/>
<path d="M501.4,634.1 L499.2,635.6 L494.6,637.5 L494.6,633.2 L493.2,629.8 L497.2,628.1 L500.2,630.2 L504.6,631.4Z" fill="#4e4e4e" opacity="0.75"/>
<path d="M327.2,661.3 L328.2,663.4 L328.9,666.0 L325.5,666.2 L323.0,667.4 L319.1,666.7 L320.5,663.6 L322.1,661.9 L324.3,660.6Z" fill="#5e5e5e" opacity="0.85"/>
<path d="M492.4,655.0 L492.5,655.5 L492.5,656.2 L491.8,656.3 L490.8,656.5 L491.0,655.6 L491.2,655.2 L491.6,654.3Z" fill="#4e4e4e" opacity="0.75"/>
<path d="M426.7,665.5 L428.9,664.7 L431.1,665.6 L431.8,667.6 L430.8,669.3 L429.1,671.3 L426.6,670.2 L425.6,667.7Z" fill="#5e5e5e" opacity="0.85"/>
<path d="M335.2,507.2 L331.8,506.8 L331.8,504.3 L335.0,503.9 L337.3,504.6 L337.9,506.4Z" fill="#3e3e3e" opacity="0.75"/>
<path d="M436.7,520.2 L435.5,520.3 L434.9,520.6 L434.4,520.2 L433.4,519.8 L434.2,519.2 L434.9,519.1 L435.6,519.0 L436.0,519.5Z" fill="#3e3e3e" opacity="0.75"/>
<path d="M417.5,615.4 L416.7,613.7 L417.7,611.3 L421.1,612.2 L421.5,614.3 L420.3,616.4Z" fill="#4e4e4e" opacity="0.75"/>
<path d="M448.3,569.2 L448.3,569.8 L448.0,570.5 L447.1,570.5 L446.2,570.3 L446.4,569.5 L446.1,568.6 L447.1,568.4 L447.8,568.8Z" fill="#4e4e4e" opacity="0.75"/>
<path d="M342.9,672.7 L343.5,674.8 L341.1,676.4 L337.0,677.2 L336.1,674.2 L335.0,672.3 L337.1,670.6 L340.0,668.8 L343.8,670.0Z" fill="#5e5e5e" opacity="0.85"/>
<path d="M415.4,677.7 L414.7,678.0 L413.9,677.7 L414.0,677.0 L414.2,676.5 L414.8,676.4 L415.4,676.5 L415.4,677.1Z" fill="#5e5e5e" opacity="0.85"/>
<path d="M532.8,624.1 L534.7,626.0 L533.7,628.5 L530.1,628.7 L527.7,628.2 L525.3,627.2 L525.2,625.1 L527.2,623.6 L529.9,623.9Z" fill="#4e4e4e" opacity="0.75"/>
<path d="M378.8,634.9 L382.1,639.1 L384.9,642.5 L381.2,645.0 L378.2,648.6 L372.8,647.3 L372.6,642.0 L375.6,639.2Z" fill="#5e5e5e" opacity="0.85"/>
<path d="M426.1,513.0 L427.7,513.6 L427.6,515.0 L427.5,516.8 L425.4,516.7 L424.4,515.3 L425.0,514.0Z" fill="#3e3e3e" opacity="0.75"/>
<path d="M425.0,511.2 L425.8,511.2 L426.2,511.6 L426.1,512.2 L425.0,512.3 L424.2,511.7Z" fill="#3e3e3e" opacity="0.75"/>
<path d="M545.7,614.2 L544.3,618.4 L539.2,616.2 L537.9,613.4 L540.2,610.9 L544.5,611.2Z" fill="#4e4e4e" opacity="0.75"/>
<path d="M397.0,657.3 L395.3,658.0 L393.7,657.2 L394.7,656.0 L395.6,655.5 L396.7,654.7 L398.0,655.4 L399.3,656.1 L399.3,657.4Z" fill="#5e5e5e" opacity="0.85"/>
<path d="M531.5,627.9 L528.1,630.5 L526.8,626.9 L524.0,624.1 L526.8,621.0 L531.3,621.1 L533.5,623.8 L533.2,626.3Z" fill="#4e4e4e" opacity="0.75"/>
<path d="M356.5,629.4 L352.6,627.5 L351.0,624.5 L351.9,621.0 L356.3,620.2 L360.8,619.8 L362.8,622.7 L362.8,625.6 L359.9,627.2Z" fill="#5e5e5e" opacity="0.85"/>
<path d="M406.0,604.7 L406.2,605.3 L406.4,606.0 L405.8,606.5 L404.7,606.8 L404.1,606.0 L404.0,605.2 L404.4,604.4 L405.4,604.1Z" fill="#4e4e4e" opacity="0.75"/>
<path d="M480.6,605.1 L479.5,603.8 L478.1,601.7 L480.9,601.7 L482.9,601.6 L484.9,603.3 L482.8,605.0Z" fill="#4e4e4e" opacity="0.75"/>
<path d="M486.9,629.0 L483.0,627.9 L480.2,625.7 L483.5,623.3 L488.5,623.8 L489.8,626.7Z" fill="#4e4e4e" opacity="0.75"/>
<path d="M425.7,626.7 L426.9,626.1 L428.2,626.6 L427.8,627.9 L426.8,628.5 L425.8,628.0Z" fill="#4e4e4e" opacity="0.75"/>
<path d="M497.2,632.9 L496.5,633.8 L495.5,633.9 L494.9,633.4 L494.8,632.9 L495.1,632.1 L496.3,632.1Z" fill="#4e4e4e" opacity="0.75"/>
<path d="M463.7,643.7 L464.9,642.8 L466.4,643.1 L466.8,644.3 L467.7,645.4 L466.7,646.6 L465.2,646.5 L463.3,646.5 L463.3,644.9Z" fill="#4e4e4e" opacity="0.75"/>
<path d="M353.4,594.8 L351.9,595.4 L350.5,595.7 L349.9,594.9 L350.0,594.0 L351.1,593.3 L352.5,593.9Z" fill="#5e5e5e" opacity="0.85"/>
<path d="M505.2,681.0 L503.9,677.9 L506.7,675.6 L510.5,675.4 L514.0,677.7 L513.3,681.8 L510.0,683.5 L505.8,685.5Z" fill="#4e4e4e" opacity="0.75"/>
<path d="M447.3,660.5 L447.5,660.1 L448.2,659.8 L448.8,660.1 L449.0,660.7 L448.3,661.0 L447.5,661.1Z" fill="#4e4e4e" opacity="0.75"/>
<path d="M425.5,644.1 L429.5,643.7 L432.8,645.1 L435.1,648.8 L430.9,650.8 L426.2,651.8 L424.5,647.8Z" fill="#4e4e4e" opacity="0.75"/>
<path d="M410.5,524.4 L414.6,523.4 L417.9,519.6 L419.1,524.6 L420.0,526.8 L421.3,531.0 L417.0,531.1 L414.5,529.6 L412.5,527.9Z" fill="#3e3e3e" opacity="0.75"/>
<path d="M434.4,656.8 L433.9,656.2 L433.9,655.4 L434.8,655.2 L435.7,655.5 L435.5,656.3 L435.1,656.6Z" fill="#4e4e4e" opacity="0.75"/>
<path d="M314.7,611.0 L315.9,609.9 L317.4,609.6 L319.1,609.6 L320.5,610.5 L319.2,611.5 L318.0,612.3 L316.7,611.6Z" fill="#5e5e5e" opacity="0.85"/>
<path d="M370.7,537.0 L368.0,536.3 L367.2,533.6 L370.0,532.8 L373.0,532.8 L372.5,535.4Z" fill="#3e3e3e" opacity="0.75"/>
<path d="M331.1,619.7 L330.3,620.2 L329.4,619.7 L329.7,619.0 L330.7,618.8 L331.5,619.2Z" fill="#5e5e5e" opacity="0.85"/>
<path d="M368.3,631.7 L368.7,632.3 L368.9,632.7 L368.9,633.3 L368.1,633.4 L367.3,633.5 L367.0,632.9 L366.5,632.3 L367.4,632.0Z" fill="#5e5e5e" opacity="0.85"/>
<path d="M514.6,674.8 L514.8,673.2 L517.5,672.8 L518.7,674.7 L517.2,676.0 L515.1,676.3Z" fill="#4e4e4e" opacity="0.75"/>
<path d="M400.9,568.7 L403.5,571.6 L402.7,574.7 L398.2,576.2 L396.9,572.9 L396.9,570.5Z" fill="#4e4e4e" opacity="0.75"/>
<path d="M438.7,631.7 L440.3,630.9 L442.0,630.8 L444.5,631.2 L443.8,632.7 L442.7,634.0 L440.6,633.4 L438.6,633.0Z" fill="#4e4e4e" opacity="0.75"/>
</g>
<rect x="309" y="496" width="254" height="189" filter="url(#noiseF)" opacity="0.35"/>
</g>
<text x="317.2" y="517.4" font-size="17" fill="#fff" font-weight="700" textLength="16.8" lengthAdjust="spacingAndGlyphs" >(f)</text>
<text x="458.0" y="553.0" font-size="15" fill="#e6e6e6" stroke="#e6e6e6" stroke-width="0.3" textLength="83.7" lengthAdjust="spacingAndGlyphs" >Top polymer</text>
<text x="411.0" y="613.8" font-size="15" fill="#ececec" stroke="#ececec" stroke-width="0.3" textLength="82.0" lengthAdjust="spacingAndGlyphs" >2nd Gr layer</text>
<text x="330.7" y="667.3" font-size="15" fill="#111" stroke="#111" stroke-width="0.3" textLength="75.3" lengthAdjust="spacingAndGlyphs" >1st Gr layer</text>
<text x="516.8" y="672.0" font-size="12" fill="#111" stroke="#111" stroke-width="0.22" textLength="34.0" lengthAdjust="spacingAndGlyphs" >50 μm</text>
<rect x="516.8" y="676" width="34.9" height="3.9" fill="#000"/>
</svg>
</body></html>
